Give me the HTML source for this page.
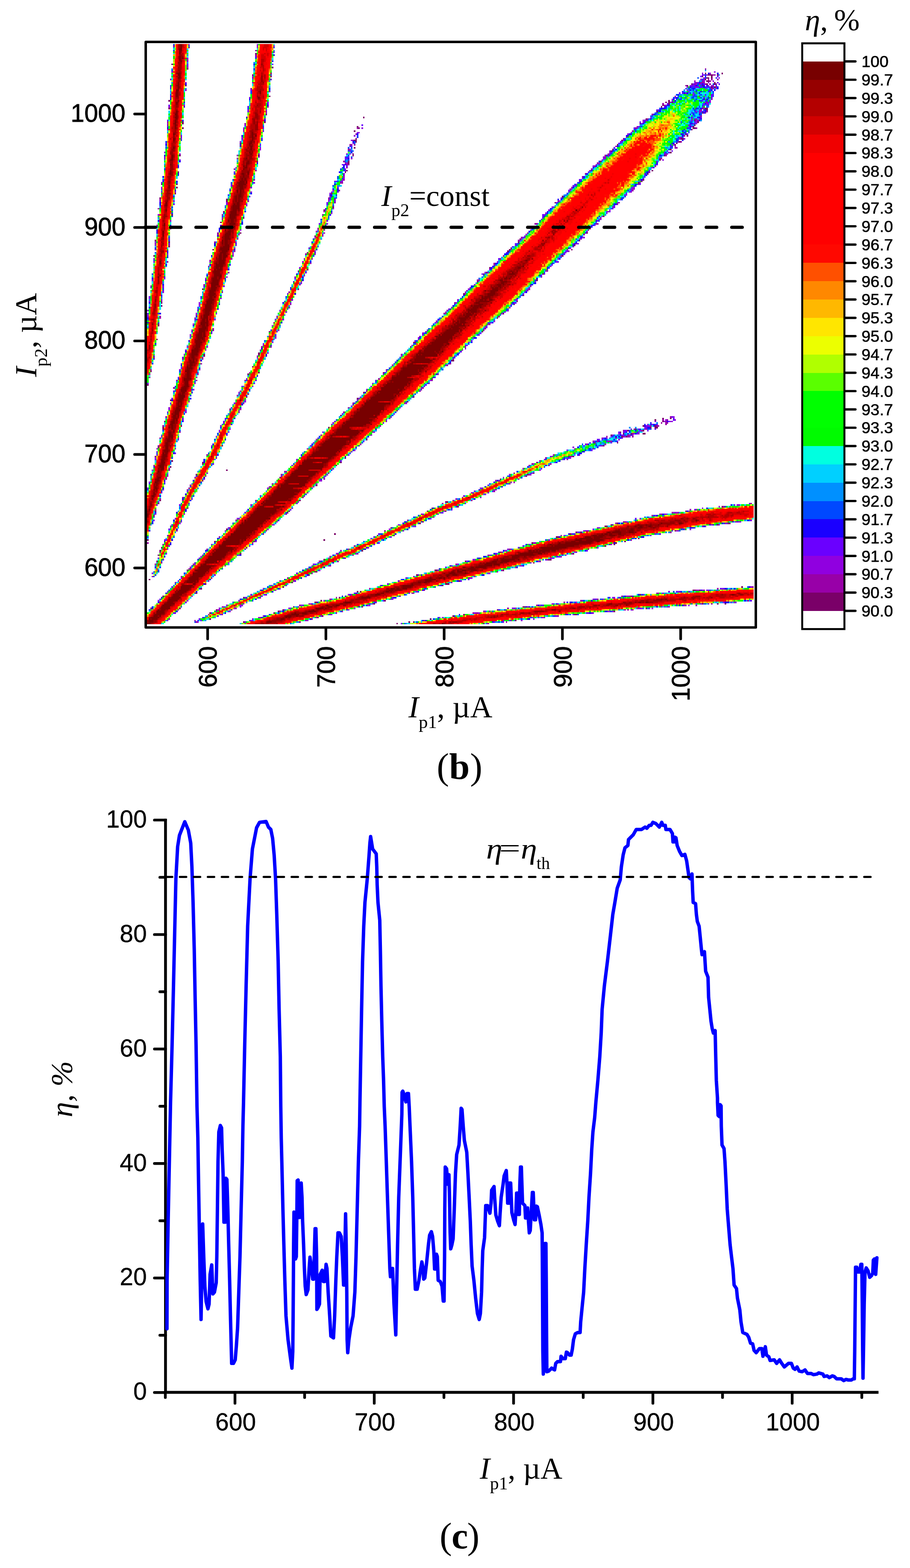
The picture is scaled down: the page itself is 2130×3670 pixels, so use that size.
<!DOCTYPE html>
<html lang="en"><head><meta charset="utf-8"><title>Figure (b), (c)</title>
<style>html,body{margin:0;padding:0;background:#fff}svg{display:block}.s{font-family:"Liberation Sans",Arial,sans-serif}.r{font-family:"Liberation Serif","Times New Roman",serif}.i{font-style:italic}.b{font-weight:bold}</style></head><body>
<svg width="2130" height="3670" viewBox="0 0 2130 3670">
<rect width="2130" height="3670" fill="#fff"/>
<g fill="none" shape-rendering="crispEdges">
<path transform="translate(0,1.5)" stroke="#0048ff" stroke-width="3" d="M405 103h4m231 7h3m-238 7h4m188 18h4m32 39h3m1014 0h3m-21 7h4m14 0h3m-1255 18h3m1231 0h4m3 0h4m-1245 7h3m1217 0h3m39 0h4m-1078 7h4m1038 0h4m14 0h4m7 0h3m-74 11h3m32 0h11m36 0h3m-89 7h4m3 0h7m32 0h4m11 0h3m-67 7h3m75 0h3m-17 7h3m7 0h4m-11 11h4m-118 7h8m81 0h4m3 0h4m7 0h4m-121 7h7m96 0h3m-110 7h4m103 11h3m-1013 7h3m879 0h7m-21 7h7m110 0h4m10 0h4m-14 7h3m4 0h3m-28 11h3m7 0h4m-1177 7h3m185 0h4m971 0h3m-761 7h4m615 7h4m-637 11h4m3 0h7m608 0h4m-11 7h4m-623 7h4m7 0h4m-18 7h3m4 0h4m714 11h4m-1120 7h3m381 0h3m0 7h4m-391 11h3m370 7h4m7 0h3m562 0h4m-580 7h4m551 7h3m143 0h3m-956 11h3m783 14h3m-555 7h4m7 0h7m516 11h3m-935 7h4m401 0h4m509 7h3m135 0h4m-1032 18h4m114 0h3m246 0h3m-21 14h4m640 0h3m-39 32h4m-15 7h4m-142 11h3m-469 7h3m-384 14h4m946 11h3m-956 7h3m932 7h4m-143 7h4m-32 25h4m-779 25h3m747 0h4m-591 18h4m700 0h4m-146 7h4m-416 7h3m402 0h4m-402 18h3m509 0h7m-21 14h3m-526 7h3m381 0h3m-665 11h4m768 0h7m-494 7h3m353 0h3m-11 7h4m-53 50h3m114 7h4m-153 25h3m-18 14h4m124 0h4m-576 7h3m111 18h3m420 7h3m-593 18h3m146 7h3m409 0h4m-11 7h4m-18 11h4m-413 14h4m-7 7h3m377 11h4m-392 7h4m11 7h3m-28 7h3m1010 0h4m-21 11h10m-35 7h3m-57 7h4m4 0h3m14 0h4m-608 7h3m566 0h3m-583 11h4m537 0h3m-981 7h3m317 0h3m623 0h3m43 0h3m-28 7h3m11 0h4m-683 7h3m562 18h4m-882 7h3m93 7h3m744 18h3m-786 7h4m725 0h8m-847 18h4m32 0h3m797 0h7m-747 7h4m-104 7h4m758 7h3m-679 11h3m-10 14h3m15 0h3m-25 11h4m-64 21h3m608 0h4m534 0h3m-562 11h4m32 0h3m-587 7h4m1270 0h3m-761 7h4m35 0h4m665 0h3m-56 7h3m14 0h4m-78 11h3m-220 7h3m-451 7h3m-43 18h4m-21 7h3m43 0h3m-288 7h4m590 0h4m163 0h4m-203 7h4m3 0h4m-608 25h3m-163 7h3m7 0h4m327 0h4m-345 11h3m57 7h4m515 0h4m146 0h3m-697 25h4m210 0h3m1049 0h4m-1209 7h3m1121 0h3m-124 7h3m-896 7h4m835 0h7m-547 11h3m751 0h3m25 0h7m-1230 7h3m384 7h4m-185 11h4m135 0h3m562 0h4m14 0h4m-879 7h4m544 0h3m214 0h3m-661 7h3m605 0h4m-516 7h3m264 0h3"/>
<path transform="translate(0,2)" stroke="#0048ff" stroke-width="4" d="M441 106h3m-43 57h4m1238 21h3m-14 11h4m32 0h3m-50 7h4m11 0h3m4 0h3m4 0h3m4 0h3m-1031 7h4m988 0h4m3 0h4m25 0h7m-1078 7h4m1024 0h4m50 0h3m-1273 4h3m1181 0h4m39 0h3m11 0h4m-1245 7h3m1174 0h4m7 0h3m4 0h3m8 0h3m11 0h7m14 0h4m-18 7h3m8 0h7m7 0h7m-21 14h3m14 0h4m-1078 4h4m960 0h4m10 0h4m60 0h4m7 0h4m-96 7h3m82 0h3m15 0h3m-114 7h4m78 0h4m21 0h4m-1217 14h4m1085 0h3m75 4h3m18 0h7m-14 14h4m3 0h4m-132 7h4m114 0h3m4 0h3m-779 11h4m622 7h4m117 0h7m-1202 7h4m437 0h4m750 0h4m-18 7h4m-1185 7h4m423 0h4m3 0h4m743 0h7m-11 4h4m-11 7h4m-747 7h4m608 0h3m118 0h3m-743 14h3m591 0h3m-1020 18h3m409 0h4m3 0h4m-11 7h4m711 0h4m-968 4h4m960 0h4m-726 7h4m715 0h3m-1131 7h4m160 0h3m-135 7h4m124 0h4m46 0h3m758 0h7m-580 7h4m565 0h4m132 0h3m-18 11h4m-146 7h4m-925 7h4m910 0h4m138 0h4m-11 7h4m-1057 18h4m121 0h3m-128 7h4m882 0h4m-890 7h4m117 0h4m750 4h4m-512 7h3m626 0h4m-139 7h4m135 0h3m-14 7h4m-879 7h4m729 4h3m-857 21h4m-4 7h4m953 0h4m-146 11h3m-21 14h4m-8 7h4m124 0h4m-928 4h3m338 0h4m562 14h3m-142 7h4m120 7h4m-139 4h4m121 7h3m-145 7h3m-608 7h3m178 0h4m409 0h3m-597 4h3m722 0h4m-7 7h3m-871 14h4m295 0h3m417 0h3m-725 18h3m89 0h4m195 0h4m544 0h3m-757 25h3m719 7h3m-818 7h4m661 7h4m-694 7h4m110 0h4m551 11h4m-384 14h3m356 7h7m-356 4h4m469 0h4m-502 14h4m352 0h4m-11 7h7m121 0h4m-164 32h3m121 0h4m-139 11h4m-18 14h4m117 0h3m-615 7h4m-7 18h3m36 7h3m420 0h4m-434 18h3m-7 14h4m128 0h3m388 0h3m-405 18h4m259 0h4m92 21h4m-498 4h3m93 14h3m257 0h3m-274 18h4m-139 7h4m35 0h4m1049 0h4m-968 7h4m17 0h4m935 0h4m-726 7h4m683 0h3m-935 7h4m910 0h7m-28 4h3m36 0h3m4 0h4m-82 7h3m29 0h3m-572 14h3m551 0h4m-1017 7h3m118 0h3m328 0h3m-420 11h4m925 0h3m-647 14h3m-330 7h3m911 0h3m-57 25h4m-754 11h4m-8 7h4m260 7h3m434 0h4m-456 14h4m-267 4h4m619 7h3m-53 18h3m39 0h4m626 0h4m-694 7h4m626 0h3m-971 7h4m306 7h3m548 0h3m18 0h4m-1131 11h3m569 0h4m487 0h4m263 0h3m-1212 7h3m431 0h3m711 0h4m-103 14h7m-245 7h3m-469 4h7m444 0h4m-1000 7h4m57 0h4m867 7h4m-779 7h4m377 0h3m-18 7h4m-395 18h4m846 0h4m-29 7h4m-928 11h3m-7 14h4m345 0h7m-360 7h4m-11 11h4m43 21h3m228 0h3m-18 7h4m388 0h3m729 0h4m-1288 4h4m523 0h7m711 0h4m-736 7h3m594 0h4m-761 7h3m679 0h4m-928 7h3m843 0h4m25 0h3m4 0h3m-871 7h3m772 0h4m-825 4h3m196 0h3m128 0h4m466 0h3m-81 7h3m313 0h4m-374 7h4m-420 7h4m352 0h3m274 0h4m-939 4h3m153 0h4m409 7h3m228 0h4m-285 7h4m7 0h3m192 0h4m-768 7h3m516 0h4m188 0h4m3 0h4"/>
<path transform="translate(0,1.5)" stroke="#0090ff" stroke-width="3" d="M405 110h4m231 7h3m-242 43h4m188 14h4m1085 0h3m-1284 18h4m28 14h4m1177 0h4m18 0h3m14 0h4m14 0h4m-1277 7h3m1199 0h4m17 0h4m11 0h3m-21 11h3m22 0h3m4 0h3m-53 7h4m21 0h3m29 0h3m-56 7h3m-1024 7h3m1050 0h3m-92 11h3m71 0h4m3 0h4m-7 7h3m-1010 7h4m999 0h4m11 0h3m-114 7h4m-957 18h4m1035 0h3m-999 7h3m-227 7h3m171 18h4m885 7h4m-1071 7h4m217 0h3m811 25h4m114 0h10m-1166 7h3m423 0h4m597 0h4m125 0h3m-1159 11h3m29 0h3m978 0h4m3 0h4m-18 7h4m128 0h3m-153 18h4m117 14h4m-18 7h7m-14 11h4m-698 7h4m683 0h3m-1091 7h3m939 0h4m3 0h4m-797 7h4m-11 18h3m235 0h4m530 0h3m132 0h3m-153 14h8m-769 11h4m43 0h3m196 7h3m473 25h4m-690 7h3m-195 7h3m25 0h4m964 0h3m-615 7h4m448 18h3m-14 14h4m-22 11h4m128 0h7m-587 7h4m437 0h4m-783 14h4m892 0h4m-573 11h4m-334 7h3m96 0h4m42 0h4m178 0h3m420 0h4m-783 7h4m21 11h4m92 14h4m39 7h3m694 11h3m-842 7h3m288 0h4m526 14h4m-25 18h3m-515 7h3m359 7h4m-406 43h4m11 7h3m-284 25h3m704 14h4m-452 7h4m309 0h7m-515 18h3m488 0h3m-498 14h4m601 0h3m-430 11h4m-146 7h3m111 14h3m11 11h3m-17 25h3m-28 7h3m-18 25h4m18 0h3m360 0h3m-530 7h4m32 14h3m1064 11h3m11 0h4m-751 7h4m-384 7h3m128 0h4m935 0h4m14 0h3m-722 7h4m697 0h4m-929 11h4m868 0h3m11 0h7m-18 7h4m-569 7h3m548 0h4m-982 7h4m96 11h3m196 0h3m-206 7h4m736 14h3m-853 18h3m-42 7h3m402 0h4m-288 7h3m-28 11h3m-3 32h3m-35 32h3m157 0h3m-220 7h3m303 0h3m893 0h3m-1003 7h4m-160 11h4m1059 0h4m4 0h3m238 0h4m-1369 7h3m580 0h3m-540 7h3m15 0h3m100 18h3m801 0h3m185 0h4m-1003 7h3m968 0h3m-224 7h4m188 0h4m-217 7h3m178 0h4m-228 11h4m-420 14h4m32 0h3m-455 18h3m377 0h4m-388 7h4m700 0h4m139 0h3m-498 7h4m469 0h8m-47 7h4m-655 11h4m196 7h3m384 0h4m-441 7h3m399 0h7m-651 7h4m220 0h4m3 0h4m1024 11h4m7 0h7m-847 7h4m708 0h3m4 0h7m-982 7h4m348 0h4m-68 18h4m757 0h4m-1106 7h3m164 0h4m860 0h4m-391 7h3m274 0h4m7 0h3m-131 11h3m-832 7h4m-118 7h4m89 0h3m719 0h3m-256 7h4"/>
<path transform="translate(0,2)" stroke="#0090ff" stroke-width="4" d="M437 127h4m-4 18h4m152 0h4m-4 7h4m-4 11h4m1053 0h3m-1063 21h3m36 4h4m1003 0h7m-1014 14h4m967 7h4m7 0h3m4 0h3m-10 7h3m11 0h3m4 0h4m-47 4h7m11 0h4m17 0h4m4 0h3m-11 7h4m21 0h4m-1074 7h3m-156 7h3m1156 0h4m50 0h3m-82 7h4m89 0h3m-24 4h3m-89 7h4m64 0h3m11 0h4m-100 7h7m82 0h3m-103 7h7m82 0h4m3 0h4m-11 7h4m3 0h4m14 0h4m-32 4h3m-999 7h3m879 0h7m114 0h7m-132 7h4m103 7h4m-4 7h4m-22 4h4m-22 14h4m7 0h7m-135 7h4m106 7h7m-743 4h4m611 0h4m-7 7h3m114 7h4m-14 7h3m-989 7h4m252 0h4m594 0h3m-24 18h3m128 0h7m-146 7h4m-790 11h4m772 0h3m132 0h4m-726 14h4m3 7h7m680 4h3m-1102 7h3m1092 0h4m-690 14h3m-210 7h4m732 0h4m-541 11h4m519 0h4m-932 7h4m1049 0h3m-654 7h3m637 11h4m-1050 7h4m192 7h4m181 0h4m625 14h4m-640 11h3m-192 14h4m661 7h4m-718 4h3m694 14h3m-661 7h3m765 7h3m-7 4h4m-925 14h4m775 0h4m117 7h4m-804 7h3m43 0h4m736 4h3m-579 7h3m-320 25h4m96 0h3m217 0h4m409 0h3m-434 7h4m544 7h4m-761 7h3m-128 18h4m160 7h3m160 7h4m384 0h3m-17 11h3m103 21h4m-704 4h3m566 0h3m-683 14h4m772 14h3m-679 11h4m188 7h4m-32 25h3m455 7h4m-18 14h4m-448 18h3m-153 14h4m117 4h4m-171 14h4m586 0h4m-14 7h3m-586 7h3m153 4h4m412 0h4m-580 7h4m565 0h4m-132 7h4m110 7h3m-25 18h4m-509 7h4m494 0h4m-544 11h3m139 0h4m256 7h3m740 14h4m-68 11h4m10 0h4m-612 7h4m611 0h4m-36 7h4m-29 7h4m11 0h3m-43 7h4m-1003 4h4m320 0h3m665 0h4m28 0h4m-36 7h4m3 0h4m-53 7h3m-25 7h4m32 0h3m-672 7h4m640 0h4m-54 4h7m36 0h3m-24 7h3m-928 7h3m904 0h3m-910 7h3m93 0h3m786 0h4m-50 7h4m-779 11h3m783 0h3m-590 7h4m565 0h4m-882 7h3m825 18h4m-722 7h3m698 0h3m-544 7h3m506 7h3m-64 11h4m32 0h3m-512 7h4m451 0h4m-615 7h3m-25 4h4m163 0h4m455 7h4m3 0h4m533 7h4m-939 14h3m-302 4h4m601 0h3m779 0h4m-1103 7h4m1035 0h3m-722 7h4m-434 7h4m412 0h4m-544 7h3m206 0h4m313 0h3m424 0h3m192 0h4m3 0h4m-957 4h4m921 0h7m-633 7h4m-22 7h4m576 0h4m-68 14h3m-921 4h4m331 0h3m14 7h4m512 0h4m-199 7h3m-28 7h3m128 7h4m-733 4h4m210 0h3m-224 7h4m202 0h4m28 0h4m448 0h4m-29 7h4m-459 7h3m-313 7h4m558 0h4m-46 11h3m110 7h4m-398 7h3m-277 11h3m217 0h4m1085 0h3m11 0h3m-1123 7h3m366 0h4m626 0h4m10 0h4m-669 7h4m569 0h3m-942 14h3m178 0h4m978 0h3m4 0h3m-1180 4h3m761 0h4m11 0h3m317 0h3m7 0h7m-188 14h4m7 0h3m-861 7h4m-181 11h7m135 0h3m449 0h3m203 0h3m8 0h3m-277 7h3m-327 7h7m459 0h7"/>
<path transform="translate(0,1.5)" stroke="#00d0ff" stroke-width="3" d="M636 124h4m-239 50h4m224 25h4m999 7h4m-1206 7h3m1181 0h7m11 0h4m17 0h4m7 0h4m-54 11h4m35 0h4m3 0h4m-53 7h7m14 0h7m21 0h4m-92 14h3m75 0h3m-64 11h4m21 0h7m11 0h4m-29 7h4m3 0h4m14 0h4m-1242 7h4m1209 0h4m17 0h8m-25 7h7m14 0h4m-128 11h3m93 0h7m-4 14h7m-1045 7h3m907 0h4m-872 11h4m-7 14h3m-192 18h4m135 0h3m996 0h4m-1003 7h3m989 0h4m-1000 14h4m43 11h3m914 7h4m-929 18h4m772 0h3m-779 7h4m772 0h3m114 7h7m-1088 32h4m1049 0h3m-25 18h4m-1039 14h4m167 0h4m846 0h7m-14 7h4m-22 18h4m-1003 7h3m160 7h4m807 11h4m-622 7h3m480 0h4m-18 14h4m-865 18h4m359 0h4m604 0h7m-39 32h4m-918 7h4m146 0h3m164 7h3m434 11h4m128 0h3m-579 7h3m438 0h3m125 0h3m-7 7h4m-911 11h4m167 0h3m591 0h3m121 0h4m-142 14h3m125 0h3m-142 7h4m113 18h4m-14 7h7m-861 7h4m21 11h4m668 7h4m-399 7h4m-153 7h4m650 0h8m-157 25h4m92 25h7m-668 7h3m43 0h3m609 0h3m-665 7h4m42 0h4m-11 18h4m-7 7h3m-7 7h4m128 0h3m434 18h4m-580 7h3m566 0h3m-145 18h3m110 7h4m-128 7h4m113 0h4m-548 7h4m533 0h4m-544 11h3m399 7h3m-35 32h3m-11 7h4m-391 25h3m-42 7h3m391 0h4m715 18h7m-1088 7h3m86 7h3m925 0h7m4 0h3m-50 11h4m18 0h3m4 0h3m-67 7h3m25 0h4m-900 7h3m18 0h4m309 0h4m533 0h4m-50 7h4m-25 11h3m-501 7h3m-441 7h4m323 0h4m566 0h3m25 0h4m3 0h4m-833 18h4m203 0h3m548 0h4m-562 7h3m569 0h4m-772 25h4m693 7h4m-729 7h3m11 7h3m605 18h3m33 0h3m-60 7h3m619 11h4m-1309 7h3m207 7h3m996 0h4m-54 7h4m-971 11h3m1153 0h3m-306 14h4m-1014 7h4m210 11h3m715 0h4m188 0h4m-1178 7h4m39 0h4m903 0h4m-445 7h4m-360 7h4m82 0h7m249 0h3m-355 11h3m-10 7h3m694 0h3m132 7h3m-256 25h4m149 0h4m-708 14h4m494 0h4m-516 11h3m182 0h3m288 0h4m132 0h3m-697 14h4m501 0h4m-64 18h3m4 0h3m801 0h3m-1078 7h4m-156 14h3m-14 11h3m299 0h7m914 0h4m-968 7h4m149 0h4m683 0h7m14 0h4m-886 7h4m501 0h7m271 0h3m-352 11h4m-374 7h4m302 0h4m213 0h4m3 0h4m-801 7h4m7 0h4m113 0h4m114 0h3m271 0h3m-611 7h3m181 0h4m121 0h3m267 0h4m160 0h3"/>
<path transform="translate(0,2)" stroke="#00d0ff" stroke-width="4" d="M437 113h4m-4 7h4m195 18h4m-43 7h4m-168 39h4m-39 25h3m1224 0h3m-1230 7h3m1252 0h7m4 0h4m-72 4h4m43 0h7m3 0h7m-1230 7h3m1156 0h4m21 0h4m7 0h3m22 0h3m-71 7h4m60 0h4m-1067 7h3m1000 0h3m47 0h3m-78 7h3m68 0h4m-75 4h3m25 0h4m-1199 7h4m1149 0h3m64 0h4m3 0h4m-1199 7h4m1113 0h4m53 0h4m28 0h4m-11 7h7m-114 7h4m78 4h4m17 0h4m-39 14h3m-1198 7h3m1195 0h4m-1170 7h3m1149 0h4m-103 4h3m107 0h3m-121 7h8m-18 7h3m-7 7h4m-897 7h4m999 0h4m-124 4h3m-629 7h3m740 0h3m-754 7h4m-398 14h3m1121 0h3m-146 11h4m-804 7h4m199 7h3m580 0h4m-11 4h3m-967 7h4m373 7h4m3 14h4m-391 4h3m366 0h4m562 0h3m-10 7h3m-757 7h3m744 0h3m128 0h4m-932 7h4m917 0h4m-1053 7h4m1035 0h7m-680 4h4m669 0h3m-875 21h4m715 0h3m-11 7h4m-28 25h3m125 0h3m-139 11h4m121 0h3m-10 7h3m-138 7h3m118 7h3m-615 18h3m-355 7h3m804 0h4m-488 18h4m462 0h4m-11 7h7m114 7h4m-591 32h4m427 0h3m-619 18h4m718 0h4m-11 7h4m-548 7h4m-345 7h3m22 0h3m711 0h4m-718 4h3m93 0h3m743 0h4m-875 28h4m21 0h4m88 4h4m188 0h4m-292 28h4m775 4h7m-501 14h3m474 0h3m-487 7h3m473 0h4m-761 7h3m744 4h3m-626 7h4m146 0h3m445 14h3m-135 11h4m-335 7h4m313 7h4m-520 14h4m167 0h4m-246 4h4m690 0h3m-587 7h4m142 0h4m419 7h4m-576 7h3m562 0h4m-14 11h3m-448 14h4m17 0h4m267 14h3m-288 11h4m-25 7h3m392 11h7m-523 14h4m99 7h4m270 0h4m-388 7h3m370 4h4m-11 7h4m-256 7h3m-163 7h3m36 0h3m-42 7h3m150 4h3m345 0h4m-356 7h4m337 0h4m605 0h3m-21 7h3m4 0h4m-32 7h3m-1074 7h4m473 0h3m569 0h4m7 0h3m-935 4h4m341 0h4m-331 7h3m210 0h4m665 0h3m4 0h3m-896 7h4m203 0h3m630 0h3m7 0h4m10 0h8m-54 7h4m35 0h4m-868 7h4m793 0h3m7 0h4m21 4h4m-64 7h3m-921 7h4m935 0h4m-911 14h4m71 0h4m17 0h4m736 4h4m28 0h4m-911 7h4m412 0h4m437 0h4m-861 7h4m-7 14h3m288 4h4m89 7h3m-17 14h3m363 11h3m-501 21h3m484 0h7m658 0h4m-246 32h4m-548 4h4m786 0h3m-298 7h3m-32 7h7m-39 7h4m-868 7h3m321 25h3m-284 18h3m231 0h4m558 0h4m-594 14h3m36 0h4m-32 11h3m430 7h4m7 0h4m-786 7h3m744 0h3m-832 14h3m623 0h3m143 0h3m-711 4h3m64 0h4m213 0h4m-235 14h4m170 0h4m-18 7h4m387 0h4m-569 7h4m409 0h3m-14 4h3m829 0h4m32 0h3m-1138 7h4m988 0h4m4 0h3m11 0h3m-1006 7h3m872 0h3m15 0h3m-1067 7h4m996 0h3m-555 7h4m473 0h7m363 0h3m-71 4h4m32 0h3m4 0h3m-153 7h4m-1053 7h4m619 7h3m-619 4h4m121 0h3m132 0h4m583 0h3m-302 7h4m202 0h4m7 0h4m-569 7h3m491 0h3m4 0h4m-242 7h3m182 0h3"/>
<path transform="translate(0,1.5)" stroke="#00fb00" stroke-width="3" d="M437 117h4m160 0h3m-167 7h4m-36 25h4m224 18h3m-203 14h4m1199 18h3m0 7h4m3 0h4m-43 7h4m-18 11h3m8 0h3m25 0h4m-50 7h3m29 0h7m25 0h3m-71 7h4m25 0h3m14 0h8m3 0h4m-64 7h3m11 0h3m-56 18h3m14 0h4m-1135 7h4m1117 0h3m68 0h3m-17 7h3m14 0h4m-1231 18h4m1188 0h3m7 0h8m-22 7h4m10 0h4m-989 7h4m868 0h3m-18 11h4m-7 7h3m-903 7h4m999 0h4m-968 7h4m-4 11h4m935 7h4m-11 7h4m-939 7h3m811 0h4m-22 18h4m114 0h3m-967 7h3m239 18h3m-206 7h3m769 0h3m132 0h3m-711 7h7m555 0h4m-946 11h3m921 7h4m-932 14h4m366 0h7m537 0h4m-555 11h7m3 0h4m-409 14h4m398 0h3m-409 18h4m381 0h3m-192 7h4m195 0h4m626 0h3m-135 7h4m121 0h3m-996 18h4m-4 7h4m156 0h4m-4 7h4m171 18h3m-341 14h3m804 0h4m-705 7h4m-139 11h4m363 0h3m-370 7h4m345 0h3m456 0h3m-466 7h4m569 7h3m-899 11h3m875 7h4m-783 7h4m761 11h3m-24 21h3m-548 18h4m395 0h3m-615 7h4m39 0h3m-53 25h3m189 0h3m516 0h4m-808 14h4m640 18h4m-651 7h3m281 0h4m445 25h3m-128 7h4m-374 32h4m334 0h4m96 18h3m-163 39h3m107 7h3m-17 18h3m-146 25h4m92 14h4m-548 32h4m1095 25h4m-637 14h4m547 11h4m7 0h4m3 0h4m-591 7h4m519 0h4m-7 7h3m-846 7h3m811 0h4m17 0h4m-950 11h4m889 0h4m-505 14h3m466 0h4m-484 7h4m-427 11h3m889 0h11m-43 14h4m-871 7h3m295 0h4m516 18h3m-715 7h4m-25 7h4m672 11h3m-515 7h3m413 18h3m-441 7h4m89 0h3m939 0h4m-1206 7h4m1156 0h3m-921 7h3m317 0h4m32 0h3m-370 11h4m1063 0h4m-1170 7h3m1106 0h4m14 0h4m-1046 7h4m288 0h7m483 0h4m-797 7h4m284 0h4m-566 11h4m1160 0h3m-612 7h4m388 0h3m7 0h4m-39 7h3m-35 7h3m-391 11h4m522 0h4m-580 7h4m-331 14h4m74 0h4m220 0h4m25 0h3m281 11h4m146 0h7m-199 14h3m139 0h3m-35 7h3m4 0h4m-737 11h4m281 0h3m260 0h4m-313 21h3m228 0h3m-501 11h3m239 0h3m210 0h4m825 0h3m-1088 7h4m942 0h4m-619 7h3m552 0h3m-917 7h3m210 0h4m117 0h3m4 0h4m-548 11h3m491 0h4m-29 7h4m679 0h4m-338 7h3m246 0h3m-803 11h3m455 0h4m-480 7h3m434 0h4m181 0h4m-768 7h3m711 0h4m7 0h4m-260 7h4m181 0h4"/>
<path transform="translate(0,2)" stroke="#00fb00" stroke-width="4" d="M636 120h4m-4 7h4m-7 18h3m-235 25h4m28 0h4m156 0h4m-196 7h4m1231 32h7m3 0h11m-29 7h4m28 0h4m-1078 4h4m1021 0h10m11 7h7m21 0h4m-1234 7h3m1142 0h4m7 0h7m3 0h4m14 0h4m10 0h4m25 0h3m-88 7h7m17 0h8m17 0h4m3 0h8m-18 7h3m25 0h4m-78 4h3m11 0h3m22 0h7m7 0h3m-1234 14h4m1206 0h3m-67 7h3m53 0h4m0 7h4m7 0h3m-103 4h7m68 7h7m11 0h7m-114 7h3m93 0h3m4 0h7m-124 7h3m121 0h4m-132 7h4m103 0h3m-978 4h4m857 0h4m99 0h4m0 7h3m-28 14h3m-110 7h4m-1064 4h4m28 0h4m1124 7h3m-121 7h4m-1017 7h3m1000 0h3m114 0h4m-1156 7h3m1142 0h7m-982 4h4m-174 7h3m1135 0h3m-725 7h3m-391 11h4m384 0h3m-3 7h3m569 0h4m124 0h4m-708 7h4m558 7h4m121 0h7m-904 7h4m192 0h4m565 0h4m121 0h7m-697 11h3m676 0h3m-931 7h3m238 0h4m4 0h3m-11 7h4m658 11h4m-139 7h3m-540 21h3m637 0h3m-650 4h3m647 0h4m-896 14h3m239 7h3m-203 11h4m192 0h4m604 7h4m-18 14h4m-623 7h4m487 4h4m99 14h4m-135 7h3m-836 11h4m128 14h3m40 0h3m-156 25h3m882 0h4m-889 7h3m872 0h3m-882 11h4m320 0h3m-352 21h4m117 0h4m611 11h4m-580 7h4m153 0h3m537 0h4m-32 21h3m-679 4h4m160 0h3m384 0h4m-715 7h4m828 0h4m-836 7h4m818 0h3m-512 7h4m487 7h3m-811 4h4m-4 7h4m790 0h3m-647 14h3m505 0h4m121 0h4m-641 7h4m135 0h4m359 4h3m-373 14h3m8 7h3m-21 7h3m466 0h4m-608 4h3m-124 14h3m71 0h4m36 0h3m-46 7h3m-78 7h4m690 0h3m-455 4h4m327 0h3m-512 28h4m160 0h3m306 4h4m117 0h4m-673 7h4m249 0h4m-257 7h4m103 7h4m-7 7h3m-42 4h3m448 0h4m114 0h3m-131 14h3m110 0h4m-526 7h3m509 0h7m-519 4h3m107 0h3m7 14h4m-139 25h4m99 0h4m256 7h4m-260 18h4m345 0h3m591 7h3m11 0h3m-629 7h3m-451 7h3m996 11h4m-29 7h4m-36 7h4m-4 7h4m3 0h4m-57 7h3m-17 4h3m7 0h4m25 0h3m-640 7h4m611 0h4m-626 7h4m569 0h3m-793 7h4m771 0h4m-576 7h3m559 0h3m-569 4h4m548 0h3m-843 14h4m804 0h3m-14 7h3m-88 39h3m-736 18h3m324 0h4m1063 7h4m-1327 4h4m590 0h3m-7 14h4m562 0h3m-56 7h10m-558 11h3m495 0h3m242 0h4m-1387 7h3m1330 0h4m-1149 7h4m384 0h3m673 7h3m-992 7h3m-96 4h4m1003 0h3m-220 7h3m-455 7h4m416 0h3m-899 7h3m868 0h4m-765 7h3m367 0h3m-487 4h4m832 0h7m171 0h3m-910 7h3m872 0h3m-540 7h7m466 7h3m-540 7h3m349 0h3m-579 4h3m217 0h4m-388 7h4m366 0h3m8 7h3m292 0h3m135 0h4m-164 7h4m132 0h3m-441 7h4m-54 11h4m281 0h3m128 0h4m-210 21h4m124 0h4m-623 11h4m235 0h3m331 0h3m662 0h4m-811 7h3m683 0h4m-914 7h3m-18 7h4m786 0h3m-633 4h4m121 0h3m-163 7h7m565 0h4m292 0h3m4 0h3m-768 7h4m-416 7h3m89 0h4m160 0h3m487 0h4m181 4h4m21 0h4m-971 7h3m224 0h4m-153 7h4m117 0h4m113 0h4m309 0h4m199 0h4m-658 7h3"/>
<path transform="translate(0,1.5)" stroke="#00ff00" stroke-width="3" d="M604 103h4m-7 21h3m-199 11h4m188 7h4m-4 7h4m-168 25h4m192 0h4m-232 25h4m1238 7h3m-1021 7h4m996 0h3m15 0h3m4 0h3m-1223 11h3m153 0h4m35 0h4m960 0h4m14 0h4m35 0h4m7 0h3m-1230 7h3m1174 0h4m-1213 7h3m1188 0h7m25 0h7m18 0h4m-1028 7h3m943 0h4m17 0h4m14 0h11m3 0h15m-86 11h11m3 0h4m7 0h7m4 0h3m18 0h4m-64 7h7m10 0h4m18 0h7m3 0h11m-75 7h8m10 0h4m42 0h8m7 0h3m-1220 7h4m178 0h3m950 0h11m3 0h7m4 0h3m36 0h3m-17 11h7m7 0h3m4 0h4m-100 7h4m3 0h4m64 0h3m22 0h7m-114 7h3m4 0h4m60 0h4m14 0h3m4 0h3m-106 7h3m4 0h3m68 0h4m17 0h4m3 0h4m-1031 11h3m904 0h3m85 0h4m4 0h7m-111 7h4m82 0h7m3 0h11m-1156 7h4m1035 0h3m4 0h3m82 0h18m-110 7h3m-1074 11h4m1053 0h3m100 0h3m4 0h3m-1170 7h4m1042 0h3m104 0h3m-124 7h3m-1006 7h3m1000 0h3m107 0h3m-935 11h4m-217 14h3m409 0h7m584 0h3m118 0h10m-1106 11h4m960 0h3m4 0h4m110 0h7m-14 7h3m4 0h3m-707 7h3m-416 7h4m402 0h3m566 0h7m-18 11h3m121 0h4m-686 7h3m548 0h3m121 0h4m-14 7h7m-135 7h3m125 0h3m-146 11h4m128 0h4m-18 7h7m-669 7h4m651 0h3m-1021 7h4m356 0h3m7 0h4m516 0h3m-896 11h3m875 0h7m-885 7h3m868 0h7m107 7h4m-993 7h4m348 0h4m512 0h4m110 0h3m-131 11h3m118 0h3m-128 7h4m117 0h4m-139 7h7m114 0h7m-18 7h4m-128 11h7m-18 7h4m3 0h4m-14 7h3m114 0h4m-8 7h4m-932 11h4m149 0h4m636 0h4m117 0h4m-132 7h4m3 0h4m107 0h7m-576 7h3m562 0h4m-907 7h3m146 0h4m163 11h4m444 0h4m114 0h7m-139 14h4m-658 11h3m-128 7h4m334 7h4m-345 7h3m317 11h3m413 0h7m-743 7h3m118 0h3m-103 7h4m302 0h3m392 0h3m-729 18h4m113 0h4m188 0h4m398 0h4m117 0h4m-836 7h4m153 0h3m541 0h3m111 7h7m-509 7h4m-11 11h3m367 0h3m-10 7h3m114 0h4m-128 7h3m-647 7h3m630 0h7m114 0h3m-675 11h3m39 0h4m146 0h3m463 0h7m-132 7h4m-623 7h4m-7 7h7m601 0h3m-359 11h4m10 0h4m327 0h7m111 0h7m-648 7h4m171 0h3m455 0h4m-640 7h3m36 0h4m-43 7h3m182 0h3m-153 11h4m142 0h4m313 0h3m-579 7h3m253 0h3m-7 7h4m419 0h4m-683 7h4m234 0h4m-246 11h4m662 0h3m-669 7h4m64 7h4m-4 7h4m569 0h3m-14 11h4m-534 7h4m103 18h3m392 0h3m-21 14h3m-537 7h4m512 11h4m-121 7h3m-377 14h4m99 0h4m363 0h7m-363 11h4m-121 7h3m448 0h4m-11 7h7m-341 7h3m-10 11h3m214 0h3m-242 7h4m875 0h7m4 0h3m-1021 7h4m349 0h3m100 0h3m519 0h4m11 0h3m4 0h3m-971 7h4m309 0h4m605 0h3m7 0h11m11 0h7m-879 11h7m811 0h4m14 0h11m-633 7h3m96 0h4m501 0h14m-67 14h3m-860 11h3m281 0h4m-324 7h4m309 0h4m562 0h3m-850 7h4m804 0h3m-814 7h3m359 0h4m427 0h3m25 0h4m-473 11h3m-391 7h4m28 0h4m-7 7h3m245 0h4m96 0h4m394 0h4m25 0h3m-547 18h3m86 7h3m395 0h4m-733 7h3m715 0h4m-726 11h4m217 0h3m1082 0h3m14 0h4m-1259 7h3m569 0h4m28 0h4m580 0h3m-601 7h4m551 0h4m-1224 7h4m298 0h4m345 0h4m515 0h7m-1113 11h4m1049 0h4m227 0h4m-1291 7h3m548 0h7m683 0h3m-1312 7h4m177 7h4m377 0h4m24 0h4m437 0h4m-466 11h4m583 0h4m-907 7h3m872 0h3m-974 7h3m82 0h3m264 0h3m409 0h4m-889 7h3m7 0h4m444 0h4m398 0h4m171 0h3m-604 11h3m-260 7h4m619 0h3m-814 7h4m99 0h4m334 0h4m334 0h3m153 0h4m-562 18h4m337 0h4m-729 7h3m82 0h4m277 0h4m25 0h3m306 0h4m131 0h4m-694 7h4m203 0h3m306 0h3m4 0h4m128 0h3m4 0h7m-818 7h3m68 0h4m64 0h3m221 0h7m274 0h3m-331 11h4m-199 7h3m178 0h4m277 0h4m128 0h3m-434 7h4m25 0h3m239 0h7m-455 7h3m423 0h4m121 0h3m-412 11h3m360 0h7m686 0h4m25 0h3m-1312 7h3m445 0h3m111 0h3m612 0h11m-1195 7h3m196 0h3m22 0h3m875 0h11m-1120 7h3m192 0h4m14 0h3m193 0h3m626 0h4m10 0h4m320 0h3m-1212 11h3m18 0h4m750 0h4m291 0h4m14 0h7m-935 7h3m544 0h4m21 0h4m210 0h3m11 0h4m3 0h7m4 0h7m14 0h4m-1195 7h3m324 0h3m118 0h3m392 0h3m7 0h4m217 0h3m7 0h4m-352 11h3m221 0h3m4 0h4m-843 7h3m4 0h3m7 0h4m235 0h3m303 0h3m203 0h7m-548 7h4m288 0h3m8 0h3m153 0h4m10 0h7m-615 7h4"/>
<path transform="translate(0,2)" stroke="#00ff00" stroke-width="4" d="M405 120h4m-4 11h4m24 7h4m156 39h4m32 7h4m-43 4h3m-192 7h4m224 0h4m978 7h3m18 7h4m-1206 7h3m-3 4h3m192 0h4m971 0h7m53 0h4m-1078 7h4m1006 0h8m-1206 7h3m224 0h4m964 0h3m4 0h4m3 0h7m4 0h3m11 0h4m-1238 7h3m25 0h4m192 0h3m957 0h4m39 0h3m-1006 7h3m943 0h7m11 0h3m11 0h4m21 0h7m-1234 4h3m182 0h3m36 0h3m939 0h8m7 0h3m25 0h4m-1185 7h4m1127 0h11m11 0h3m4 0h7m14 0h4m-64 7h3m4 0h7m25 0h3m4 0h3m11 0h4m-1217 7h4m28 0h4m188 0h4m914 0h4m3 0h7m43 0h3m4 0h4m3 0h4m-89 7h3m4 0h3m50 0h4m10 0h4m4 0h3m-1184 4h3m1092 0h4m10 0h4m11 0h3m36 0h3m7 0h4m7 0h4m-1188 7h3m1082 0h3m71 0h4m-1192 7h4m174 0h4m932 0h7m67 0h4m3 0h4m3 0h4m-1177 7h3m1064 0h10m72 0h3m4 0h7m-103 7h3m78 0h4m4 0h3m4 0h7m-1017 4h3m907 0h4m85 0h7m-1156 7h4m1053 0h3m82 0h3m4 0h7m-114 7h7m86 0h3m4 0h3m4 0h7m-25 7h4m7 0h7m4 0h3m-1184 7h3m25 0h4m1021 0h3m100 0h10m-953 4h4m839 0h4m103 0h7m-1174 7h4m1045 0h4m103 0h4m3 0h4m-1167 7h4m25 0h3m139 0h3m872 0h3m100 0h4m-939 7h3m822 0h3m-25 11h4m117 0h4m3 0h4m-982 7h4m843 0h7m117 0h4m-14 7h3m-10 7h3m-918 4h4m786 0h4m-840 7h4m242 0h3m701 0h3m-910 7h3m772 0h7m121 0h4m-1117 7h4m25 0h3m377 0h7m-416 7h4m971 0h3m-818 4h4m238 0h4m561 0h4m-11 7h4m117 0h4m-1088 7h3m402 0h4m668 0h4m-879 7h4m743 0h4m117 0h4m-918 7h4m238 0h7m654 0h8m-666 4h4m-14 7h3m662 0h3m-672 7h4m530 0h3m-928 7h4m149 0h3m886 0h4m-893 7h3m232 0h3m523 0h4m113 0h4m3 0h4m-658 4h4m7 0h3m509 0h3m-885 7h3m164 0h4m704 0h3m-7 7h4m-904 7h4m188 0h4m185 0h4m-385 7h4m188 0h4m181 0h4m7 0h4m494 4h4m113 0h4m-818 7h3m193 0h3m484 0h3m4 0h3m-512 7h4m494 0h7m-878 7h3m-3 11h3m377 0h4m587 0h3m-128 7h4m117 0h7m-615 7h4m10 0h4m462 0h4m114 0h3m-128 7h4m113 0h4m-601 7h4m10 0h4m569 0h7m-772 4h4m185 0h3m452 0h3m114 0h4m-7 7h3m-10 7h3m-935 7h3m171 0h4m746 0h4m-569 7h4m433 0h4m-459 4h4m565 0h4m3 0h4m-921 7h3m783 0h3m114 0h7m-743 7h3m164 0h4m551 7h3m-124 4h4m117 0h3m-565 7h3m427 0h4m121 0h3m-889 7h4m121 0h3m626 0h7m-14 7h4m-11 7h4m120 0h4m-871 11h3m118 0h3m210 0h3m-337 7h3m157 0h3m562 0h7m118 0h3m-135 7h4m121 0h3m-690 7h4m554 0h4m117 0h4m-7 4h3m-10 7h3m-530 7h4m391 0h4m114 7h3m-797 11h4m270 0h4m10 0h4m484 0h3m-693 7h3m39 0h4m135 7h4m370 0h3m-562 7h4m658 7h7m-18 11h4m-744 7h4m121 0h3m-49 7h3m185 7h4m327 4h3m-604 7h3m249 0h4m334 7h4m-22 14h4m-342 11h4m441 0h4m-456 14h4m14 0h4m416 0h3m-128 7h4m114 0h3m-565 11h3m548 0h4m-594 7h3m463 0h3m114 0h3m-590 7h4m455 0h3m-462 7h4m149 0h4m295 4h3m93 14h3m-391 7h4m-7 4h3m-28 14h3m388 0h3m-380 7h3m363 0h7m-394 7h3m267 0h3m-263 11h4m359 0h4m-527 7h4m-4 7h4m149 0h4m231 7h3m107 0h4m-470 4h4m455 0h4m-118 7h4m103 0h3m605 0h4m-1103 7h4m373 0h4m106 0h4m-128 14h3m-373 4h4m362 0h4m668 0h4m-32 7h7m-21 7h10m8 0h3m-1021 7h4m32 0h4m935 0h3m15 0h3m-46 7h7m14 0h4m-857 4h3m217 0h4m99 0h4m498 0h3m15 0h3m-533 7h3m-10 7h3m495 0h3m4 0h3m-512 7h4m-434 11h3m893 0h4m-900 7h3m103 0h4m11 7h3m278 0h3m463 0h3m-476 7h3m459 0h3m-572 7h3m520 0h3m32 0h4m-857 4h3m96 0h4m284 0h7m413 0h4m-815 7h4m284 0h4m92 0h4m441 0h3m-832 7h4m277 0h4m92 0h4m430 0h4m-708 7h3m157 7h3m93 0h3m-266 4h3m256 0h4m380 0h4m28 0h4m-697 7h3m-7 7h4m-7 7h3m644 0h4m661 0h7m4 0h10m-1166 4h3m434 0h4m669 0h3m4 0h3m4 0h14m-718 7h3m619 0h4m-1206 7h3m1163 0h4m-1188 7h4m10 0h4m551 0h4m28 0h4m-662 7h4m636 0h4m512 0h4m-961 4h4m89 0h3m1074 0h4m4 0h3m-1188 7h4m395 0h3m509 0h3m214 0h7m-1281 7h4m224 0h7m793 0h4m199 0h4m-1238 7h3m545 0h3m445 0h7m188 0h4m-1199 7h4m1152 0h4m-29 4h4m-651 7h4m437 0h4m174 0h3m-992 7h4m953 0h3m-209 7h3m167 0h4m-1053 7h4m451 0h4m391 0h4m3 0h4m156 0h4m10 0h4m-1024 4h3m829 0h4m156 0h4m-580 7h3m545 0h3m-974 7h3m406 0h3m370 0h4m163 0h4m-864 7h3m334 0h4m327 0h4m-768 7h3m85 0h4m71 0h7m217 0h4m348 0h4m-751 4h4m89 0h3m317 0h4m313 0h3m-736 7h3m157 0h7m235 0h3m-42 7h3m459 0h4m-754 7h3m267 0h7m441 0h4m-441 7h3m277 0h4m-317 4h4m7 7h4m355 7h7m-398 7h4m238 0h4m-285 7h4m256 0h3m-491 4h4m242 0h3m338 0h4m7 0h3m722 0h4m14 0h11m-146 7h4m10 0h4m3 0h4m14 0h4m-822 7h4m704 0h7m11 0h3m-1177 7h4m416 0h7m107 0h3m537 0h4m3 0h4m3 0h8m-715 7h3m4 0h7m110 0h7m487 0h4m4 0h7m3 0h4m316 0h4m7 0h11m-1192 4h4m3 0h4m807 0h4m299 0h3m-825 7h4m423 0h10m4 0h4m3 0h4m256 0h10m8 0h3m18 0h3m-914 7h4m7 0h4m522 0h4m242 0h3m8 0h3m-971 7h4m14 0h3m612 0h4m234 0h4m7 0h4m3 0h4m3 0h4m3 0h4m-1071 4h4m149 0h4m142 0h4m124 0h4m3 0h4m341 0h4m224 0h7m-612 7h4m327 0h4m192 0h3m7 0h4m-896 7h3m75 0h7m125 0h7m110 0h4m298 0h4m181 0h4m3 0h4m-832 7h3m299 0h3m289 0h3m167 0h4"/>
<path transform="translate(0,1.5)" stroke="#00ffe0" stroke-width="3" d="M640 103h3m-238 21h4m227 11h4m-7 14h3m-203 18h4m156 0h4m-196 14h4m185 18h3m1014 7h4m17 0h4m25 0h3m-56 7h3m-11 11h8m7 0h3m25 0h4m-1018 7h4m967 0h4m39 0h4m-1060 7h3m1010 0h4m36 0h3m4 0h3m-71 7h4m39 0h3m18 0h4m-82 11h3m4 0h4m10 0h4m25 0h3m-1220 7h4m28 0h4m1181 0h3m-85 7h3m72 0h3m7 0h4m-18 7h4m3 0h4m-100 11h4m71 0h7m3 0h4m11 0h3m-25 7h4m-103 7h7m-1074 7h3m1060 0h4m85 0h4m14 0h3m-28 11h4m7 0h7m-11 7h7m-28 14h7m3 0h4m-128 11h4m-630 7h4m729 0h3m-18 14h8m-11 11h3m-1148 7h3m210 0h4m793 0h3m-597 18h3m701 0h4m-1128 7h4m28 0h4m956 0h4m124 0h4m-960 7h3m43 7h3m883 0h3m-697 11h4m554 0h4m124 7h4m-935 7h3m238 0h8m-207 7h4m-178 11h4m892 7h4m-779 7h3m765 0h4m106 18h4m-1039 7h4m-4 7h4m1017 0h4m-139 7h4m120 0h4m-644 18h4m608 14h4m-609 11h4m587 0h3m-839 7h4m42 0h4m658 0h3m118 0h3m-611 7h3m598 0h3m-832 18h3m-110 7h4m-32 7h3m804 0h4m-811 7h3m128 0h4m224 0h4m423 11h3m-17 14h3m121 0h7m-580 18h4m11 7h3m530 0h4m-758 7h4m-7 11h3m-103 21h4m284 0h4m401 0h4m-32 25h7m-587 7h4m-7 11h3m-114 7h4m149 0h4m626 7h4m-8 7h4m-142 11h3m-370 14h4m-263 25h3m-7 14h4m697 0h3m-466 11h4m448 0h4m-584 7h4m434 14h3m-32 25h4m-473 25h4m558 0h3m-529 7h3m110 0h4m288 0h4m-452 18h3m36 0h4m497 0h8m-125 7h4m-25 18h3m103 7h4m608 14h4m-1103 11h4m92 0h4m245 0h4m732 0h4m-1124 7h4m1092 0h3m-39 7h4m-1067 7h3m1049 0h4m-1060 11h4m1024 0h3m-35 7h3m-882 14h4m857 0h4m-875 18h3m808 7h3m-821 7h3m768 0h4m25 0h3m4 0h3m-512 11h4m-11 7h4m455 7h4m-54 7h4m32 0h3m-572 11h3m505 0h4m-697 14h3m-85 18h4m-8 7h4m220 7h4m1060 11h7m-100 14h4m-1142 7h4m1081 0h4m7 0h3m82 25h7m-729 18h4m-488 7h4m466 0h3m413 0h4m-406 7h7m555 0h4m-1074 18h3m455 7h4m501 0h4m-960 7h3m434 0h4m494 0h4m-559 7h4m515 0h4m-512 11h3m303 0h3m-711 7h4m387 0h4m-406 7h4m3 0h4m377 0h4m-50 7h3m306 0h4m138 0h4m-46 11h3m-170 7h3m128 0h4m-665 7h3m441 18h4m-239 7h4m932 0h7m14 0h4m-993 14h4m181 0h4m124 0h4m512 0h4m-889 11h7m754 0h3m7 0h4m-953 7h3m879 0h3m4 0h3m289 0h3m-1006 7h3m263 0h4m647 0h4m-1057 11h4m694 0h3m4 0h3m-64 7h7m-46 7h4m-630 7h4m298 0h4m267 0h3m178 0h4"/>
<path transform="translate(0,2)" stroke="#00ffe0" stroke-width="4" d="M405 113h4m192 0h3m-167 18h4m152 25h4m-164 21h4m-36 7h4m185 11h3m-163 14h3m1210 0h3m-1021 7h4m989 0h3m18 0h14m-21 4h4m7 7h3m-42 7h3m14 0h4m-57 7h4m7 0h3m11 0h3m18 0h4m21 0h4m17 0h4m-85 7h3m7 0h4m28 0h4m14 0h4m-25 4h3m-67 7h3m18 0h4m32 0h3m-3 7h3m4 0h3m7 0h4m-100 7h4m-1142 7h4m1127 0h4m64 0h3m-92 11h4m85 0h11m-104 7h4m71 7h4m7 0h3m4 0h3m-1027 7h3m1007 4h3m7 0h7m-131 7h3m107 0h4m-1014 7h4m-150 7h4m1028 0h3m107 11h3m-1006 7h3m850 21h4m-1031 4h3m1021 0h3m118 0h3m-931 7h3m925 0h3m-981 7h3m836 0h4m3 0h4m-605 11h4m576 7h3m-586 7h3m566 0h3m-579 7h3m-7 32h4m537 0h3m125 0h3m4 0h3m-149 11h3m114 14h4m-18 14h4m-897 4h4m43 0h3m836 0h3m-10 7h3m-1006 14h3m-35 11h3m-3 14h3m185 0h4m804 0h3m-615 7h4m-203 7h3m793 0h4m-619 4h4m480 0h3m125 0h3m-28 21h4m-961 7h4m21 11h4m910 0h4m-583 14h3m438 0h3m-807 11h3m22 0h3m100 0h3m-135 14h4m345 7h3m416 0h8m-442 4h4m430 0h4m-772 7h4m338 7h3m523 14h4m-712 4h4m565 7h4m-619 7h4m195 0h4m402 0h3m-704 7h4m92 0h4m718 7h4m-822 4h4m85 14h3m-96 7h4m786 0h4m-146 18h3m-569 7h4m-7 14h3m534 11h3m103 14h4m-132 7h4m-530 4h4m508 7h7m118 0h3m-14 7h3m-448 7h4m-7 11h3m303 7h3m-572 7h3m-7 18h4m106 0h4m124 28h4m-29 11h4m356 46h3m-370 4h4m359 0h4m-377 21h3m978 7h4m-672 25h3m-448 7h4m437 0h4m569 0h7m7 0h4m-36 4h3m-1002 7h3m967 0h4m14 0h4m-992 7h3m313 0h4m661 0h7m-67 7h3m4 0h3m-526 7h4m490 0h4m35 0h4m-548 11h4m476 0h4m-18 7h4m-491 14h4m-299 4h3m754 7h4m-50 7h4m-57 25h3m-804 14h4m765 0h7m28 0h4m-779 7h4m234 4h4m-11 7h4m92 0h4m398 0h4m-57 7h3m36 0h3m-60 7h7m676 0h3m15 0h3m-1053 4h4m377 0h3m637 0h4m-1288 7h4m252 0h4m-320 7h3m1238 0h4m-943 7h4m352 0h3m-57 7h7m29 0h3m758 0h4m-281 4h3m-846 7h3m-227 7h3m1209 0h4m4 0h7m-1295 7h4m562 0h3m14 7h4m-420 11h4m85 0h4m885 0h4m-633 7h3m32 0h4m-57 7h4m-18 7h3m392 0h3m171 0h7m-587 4h4m362 7h4m139 7h3m-39 7h4m-929 7h4m889 0h4m-15 4h4m-181 7h3m150 0h3m-185 7h4m153 0h3m-39 7h7m-814 7h3m761 4h4m-171 7h4m78 14h4m-32 7h3m-391 4h3m242 0h4m843 0h3m-92 7h3m-1177 7h4m135 0h3m203 7h4m-427 7h4m1017 0h3m-46 4h4m323 0h4m-829 7h4m718 0h4m-370 7h3m4 0h3m8 0h3m256 0h4m-1142 7h4m177 0h4m260 0h3m612 0h3m-53 4h4m-879 14h7m103 0h4m630 0h3m-260 7h4"/>
<path transform="translate(0,1.5)" stroke="#1a00ff" stroke-width="3" d="M636 142h4m-47 7h4m-4 11h4m1078 21h3m-42 11h3m-11 7h4m14 0h4m3 0h4m18 0h3m-1049 7h4m978 0h3m7 0h7m50 0h4m-86 7h4m39 0h4m25 0h3m-1273 18h3m182 0h3m989 0h4m67 0h4m3 0h4m-1227 7h3m192 7h4m932 0h7m-25 11h4m78 0h3m22 0h3m-7 7h4m-128 14h3m114 0h4m-139 11h4m106 0h7m-7 7h4m-18 14h4m-769 11h4m622 7h4m117 0h4m10 0h4m-28 7h7m-761 7h3m623 0h3m125 0h3m-142 11h3m-629 32h3m-7 7h4m580 0h3m139 0h3m-149 7h4m124 11h4m-1135 14h4m28 0h4m942 0h4m-580 7h4m700 0h4m-712 11h4m7 0h4m-260 14h4m234 0h7m8 0h3m526 7h4m135 0h7m-1088 11h4m384 14h3m523 0h4m-719 7h4m199 0h3m502 0h3m-10 11h3m125 0h3m-654 7h4m-189 7h4m-171 7h3m360 0h3m623 0h3m-1024 11h3m143 0h3m-149 7h3m1000 0h3m-864 7h4m220 7h4m-235 11h4m46 0h3m658 0h4m128 0h3m-800 14h4m188 0h4m-352 7h3m342 0h3m448 0h4m-800 11h3m904 7h3m-142 7h7m125 0h3m-142 7h3m-800 18h4m334 0h4m-313 7h3m320 0h4m-25 11h3m-309 7h4m857 0h7m-569 7h3m-305 18h3m704 0h4m121 7h3m-700 14h3m548 0h3m-558 11h4m540 0h4m-712 21h4m-4 11h4m309 0h4m491 0h3m-704 7h4m-7 14h3m43 0h3m605 25h4m-473 7h3m310 18h3m-590 7h3m260 0h3m-266 7h3m-7 11h4m690 0h3m-153 21h4m110 11h4m-608 21h3m420 36h3m-270 7h4m256 0h3m-267 7h4m-18 25h4m-125 7h4m1131 0h3m-1024 7h4m964 0h3m11 0h3m4 0h3m-654 11h4m615 0h3m-35 7h3m4 0h4m-25 7h3m22 0h3m-64 7h4m32 0h3m-615 18h3m552 0h3m-18 7h4m-21 7h7m-562 11h3m-334 7h4m-4 7h4m821 0h4m-29 7h4m-505 11h3m-28 21h4m391 11h3m-515 7h3m498 0h4m35 0h4m-57 7h3m-679 25h4m565 18h4m39 0h3m594 0h4m-1224 7h4m1170 0h4m-61 7h4m-587 7h3m545 0h3m-1163 11h4m587 0h3m765 0h3m-284 7h3m224 0h4m4 0h3m-1134 7h3m1074 0h11m-1277 7h4m156 18h4m391 0h3m573 0h4m3 0h4m-1106 7h3m11 7h3m434 0h4m391 0h4m-384 11h7m-296 14h4m213 0h4m21 7h4m313 0h3m-668 11h3m320 0h4m-334 7h3m601 0h4m167 0h4m-200 7h4m-541 25h4m171 0h3m274 0h4m-54 14h4m135 0h3m-423 11h4m373 0h4m647 0h4m-1256 7h4m441 0h3m-35 7h3m4 0h3m651 0h4m14 0h4m-922 7h4m32 0h4m128 11h3m569 0h4m-950 7h4m480 0h3m388 0h4m3 0h4m3 0h4m288 0h4m-1192 7h4m814 0h4m10 0h4m-110 11h3m246 0h7m-719 7h4m-153 7h3m523 0h4m3 0h4"/>
<path transform="translate(0,2)" stroke="#1a00ff" stroke-width="4" d="M640 127h3m1014 43h3m18 0h4m-32 7h3m-1220 18h4m1206 0h3m-32 7h4m28 0h4m28 0h4m-68 7h4m46 0h4m3 0h4m-75 7h4m3 0h4m25 0h3m-53 4h3m-7 7h4m71 0h3m-81 7h3m68 7h3m-1223 7h3m1124 0h4m-14 4h10m71 0h4m7 0h4m-100 7h4m103 0h3m-124 7h3m89 0h4m11 0h3m-1063 7h3m1032 0h3m18 0h7m-1021 7h4m1014 0h3m-131 4h3m-1120 14h3m1202 7h4m-765 7h4m633 0h7m114 0h7m-1035 4h4m896 0h7m124 0h4m-775 14h3m-441 7h4m170 0h4m875 11h4m-623 7h4m-441 7h3m1032 0h3m121 0h4m-733 7h4m-399 7h4m178 4h3m932 0h4m-1124 7h3m384 0h4m587 0h3m-604 14h3m719 0h3m-1102 4h3m953 0h4m-996 7h4m981 0h4m131 7h4m-18 14h4m-150 4h4m-935 7h3m125 0h3m249 0h4m-207 7h4m185 7h3m527 7h3m4 0h3m-942 11h4m1059 0h8m-164 21h3m-512 4h4m-406 14h4m1021 0h3m-832 7h4m-203 7h3m1014 0h4m-875 4h7m725 0h4m-882 7h3m143 0h3m722 0h4m117 14h4m-633 11h3m615 0h4m-850 7h4m835 0h4m-982 7h4m964 0h3m-942 7h3m786 7h7m-693 4h3m811 7h4m-587 7h4m-342 7h4m99 0h4m43 0h3m608 7h4m128 0h3m-750 4h4m-54 14h4m775 0h4m-911 7h4m896 0h4m-779 4h3m224 0h4m540 7h4m-153 7h7m121 14h4m-545 4h4m388 7h3m-736 14h4m309 0h4m533 0h4m-143 7h4m132 0h3m-850 4h4m110 7h3m-92 7h4m81 7h4m562 7h3m-46 43h4m124 0h7m-675 7h3m-82 7h4m245 11h4m-182 7h4m185 7h3m445 0h4m-605 14h4m455 0h3m121 4h4m-633 7h3m39 7h4m551 14h4m-423 4h3m-21 32h3m-138 7h3m402 0h4m-413 14h4m-47 4h4m1117 53h3m-17 7h3m18 0h3m-17 4h7m-36 7h4m-4 7h4m-630 7h4m576 0h4m3 0h4m-925 7h3m907 0h4m-39 4h3m-907 7h4m228 0h3m644 0h3m-885 7h3m335 0h3m516 0h4m42 0h4m-32 7h3m-967 7h4m946 0h7m-854 4h4m192 0h3m644 0h4m-36 7h4m-847 7h4m828 0h4m-78 14h3m-28 11h3m-736 14h4m-96 7h3m64 0h4m708 0h3m-11 4h4m-779 14h4m-7 7h3m53 7h4m-64 4h4m49 7h4m679 0h4m597 14h4m-1281 11h4m142 0h4m466 0h3m-690 7h4m46 0h4m1120 7h4m-538 7h4m-601 4h4m241 0h4m1095 0h4m-1398 7h4m583 0h4m501 0h4m3 0h4m231 0h3m-46 7h4m-1238 7h4m537 0h3m-32 11h4m402 0h3m-25 7h4m188 0h8m-1107 7h4m192 0h4m295 0h3m569 0h4m-1074 7h3m1035 0h4m-583 11h3m-380 7h7m690 0h3m189 0h3m-217 7h4m-775 7h3m744 0h7m-676 7h3m285 4h4m341 0h4m156 0h4m-897 14h4m391 0h4m448 0h3m-700 7h3m192 0h4m-281 7h3m285 4h4m263 0h3m139 0h7m-430 7h3m363 7h4m-598 7h4m1273 7h3m-1106 4h4m1042 0h7m14 0h4m-1263 7h4m174 0h4m953 0h3m-650 7h3m544 0h4m-1120 7h3m541 0h7m455 7h4m355 0h4m-1377 4h4m953 0h4m3 0h7m356 0h11m-857 7h3m4 0h3m399 0h3m327 0h4m3 0h4m-1245 7h4m53 7h4m245 0h4m750 0h7m-896 4h3m850 0h4m-765 7h4m103 7h4m505 0h7m-89 7h3"/>
<path transform="translate(0,1.5)" stroke="#5aff00" stroke-width="3" d="M433 160h4m192 21h4m-203 25h3m1171 25h3m-7 7h4m10 0h4m-36 7h4m10 0h11m-1181 11h4m1166 0h8m-1025 7h4m960 0h4m14 0h3m15 0h3m11 0h3m-53 7h4m17 0h4m21 0h7m-7 7h4m-978 11h3m897 0h3m57 0h4m-71 7h3m82 0h3m-7 7h4m11 0h3m-114 7h4m85 0h4m-114 11h4m-4 7h4m74 0h4m7 0h3m-103 7h4m78 0h4m-1128 7h4m1028 0h3m89 0h7m11 0h3m-1003 11h4m985 0h4m-114 7h4m92 0h4m-1124 7h3m1106 7h4m-121 11h3m100 7h4m-121 7h3m-604 11h7m579 0h4m-793 7h3m203 0h4m-391 7h3m1067 0h7m-900 7h4m196 11h3m-252 7h3m43 0h3m744 7h3m-3 7h3m107 0h11m-875 11h3m733 0h3m114 0h4m-904 7h4m772 0h3m107 7h4m-1046 7h4m1013 18h4m-128 7h3m-900 7h4m377 0h4m3 0h4m601 18h3m-626 7h4m494 0h4m-875 7h3m367 0h3m491 0h4m81 25h4m-121 7h4m-665 18h3m637 0h3m-690 7h4m32 32h3m164 0h4m544 11h3m-764 7h3m754 0h4m-886 7h4m323 0h4m413 7h7m113 0h8m-875 11h3m854 0h3m-700 7h3m-163 7h3m313 0h4m526 0h4m-694 7h4m675 0h4m-135 11h3m-14 14h4m-409 25h3m-299 7h4m775 0h4m-494 7h3m459 18h4m-121 7h3m-352 7h4m316 18h4m110 0h3m-14 14h4m-630 11h4m494 0h4m-11 7h7m107 0h3m-686 7h4m71 0h3m484 0h4m-335 18h4m-167 7h3m171 7h3m-32 25h4m391 7h7m-149 32h4m-285 11h4m266 0h4m-263 7h3m356 0h3m-380 7h3m239 18h3m712 7h3m-644 25h4m526 7h4m7 0h4m-36 7h4m17 0h4m-32 7h3m-49 18h3m-804 7h4m768 0h4m-879 7h4m78 0h4m-93 18h4m825 0h3m-839 25h4m768 0h3m25 0h4m-840 21h4m356 11h3m409 0h4m-431 14h4m388 0h3m-651 11h4m1241 0h7m-1330 14h4m633 0h3m584 0h3m4 0h3m-1035 18h4m395 0h3m22 0h3m-356 14h4m779 0h3m8 0h3m146 7h4m-1167 11h4m924 0h4m163 0h4m-907 7h4m259 7h4m409 0h3m-405 7h3m541 0h4m-50 11h3m-988 7h7m441 0h3m320 7h4m-615 7h3m584 0h3m-765 11h4m85 0h4m67 0h4m555 0h3m-28 7h3m-323 7h7m-43 7h4m391 11h4m-413 7h4m348 7h4m-146 7h7m-448 11h3m1224 0h3m-106 7h3m-779 7h4m-388 18h4m882 0h7m-790 7h4m18 0h3m274 0h4m430 0h4m-854 7h4m256 0h3m523 0h4m-690 11h3m242 0h4m3 0h4m327 0h4m192 0h3m-900 7h4m96 0h3m121 0h4m448 0h4m-370 7h3m295 0h4m-441 7h4m99 0h4m437 0h4"/>
<path transform="translate(0,2)" stroke="#5aff00" stroke-width="4" d="M409 113h3m189 7h3m32 11h4m-43 7h4m-168 14h4m196 0h3m-203 4h4m196 0h3m-203 7h4m196 0h3m971 64h4m0 14h3m-1216 7h3m182 0h3m996 0h4m7 0h7m11 0h7m-43 4h4m3 0h4m7 0h7m4 0h3m-25 7h4m7 0h3m4 0h7m-1028 7h4m35 0h4m928 0h4m10 0h4m14 0h4m3 0h4m3 0h4m4 7h3m-28 7h3m7 0h4m14 0h4m-996 4h3m904 0h3m79 0h3m-35 7h3m4 0h3m-78 7h4m81 14h4m-1202 4h3m1163 0h4m-11 7h4m3 0h4m3 0h4m-1149 7h4m1035 7h7m92 0h4m-110 7h3m89 4h7m-946 7h4m206 0h4m722 0h3m-107 7h4m100 0h3m-121 7h4m99 0h7m-117 7h4m3 0h4m-1010 4h3m975 14h3m111 0h3m-1127 7h3m25 0h4m1077 4h4m-4 7h4m-7 14h3m-910 18h3m196 0h4m558 0h3m-14 7h4m121 0h3m-1084 7h3m157 0h3m904 0h3m-128 7h4m-8 4h4m117 0h4m-868 14h4m195 0h7m641 7h3m-651 7h4m626 0h3m-3 4h7m-886 7h4m740 7h3m121 0h4m-132 7h7m107 7h3m-135 11h4m107 7h3m-850 7h4m234 0h4m480 0h7m-14 7h4m110 0h10m-128 4h4m-501 21h3m-228 7h4m804 4h3m-138 14h3m-814 14h3m772 18h4m-655 7h4m750 11h4m-7 7h3m-10 7h3m-14 11h3m-867 21h3m310 0h3m512 11h4m-516 7h4m380 0h4m117 0h4m-11 7h4m-22 14h4m-694 4h4m-96 7h3m271 0h3m11 0h3m367 0h3m-661 7h3m281 0h4m-288 7h3m630 7h3m107 4h4m-14 14h3m-743 14h3m118 0h3m598 4h3m-138 14h3m-11 7h4m110 0h7m-458 7h3m4 11h3m303 7h3m-573 18h4m235 0h3m310 0h3m-448 14h4m540 0h4m-11 7h4m-125 7h4m-466 18h4m433 7h4m-14 11h3m-402 7h4m381 7h3m93 11h3m-11 7h4m-11 7h4m-14 7h3m-370 43h4m-29 14h4m846 7h4m-640 7h3m-313 4h4m928 0h4m-50 7h4m3 0h4m-818 7h3m811 0h4m-936 7h4m896 7h4m-491 4h3m-387 7h3m374 0h3m466 0h7m-782 7h3m737 14h3m-14 4h4m-737 21h4m256 0h4m423 0h3m-697 7h4m163 0h4m-189 4h4m683 0h3m-754 7h4m64 14h4m245 0h3m1021 4h4m14 0h4m-86 7h4m3 0h4m-992 7h3m-313 7h4m1195 0h3m-907 7h4m316 0h4m530 0h4m220 4h4m-1327 7h4m1262 0h4m-1053 14h3m779 0h4m-509 7h4m462 0h4m185 0h3m-661 4h3m22 0h3m-533 7h3m512 0h4m-317 7h4m857 0h4m-32 7h3m-195 7h3m153 4h4m-1017 7h3m185 0h4m241 0h4m377 0h4m-822 7h4m177 0h7m-10 7h3m737 0h3m-501 7h3m281 11h4m-562 7h3m217 7h4m288 0h3m-529 7h3m189 0h3m427 0h4m-150 4h4m3 0h4m-331 14h4m17 0h4m345 7h3m-629 7h4m56 0h4m164 0h3m370 0h4m-136 4h4m758 7h3m4 0h3m14 0h4m-1071 14h4m868 0h3m-586 7h3m839 0h4m-1177 4h3m-131 7h3m107 0h4m21 0h3m157 0h4m-200 7h4m292 0h3m4 0h3m640 0h4m-324 7h4m-498 4h3m118 0h3m552 0h3m4 0h3m4 0h7m11 0h3m-868 7h8m561 0h4m11 0h3m-604 7h3m125 0h3m420 0h3m-455 7h4m106 0h4m445 0h3m4 0h3"/>
<path transform="translate(0,1.5)" stroke="#6a00ff" stroke-width="3" d="M437 135h4m-4 7h4m-4 7h4m195 0h4m1003 25h7m-1060 7h3m1089 0h3m-1095 11h3m1032 0h3m4 0h4m42 0h4m-64 7h3m4 0h3m-24 7h3m-1209 18h3m224 14h4m946 0h4m-1185 7h4m1259 0h3m-1038 11h3m911 0h7m75 7h3m-1003 14h4m1003 0h3m-128 11h4m117 0h4m-1234 7h3m1099 0h4m-928 7h3m-149 18h3m-39 14h4m1056 0h7m-633 7h4m743 0h4m-11 11h3m8 0h3m-149 7h3m125 0h3m-1173 7h3m217 0h4m199 0h3m4 0h4m-399 7h4m377 11h7m594 0h3m132 0h4m-733 14h3m708 0h4m-14 11h3m-7 7h4m-726 7h7m7 0h4m-260 7h4m953 0h3m-1123 11h3m-3 7h3m409 0h4m537 0h3m-569 25h4m533 0h4m-729 7h3m857 0h4m-7 7h3m-17 7h3m4 0h3m-160 11h4m-7 7h3m132 0h3m-889 14h4m864 0h4m3 0h4m-651 11h3m481 14h3m-836 18h4m807 0h4m142 0h4m-157 7h4m-18 14h3m132 0h4m-196 50h4m-22 25h4m-733 7h4m853 0h4m-861 7h4m846 0h4m-765 18h4m-11 25h3m203 7h4m345 25h3m128 0h4m-14 7h3m-10 7h3m-487 7h3m328 18h3m114 7h4m-11 7h7m-662 11h4m637 7h3m-14 7h3m-650 50h3m598 0h3m-423 7h4m277 0h4m-538 7h4m245 0h4m-32 7h4m21 0h3m274 0h4m121 0h3m-590 11h4m433 14h4m-413 32h4m121 0h3m-135 18h4m96 0h3m1046 0h4m-1057 7h4m256 0h4m778 0h4m-53 7h3m7 0h4m7 0h4m-64 11h3m14 0h4m35 0h4m-1024 7h3m239 0h3m690 0h4m7 0h7m-936 7h4m921 0h7m-1045 7h3m324 0h3m665 0h4m39 0h4m-726 11h4m643 0h4m46 0h4m-708 7h4m636 0h4m35 0h4m-587 14h4m462 11h4m-929 7h4m949 0h8m-25 7h3m-619 7h4m-203 18h4m170 7h4m100 0h3m377 39h4m-452 25h4m391 0h3m662 0h3m-1074 11h4m957 0h3m-658 14h4m32 0h3m527 0h3m167 18h4m-327 14h3m-462 7h4m423 0h3m4 0h3m207 0h3m-1198 11h3m473 7h4m-281 14h3m281 0h4m359 0h4m-669 11h4m619 0h3m-32 7h4m177 0h4m-878 7h3m847 0h3m-957 7h4m92 0h4m822 0h7m-555 11h3m495 0h3m-188 7h3m-615 7h4m266 18h4m377 7h4m-431 14h4m355 0h4m612 11h3m7 0h7m-832 7h4m124 0h4m-512 7h3m160 0h4m-242 7h4m398 0h3m136 0h3m473 0h7m-103 11h4m7 0h3m331 0h4m14 0h3m-1099 7h4m132 0h3m847 0h3m11 0h3m-899 7h3m808 0h3m-964 11h4m256 0h3m562 0h4m-871 7h3m263 0h4m501 0h4m11 0h3m4 0h3m-800 7h4m117 0h3m584 0h3m-242 7h4m196 0h3"/>
<path transform="translate(0,2)" stroke="#6a00ff" stroke-width="4" d="M640 120h3m-46 11h4m-164 21h4m1198 25h4m35 0h4m-1049 7h3m985 11h4m14 0h4m3 0h4m32 0h3m-1287 7h3m1217 0h3m4 0h3m11 0h4m10 0h4m3 0h4m4 0h3m-1085 7h4m999 7h4m3 0h4m21 0h4m25 4h3m11 0h7m-1088 7h3m993 0h3m64 0h4m14 0h4m-96 7h3m68 0h3m-1021 7h4m932 0h3m82 0h4m7 0h3m-1081 7h4m971 0h3m86 0h3m-1067 11h4m1063 0h4m-32 14h3m18 0h4m-1252 7h3m1114 0h3m-14 4h3m125 0h3m-782 7h4m761 0h7m-135 7h3m125 0h3m-999 7h3m989 7h4m-1188 4h3m139 7h4m42 0h4m839 7h4m-850 7h3m825 7h4m-11 11h4m121 0h3m7 0h4m-1184 14h3m420 0h7m601 0h4m117 7h4m-730 11h4m-267 14h4m825 0h3m-576 4h4m701 0h3m-156 14h7m135 0h3m-1123 7h3m160 7h4m796 0h4m-758 4h4m199 0h4m537 7h3m143 0h3m-14 7h3m-885 7h3m185 7h4m676 0h3m-1081 4h4m405 0h4m-381 7h4m167 0h3m185 0h4m526 7h4m138 0h4m-679 7h3m505 11h4m-4 7h4m-509 7h4m629 0h4m-655 7h4m11 7h3m-10 18h3m466 7h7m-679 11h3m-3 7h3m651 0h4m-487 7h3m11 7h3m584 0h7m-11 7h4m-964 11h3m804 0h4m-811 7h3m943 0h3m-17 7h3m-149 11h3m-434 7h4m423 0h4m121 7h3m-885 7h3m302 0h4m-338 4h4m21 14h4m92 0h4m42 0h4m146 18h3m548 0h4m-879 7h4m25 7h3m302 0h4m519 0h4m-530 7h3m520 0h7m-153 11h3m-405 7h3m-313 7h4m157 0h3m-164 7h4m107 7h3m185 0h4m14 0h4m362 0h4m107 18h3m-142 7h3m-508 7h3m626 0h4m-139 4h4m-22 14h4m128 0h4m-491 7h3m459 18h4m-655 14h4m633 0h3m-24 18h3m-622 7h3m470 14h3m-323 11h3m416 14h4m-14 7h3m-587 25h4m434 0h3m-7 4h4m-441 7h3m146 0h4m270 7h4m-434 14h3m406 4h3m118 0h3m-10 7h3m655 0h3m-1149 7h4m473 0h3m669 0h4m-1057 7h4m370 0h3m612 7h4m-4 4h4m-54 7h4m32 0h3m15 0h3m-67 7h3m36 0h3m-64 7h4m-1017 7h3m978 0h7m4 0h3m-561 4h3m537 0h4m25 0h3m22 0h3m-78 7h3m-46 14h4m53 0h4m-978 7h3m-46 4h3m445 0h4m508 7h4m-534 7h4m-303 7h4m277 11h4m484 0h3m-103 28h4m-786 4h3m754 7h4m-801 7h4m779 0h4m-694 7h4m668 0h4m39 0h3m-547 11h3m100 0h3m-266 7h3m-82 7h4m-7 7h3m50 0h4m651 0h3m640 0h4m-1042 11h3m374 0h3m566 0h3m-1056 7h4m455 0h7m494 7h4m-1127 7h3m146 0h3m445 0h4m476 0h4m210 11h3m-733 7h4m676 0h3m-1259 7h4m1202 0h4m-253 7h4m-470 4h4m448 0h3m4 0h3m185 0h4m7 0h4m-673 7h4m-491 7h4m892 0h4m-402 7h4m334 7h4m-15 4h4m181 0h4m-29 7h4m-989 7h4m441 0h3m324 0h4m142 7h7m-932 7h4m892 0h4m-189 4h4m-363 7h7m331 0h4m-32 7h3m-352 14h4m281 4h3m-558 7h3m-10 7h3m270 0h4m238 0h4m142 0h4m-175 7h4m-509 7h4m1280 4h4m3 0h4m-132 7h4m14 0h4m3 0h4m18 0h3m-1028 7h4m32 0h3m879 0h4m-936 7h4m28 0h4m309 0h4m505 0h3m4 0h3m11 0h4m-893 7h3m335 0h3m463 0h3m391 0h4m-1327 4h4m441 0h4m828 0h4m7 0h3m-1017 7h4m558 0h4m-594 7h3m520 0h3m292 0h3m18 0h4m-1017 7h3m25 0h4m889 0h3m-1024 4h7m960 0h7m4 0h4m-879 7h4m238 0h4m544 0h3m-836 7h4m779 0h3m-679 7h4m579 0h4"/>
<path transform="translate(0,1.5)" stroke="#780000" stroke-width="3" d="M419 103h7m-3 7h3m-7 7h7m-7 7h4m-4 11h4m3 0h4m-7 7h3m-10 32h7m-7 7h7m-7 11h3m-3 7h3m-3 7h3m-7 7h4m192 0h3m-199 11h4m-4 14h4m-4 25h4m-4 7h4m-4 7h4m-7 11h3m-3 7h3m178 14h3m-3 11h3m-188 7h4m181 0h3m-10 7h7m-4 7h4m-4 18h4m-189 7h4m-7 7h7m-7 11h3m175 0h3m-7 7h7m-181 7h3m168 11h3m-7 7h4m3 0h4m-182 7h4m163 0h11m4 0h3m-21 7h18m-15 11h8m-15 7h4m3 0h4m-7 7h7m-14 7h3m4 0h3m-174 11h4m163 0h7m-174 7h4m153 0h17m-17 7h17m-21 7h14m-17 11h14m-11 7h7m-7 7h7m-163 7h3m150 0h10m-21 11h3m8 0h3m-160 7h4m145 0h11m-160 7h4m142 0h11m-11 7h14m-21 11h3m4 0h7m-11 7h15m-22 7h22m-22 7h14m-17 11h7m3 0h7m-17 7h14m704 0h4m-861 7h4m128 0h3m4 0h14m-21 7h17m701 0h4m-726 11h14m680 0h3m11 0h3m-711 7h14m676 0h14m-836 7h4m128 0h7m4 0h7m665 0h3m8 0h3m-701 11h15m661 0h14m-693 7h18m651 0h10m4 0h3m-686 7h14m644 0h3m4 0h7m4 0h3m-683 7h15m629 0h4m10 0h18m-676 11h11m640 0h14m-665 7h7m630 0h14m4 0h3m-665 7h14m623 0h25m-662 7h11m626 0h11m-651 11h14m601 0h4m3 0h14m-636 7h10m605 0h4m3 0h14m-640 7h14m594 0h4m3 0h15m7 0h3m-640 7h11m587 0h21m4 0h3m-633 11h18m579 0h8m3 0h14m-618 7h7m3 0h4m569 0h3m4 0h25m-623 7h18m569 0h4m3 0h18m-612 7h15m562 0h32m-612 11h11m3 0h4m540 0h4m3 0h32m-597 7h7m4 0h3m544 0h32m4 0h3m-601 7h15m537 0h39m-591 7h11m533 0h36m4 0h3m-597 11h17m527 0h39m-583 7h14m516 0h42m4 0h3m-579 7h7m519 0h50m-583 7h3m7 0h4m515 0h36m7 0h4m-573 11h7m509 0h7m-530 7h4m3 0h4m505 0h35m4 0h3m-558 7h7m498 0h36m3 0h4m-548 7h7m491 0h46m-544 11h7m473 0h36m-523 7h11m473 0h49m-530 7h8m465 0h47m3 0h4m-530 7h11m458 0h47m-523 11h14m448 0h53m-519 7h4m3 0h4m452 0h39m7 0h3m-512 7h14m438 0h53m-508 11h10m431 0h28m-469 7h3m4 0h3m427 0h50m-491 7h7m427 0h53m-490 7h14m419 0h50m-487 11h7m4 0h3m409 0h46m4 0h4m-477 7h11m402 0h46m-463 7h8m401 0h54m-466 7h7m402 0h50m-456 11h4m384 0h32m-427 7h7m4 0h4m377 0h56m-448 7h11m370 0h60m-441 7h4m3 0h4m366 0h54m-438 11h7m363 0h53m-423 7h7m360 0h49m-416 7h7m352 0h54m-416 7h10m345 0h50m4 0h3m-416 11h11m334 0h53m-401 7h10m331 0h53m-394 7h10m320 0h25m22 0h10m-391 7h11m316 0h57m-380 11h3m313 0h29m-40 7h57m-60 7h18m25 0h10m-366 7h7m299 0h50m-356 11h3m296 0h10m25 0h14m-352 7h4m284 0h4m3 0h50m-348 7h3m4 0h3m278 0h50m3 0h4m-345 7h3m278 0h49m-60 11h53m-60 7h50m3 0h7m-330 7h3m256 0h4m3 0h50m-67 11h53m-57 7h50m-303 7h4m242 0h43m3 0h4m-57 7h46m-57 11h46m-57 7h47m885 0h4m14 0h4m7 0h3m15 0h3m-985 7h43m892 0h11m25 0h3m-981 7h42m847 0h11m21 0h11m-943 11h46m801 0h10m4 0h14m11 0h14m-907 7h43m782 0h29m3 0h14m-882 7h39m4 0h4m768 0h10m8 0h32m10 0h7m-885 7h39m729 0h4m14 0h50m-847 11h39m712 0h3m7 0h39m-807 7h32m704 0h29m3 0h7m-779 7h32m676 0h46m-764 7h32m658 0h3m18 0h14m-732 11h21m4 0h3m630 0h25m7 0h7m-708 7h32m619 0h32m-687 7h25m605 0h18m-651 7h21m573 0h7m7 0h11m-633 11h25m572 0h4m-608 7h24m530 0h25m-583 7h14m4 0h3m520 0h7m7 0h7m-573 7h25m491 0h25m-548 11h22m469 0h11m3 0h14m-526 7h18m462 0h7m-494 7h14m441 0h4m-470 7h25m1128 0h3m7 0h4m-1177 11h25m387 0h7m623 0h7m-1056 7h21m356 0h3m11 0h10m-409 7h4m4 0h10m345 0h4m7 0h3m545 0h10m-939 11h15m305 0h18m-348 7h21m295 0h4m3 0h4m-331 7h11m-15 7h8m682 0h4"/>
<path transform="translate(0,2)" stroke="#780000" stroke-width="4" d="M423 106h3m-7 7h7m-7 7h4m-4 11h4m-4 7h4m-7 32h7m-4 7h4m-7 18h3m-3 7h3m-7 7h7m-7 7h4m192 0h3m-199 4h4m188 7h4m-192 7h3m-7 7h4m-4 18h4m-7 7h7m-7 7h7m-7 7h3m-3 4h3m-3 7h3m-3 7h3m-7 14h4m181 0h3m-3 4h3m4 0h4m-196 7h4m181 0h3m-7 7h4m-7 7h3m-181 7h4m177 0h4m-4 4h4m-7 7h3m-185 7h4m-4 7h4m171 0h3m0 7h4m-7 4h7m-14 7h3m4 0h3m-10 7h3m-174 7h3m178 0h4m-185 4h3m164 0h7m7 0h4m-14 7h3m-7 7h4m3 0h4m-182 7h4m160 0h14m4 0h3m-185 7h4m160 0h11m-175 4h4m163 0h8m-15 7h4m3 0h4m-4 7h4m-14 7h3m4 0h7m-14 7h3m4 0h3m-10 4h3m4 0h3m-174 7h4m156 0h4m3 0h7m-17 7h17m-174 7h4m153 0h10m4 0h3m786 0h4m-811 7h14m-17 4h17m-17 7h14m-18 7h4m3 0h7m-163 7h3m150 0h14m-18 7h11m3 0h4m-18 4h11m-164 7h4m149 0h7m-160 7h4m142 0h14m-14 7h11m-18 7h3m4 0h7m-14 4h3m4 0h7m-7 7h11m-22 7h22m-18 7h14m-18 7h4m3 0h7m-17 4h7m3 0h11m-21 7h7m3 0h4m-153 7h4m135 0h14m-21 7h17m-17 7h7m3 0h4m693 0h7m-718 4h4m3 0h11m-18 7h14m683 0h4m-701 7h18m-22 7h11m4 0h3m665 0h7m4 0h4m-698 4h15m658 0h7m-683 7h18m661 0h7m-686 7h11m661 0h7m-679 7h11m647 0h14m-676 7h11m647 0h11m-669 4h15m636 0h18m-669 7h7m4 0h4m622 0h4m3 0h14m-661 7h14m622 0h8m3 0h4m7 0h7m-669 7h14m616 0h10m-643 7h14m608 0h4m3 0h18m-647 4h14m612 0h14m3 0h4m-647 7h14m601 0h21m-636 7h10m601 0h11m4 0h3m-633 7h11m601 0h11m-626 7h7m3 0h4m590 0h14m-618 4h7m3 0h4m583 0h4m3 0h11m-619 7h11m3 0h4m576 0h3m4 0h11m3 0h4m-615 7h10m573 0h18m-609 7h15m565 0h29m3 0h4m-616 7h8m3 0h4m558 0h28m-604 4h11m3 0h4m547 0h4m3 0h29m-601 7h14m548 0h35m-601 7h11m548 0h32m-591 7h11m541 0h28m7 0h7m-594 7h11m530 0h35m-579 4h10m530 0h36m-583 7h17m516 0h4m7 0h25m3 0h7m7 0h4m-590 7h14m512 0h4m3 0h4m3 0h36m-576 7h7m519 0h21m-551 7h4m3 0h4m505 0h3m7 0h40m-566 4h11m508 0h43m-562 7h7m502 0h46m-562 7h14m491 0h50m-559 7h11m494 0h40m3 0h4m-548 7h7m484 0h3m4 0h43m-541 4h7m484 0h35m-533 7h18m469 0h50m-534 7h8m473 0h3m4 0h35m-523 7h8m462 0h50m-527 7h11m455 0h54m-523 4h14m455 0h39m4 0h7m-516 7h7m449 0h3m4 0h46m-516 7h14m445 0h43m3 0h4m-509 7h11m437 0h54m-505 4h10m438 0h50m-498 7h3m4 0h3m427 0h61m-498 7h7m427 0h49m-487 7h11m412 0h4m3 0h57m-490 7h10m416 0h54m-480 4h10m413 0h57m-484 7h7m4 0h3m409 0h54m-477 7h4m3 0h4m402 0h53m-470 7h8m394 0h4m3 0h57m-466 7h4m395 0h50m-456 4h4m3 0h4m395 0h18m-413 7h4m380 0h50m7 0h4m-456 7h7m385 0h53m-445 7h11m370 0h3m40 0h7m-434 7h7m370 0h53m-430 4h7m363 0h49m8 0h3m-434 7h7m360 0h56m-423 7h7m349 0h57m-416 7h10m352 0h47m-413 7h4m3 0h4m341 0h54m-406 4h11m338 0h57m-406 7h7m381 0h7m-398 7h7m327 0h57m-391 7h7m323 0h50m-384 7h11m316 0h57m-380 4h7m313 0h57m-385 7h4m316 0h54m-61 7h54m-367 7h8m298 0h50m-359 7h7m295 0h50m-356 4h7m299 0h50m-352 7h3m288 0h57m-352 7h7m281 0h36m-46 7h60m-341 7h3m274 0h57m-338 4h7m274 0h50m-331 7h4m270 0h46m-60 7h3m4 0h28m-298 7h3m260 0h28m-35 4h10m22 0h17m4 0h4m-317 7h4m249 0h46m-54 7h50m-299 7h4m238 0h47m-54 7h54m-61 4h4m3 0h43m1006 0h4m-1067 7h4m3 0h43m932 0h3m39 0h7m-1035 7h47m878 0h4m7 0h7m14 0h7m-971 7h47m875 0h7m-936 7h43m832 0h7m4 0h21m18 0h11m-943 4h43m825 0h3m4 0h7m4 0h7m14 0h7m-921 7h43m793 0h14m7 0h21m-882 7h32m4 0h4m3 0h4m771 0h15m10 0h39m-889 7h39m747 0h4m11 0h60m-871 7h17m762 0h3m4 0h46m-832 4h32m722 0h60m-821 7h32m3 0h4m693 0h7m4 0h3m4 0h4m3 0h25m4 0h10m-804 7h32m687 0h32m11 0h10m-779 7h36m672 0h18m11 0h3m-747 7h36m644 0h3m7 0h32m7 0h4m-736 4h28m644 0h11m10 0h18m-715 7h7m651 0h18m3 0h15m-705 7h29m590 0h4m14 0h7m4 0h25m-680 7h29m583 0h4m7 0h10m11 0h14m-665 7h29m572 0h14m22 0h3m-640 4h25m569 0h7m7 0h11m-629 7h24m541 0h4m17 0h7m4 0h4m-605 7h21m4 0h3m530 0h15m-559 7h7m505 0h4m-544 7h25m494 0h21m-540 4h21m470 0h10m4 0h7m7 0h11m-537 7h21m466 0h7m4 0h3m-512 7h21m452 0h11m825 0h3m-1316 7h22m423 0h21m-473 7h22m-25 4h14m402 0h14m676 0h3m11 0h7m-1138 7h21m363 0h4m18 0h7m-416 7h21m341 0h18m4 0h3m-398 7h18m338 0h17m-373 4h18m305 0h4m14 0h11m-359 7h10m4 0h4m291 0h14m11 0h4m-349 7h4m3 0h14m288 0h8m-317 7h11m266 0h11"/>
<path transform="translate(0,1.5)" stroke="#7a0068" stroke-width="3" d="M441 110h3m153 14h4m-200 25h4m32 11h4m149 14h3m1064 0h11m10 0h4m-29 7h7m4 0h4m3 11h4m-1242 7h4m1170 0h4m32 0h3m-1017 25h4m924 14h4m3 0h4m4 0h3m-25 7h4m99 11h4m-14 7h3m-135 14h4m-1089 11h4m1067 0h3m-665 7h4m782 0h4m-7 7h3m-793 25h7m619 0h4m-897 7h4m1017 0h4m-1025 7h4m864 11h4m-608 7h3m715 14h4m-737 25h4m711 0h4m-29 25h4m-1127 7h3m32 0h4m-43 32h4m921 11h3m-779 21h4m885 11h4m-900 14h4m857 18h3m-818 7h4m669 0h3m135 0h4m-640 7h3m477 7h3m-825 18h4m99 7h4m690 0h4m142 0h3m-622 7h4m-25 43h3m431 7h3m135 0h4m-157 18h4m103 32h4m-18 14h3m-10 7h3m-42 32h3m-526 11h3m-274 7h4m256 14h4m494 0h4m-765 18h3m598 7h7m-370 25h4m-132 7h4m110 25h3m11 14h4m288 0h3m-42 43h3m-281 7h4m-7 7h3m388 0h3m-17 11h3m-28 21h3m-135 11h4m750 7h4m14 0h4m-1188 7h3m1163 0h4m-1174 18h4m1102 0h4m-39 7h3m-25 7h4m-43 18h4m50 0h3m-928 7h3m889 0h4m-1053 25h4m964 0h3m7 0h4m-871 14h3m320 0h4m455 0h4m-473 7h3m-260 11h4m235 7h3m431 0h3m43 0h3m-21 7h4m-64 7h3m-800 50h4m323 0h4m-335 7h4m64 11h4m569 0h3m-651 7h4m309 0h4m320 0h3m40 0h3m559 0h3m-619 25h4m437 7h4m245 0h4m-768 7h3m662 7h3m-700 11h3m36 0h3m569 7h4m-996 7h4m88 0h4m864 0h4m-39 7h3m7 0h4m-64 11h3m-209 7h3m-804 7h4m875 18h3m-515 21h7m-395 18h4m330 7h4m348 7h4m583 11h7m8 0h3m-1181 7h4m-82 7h4m551 0h3m538 0h3m-605 18h4m765 0h3m32 0h4m14 0h4m-1014 7h3m157 0h4m373 0h7m-725 7h3m32 0h4m117 0h4m498 0h3m-82 11h4m256 0h7m-608 7h3m459 7h4m-281 7h3m200 0h3"/>
<path transform="translate(0,2)" stroke="#7a0068" stroke-width="4" d="M636 156h4m-7 14h3m1014 0h3m36 0h3m-1059 7h3m1007 0h3m18 0h4m-18 7h3m0 4h7m-42 7h3m32 0h4m14 0h4m-11 7h4m3 0h4m-1281 32h4m1166 0h4m-4 7h4m-21 7h3m-1156 4h4m1252 0h7m-121 7h4m-918 7h3m225 7h3m772 7h3m-1202 4h4m188 0h4m1010 0h4m-11 7h3m-1202 7h4m409 0h3m779 0h7m-800 7h4m772 7h3m0 4h4m-779 7h3m758 0h7m-768 7h3m754 0h4m-149 7h3m132 0h3m-754 7h4m601 4h3m132 0h4m-4 7h4m-1153 7h4m181 0h4m217 0h3m726 0h3m-956 14h3m210 0h4m586 0h4m-594 4h4m-402 21h3m388 0h3m705 4h3m-14 14h4m-15 7h4m-1085 11h4m-7 14h3m363 0h3m537 7h4m-790 7h4m-4 4h4m245 14h4m-25 7h4m-360 11h4m164 7h3m-174 21h3m843 0h4m-886 32h4m989 0h3m-964 4h4m814 0h4m128 7h3m-152 7h3m-11 7h4m-832 11h3m953 0h4m-174 28h3m-430 4h4m416 7h3m114 18h4m-786 21h3m221 0h3m384 11h4m-711 21h3m-3 7h3m797 18h3m-811 25h4m587 53h3m-487 18h4m124 0h4m-249 7h3m694 7h7m-711 25h3m224 7h4m427 11h3m-669 14h4m502 18h3m-18 14h4m-441 4h3m136 21h3m992 25h4m-1113 14h3m1078 0h4m24 0h4m-1156 4h4m384 0h3m751 0h3m7 0h8m-72 7h4m32 0h4m-50 7h3m15 0h3m25 0h7m-57 7h4m7 0h3m-611 7h3m-491 18h4m434 25h3m-409 7h4m68 7h3m-78 7h3m-49 18h3m103 0h4m772 0h3m-583 7h3m-184 7h3m263 11h4m299 39h7m21 11h4m615 0h3m-1020 14h3m-316 7h3m619 18h4m459 0h3m256 0h7m-295 7h7m-893 7h4m814 7h4m7 0h4m-580 4h4m547 0h4m-36 7h7m-964 7h4m409 0h4m483 7h4m192 0h4m-29 7h4m-1042 4h3m196 0h3m-206 7h4m469 0h4m-289 7h4m775 0h4m-587 14h4m522 0h8m-925 4h3m719 0h3m-654 21h4m576 0h7m153 0h3m-458 11h3m249 0h4m96 14h3m-597 7h3m559 0h10m-391 7h4m1070 0h4m-1270 4h4m362 7h4m3 0h4m651 7h3m-931 7h3m221 0h3m-46 7h4m145 0h4m-167 4h7m-391 14h3m64 0h4m1088 0h4m-865 7h4m782 0h4m-950 4h4m146 0h3m111 7h3m302 0h4m-573 7h4m512 0h4m-441 7h3m384 0h4m7 0h3"/>
<path transform="translate(0,1.5)" stroke="#9000e0" stroke-width="3" d="M441 103h3m157 0h3m-3 7h3m-203 57h4m1266 0h4m-22 7h4m-11 7h4m-1217 11h4m1220 0h3m-46 7h4m3 0h4m32 0h3m4 0h4m-18 7h3m22 0h3m-67 7h3m50 11h4m-96 7h3m75 7h3m7 0h4m-1234 7h3m1124 0h4m85 0h4m-1071 11h4m1053 0h3m-1017 7h3m993 14h3m15 0h3m-1248 11h3m1234 0h4m-14 7h3m-1230 7h3m441 7h7m634 0h3m-914 11h4m1020 0h4m-772 7h4m633 0h3m-636 7h3m-10 18h3m605 0h3m-1010 7h4m181 0h4m202 0h4m4 0h3m740 0h3m-153 7h4m-7 7h3m139 0h4m-160 11h3m-846 7h3m971 0h4m-726 25h4m555 0h3m-565 7h3m544 7h4m-14 11h3m136 0h7m-1074 7h3m174 0h4m185 0h3m694 0h7m-18 7h7m-156 7h3m-786 11h4m911 0h3m-669 14h4m626 18h3m-7 7h4m-847 25h4m676 0h3m-850 21h4m821 0h4m132 0h7m-22 11h4m-149 14h3m-654 7h3m776 0h3m-39 32h4m-18 18h3m-747 7h4m718 11h4m-907 39h4m163 0h4m-171 7h4m113 7h4m726 0h3m-149 11h3m128 7h4m-840 7h4m672 18h4m-388 7h4m-196 25h4m188 14h4m323 7h4m-487 11h3m142 7h4m309 7h4m-519 18h3m-7 14h4m583 25h4m-555 7h3m413 0h3m-433 43h3m128 0h4m-182 14h4m537 0h3m594 32h4m18 0h3m11 0h7m-1038 18h3m968 0h3m-978 7h4m337 0h4m615 0h4m-630 7h4m562 0h3m43 0h4m-64 7h3m-928 18h3m-131 7h3m40 0h3m306 0h4m-356 7h3m922 11h3m-601 7h4m576 0h3m-921 25h4m903 0h4m-22 7h4m-21 7h3m-754 7h4m259 11h4m-11 7h4m-356 7h4m771 0h8m-786 7h3m743 11h4m-89 32h4m569 0h3m-1252 7h4m64 0h3m1110 0h4m10 0h4m-1138 18h3m221 0h3m815 0h3m260 0h7m-1099 7h7m288 0h4m729 0h4m14 0h3m-1152 7h4m860 0h4m-875 7h3m836 0h4m213 0h4m-267 11h4m199 0h3m-928 14h4m-107 7h3m932 0h4m-1042 11h3m793 0h4m153 7h3m-789 7h3m584 0h3m-380 7h3m516 0h4m-758 11h4m-11 7h3m200 0h3m36 0h3m445 0h7m-60 14h3m-533 32h3m253 0h3m740 11h4m-86 7h4m-89 7h7m-555 7h4m466 0h3m21 0h4m-846 11h3m153 0h4m142 0h3m417 0h3m-772 7h4m1028 0h3m-1045 7h3m299 0h4m-214 18h4m419 0h4m3 0h4m231 0h4m-882 7h3m192 0h4m128 0h4m497 0h4"/>
<path transform="translate(0,2)" stroke="#9000e0" stroke-width="4" d="M601 106h3m36 0h3m1000 64h3m14 0h4m-1074 7h3m1046 7h4m3 0h4m-4 4h4m18 0h3m-43 7h4m-25 7h4m17 0h8m-1203 7h4m1170 0h4m-7 7h3m14 4h4m35 14h4m-11 7h4m-1263 7h4m1230 11h4m4 0h7m-121 14h3m-21 7h4m110 0h3m7 0h4m-128 4h4m120 0h4m-1060 7h4m-7 7h3m43 0h3m228 0h4m640 0h3m-25 14h4m-644 4h4m-409 7h3m1163 0h4m7 0h4m-1043 7h4m886 0h3m121 7h4m-971 7h3m-3 4h3m207 0h3m-437 7h3m1039 0h3m-608 14h4m586 0h4m-605 11h4m587 0h3m-17 7h3m-583 7h3m-7 18h4m-7 7h3m-210 7h4m900 0h3m-156 7h3m-970 4h3m1099 0h7m-708 7h4m551 0h4m-566 7h4m-370 18h4m359 0h3m537 0h4m-783 7h4m758 7h3m-11 7h4m139 0h3m-654 7h3m498 0h4m139 0h3m-1053 4h4m900 0h3m-757 7h3m-124 7h3m363 7h4m604 18h4m-146 7h4m-498 7h3m623 0h7m-153 7h3m-857 4h4m-4 7h4m967 7h4m-946 14h3m150 0h3m164 11h3m591 0h3m-818 7h4m213 0h4m452 0h3m135 0h4m-605 14h4m448 0h3m-21 11h4m-658 14h3m221 11h3m388 14h4m135 0h3m-857 7h4m843 0h3m-142 4h3m-21 14h4m135 0h3m-747 7h4m597 0h4m-605 7h4m-125 11h4m839 0h4m-733 7h4m711 0h4m-676 14h4m650 4h4m-708 7h4m-7 14h3m537 7h4m-548 4h4m672 0h3m-480 7h4m331 0h3m125 0h3m-672 21h4m42 0h4m601 4h3m-661 14h3m168 7h3m299 32h3m-455 43h4m402 0h3m-302 7h3m11 18h4m373 7h4m-559 14h4m35 7h4m1138 11h4m-22 7h4m18 0h3m-804 7h4m-267 7h4m996 0h7m-14 4h3m-999 7h3m950 0h3m-21 7h4m32 0h3m7 0h4m-992 7h3m953 0h4m7 0h4m-29 7h4m-111 18h4m-516 7h4m512 7h3m-985 11h4m967 0h4m-75 7h4m-18 7h3m-860 25h3m370 0h4m423 0h4m46 0h3m-789 7h3m299 0h4m416 0h3m-434 7h8m-406 4h4m843 0h3m-573 14h4m494 0h4m7 14h4m-54 4h4m-22 7h4m-373 7h3m-114 7h4m1134 0h8m-50 4h3m-110 14h4m3 0h4m-1032 14h4m939 0h3m-1141 4h3m1394 0h4m-1341 7h4m544 7h3m-345 7h4m281 0h4m473 0h3m224 0h4m-704 18h3m-533 7h3m861 7h3m-857 7h4m185 0h3m274 4h4m-68 7h4m380 0h7m-401 7h3m548 0h3m-871 7h4m633 7h7m146 4h3m-807 7h3m288 14h4m274 0h3m-672 7h4m782 0h7m-647 4h4m444 7h4m146 0h7m-619 7h3m1266 14h4m-1145 4h3m36 0h3m1032 0h3m-1301 7h3m580 0h4m608 0h3m-971 7h4m192 0h4m618 7h4m-1071 7h4m64 0h4m316 0h4m586 4h4m341 0h4m-1167 7h4m28 0h8m135 0h3m153 0h7m395 0h4m345 0h3m-1102 7h3m32 0h4m124 0h4m149 0h4m366 0h4m291 0h4m3 0h4m21 0h4m-992 7h3m594 0h4m7 0h3m274 0h4m7 0h3m-650 4h3m320 0h4m7 0h3m264 0h3m-775 7h3m683 0h4m-715 7h3m-131 7h3m712 0h3"/>
<path transform="translate(0,1.5)" stroke="#960000" stroke-width="3" d="M419 110h4m0 25h3m-7 7h4m-4 7h4m188 0h4m-199 11h7m-4 7h4m188 14h4m0 11h3m-206 7h4m0 14h3m185 0h4m-192 11h3m182 0h3m0 7h4m-192 7h3m-7 7h4m185 0h3m-192 11h4m-7 7h3m185 0h4m-192 7h3m185 0h7m-195 7h3m178 0h7m4 0h3m-199 11h4m184 0h4m4 0h3m-7 7h7m-195 7h3m178 0h3m4 0h7m-199 7h7m174 0h4m-185 11h4m174 0h7m3 0h4m-11 7h4m-185 14h4m174 0h3m4 0h3m-192 11h8m167 0h17m-195 7h7m171 0h3m4 0h3m-181 7h4m167 0h3m4 0h7m-18 7h14m-185 11h4m164 0h3m7 0h4m-185 7h7m164 0h3m-7 7h21m-188 11h7m160 0h4m3 0h11m-189 7h4m163 0h4m4 0h3m4 0h3m-7 7h4m-182 7h4m-4 11h4m156 0h7m8 0h3m-181 7h3m171 0h7m-181 7h3m157 0h7m7 0h4m-178 7h7m149 0h4m3 0h4m3 0h8m-25 11h10m-170 7h3m0 7h4m149 0h4m-157 7h4m146 0h3m18 0h3m-177 11h7m160 0h3m-21 7h7m7 0h7m-21 7h7m7 0h4m-171 7h4m149 0h4m10 0h4m764 0h4m-786 11h4m3 0h7m747 0h4m-772 7h3m15 0h3m747 0h4m-776 7h4m11 0h3m-163 7h7m138 0h4m-146 11h4m138 0h4m7 0h7m726 0h10m-899 7h3m135 0h7m737 0h3m-750 7h3m-138 7h3m149 0h4m-28 11h3m11 0h3m-149 7h4m131 0h4m14 0h3m698 0h3m4 0h3m-736 7h4m3 0h4m700 0h4m7 0h7m-729 7h4m704 0h14m-726 11h4m14 0h4m672 0h4m3 0h7m-836 7h4m142 0h4m668 0h4m14 0h4m-712 7h4m7 0h4m665 0h3m7 0h8m7 0h3m-836 11h4m121 0h3m673 0h3m14 0h8m-36 7h4m10 0h4m3 0h4m3 0h8m-829 7h3m779 0h4m3 0h4m7 0h4m3 0h4m3 0h4m-818 7h3m772 0h7m-661 11h3m11 0h4m618 0h8m3 0h7m14 0h11m-679 7h3m7 0h4m619 0h3m18 0h4m3 0h4m-790 7h4m131 0h4m612 0h7m25 0h3m-786 7h4m114 0h3m11 0h7m608 0h11m11 0h10m-782 11h3m114 0h4m14 0h3m594 0h4m4 0h3m14 0h4m-761 7h3m114 0h4m10 0h4m594 0h3m8 0h3m14 0h7m-46 7h4m7 0h3m18 0h4m-644 7h7m594 0h4m21 0h4m-40 11h4m11 0h3m14 0h4m-630 7h8m7 0h3m559 0h3m4 0h7m3 0h4m25 0h3m4 0h4m-616 7h4m562 0h3m4 0h3m18 0h4m3 0h4m-50 7h4m35 0h4m-729 11h3m103 0h4m11 0h3m4 0h3m534 0h3m4 0h3m39 0h4m-718 7h3m100 0h7m7 0h4m3 0h4m533 0h4m35 0h4m-601 7h3m548 0h4m-662 7h4m103 0h3m541 0h3m36 0h4m-577 11h4m512 0h7m46 0h4m-576 7h3m555 0h4m3 0h7m-590 7h4m7 0h7m508 0h4m-530 7h7m4 0h7m501 0h7m47 0h3m-569 11h7m498 0h4m-519 7h3m4 0h3m491 0h11m35 0h4m3 0h7m-569 7h4m7 0h7m487 0h4m36 0h3m4 0h7m-548 7h4m480 0h7m-505 11h7m7 0h4m-7 7h3m466 0h4m-484 7h3m520 0h3m-530 7h4m11 0h3m502 0h3m4 0h3m-18 11h4m-526 7h3m4 0h3m4 0h3m441 0h8m39 0h7m3 0h7m-522 7h3m448 0h4m53 0h4m-516 18h4m3 0h4m423 0h4m53 0h11m-495 7h4m419 0h4m-11 7h7m54 0h3m-487 11h4m405 0h7m54 0h3m-21 7h14m-480 7h3m8 0h7m448 0h7m-466 7h7m388 0h7m60 0h4m-466 11h4m-8 7h4m377 0h4m-15 7h4m-388 7h7m4 0h3m424 0h3m-434 11h4m412 0h11m-437 7h3m7 0h7m349 0h4m49 0h4m-68 7h7m-366 7h4m348 0h7m-362 11h3m114 0h3m225 0h3m53 0h4m-395 7h4m380 0h4m-11 7h4m-399 7h4m384 0h7m-395 11h8m3 0h4m305 0h4m57 0h4m-388 7h11m366 0h3m-380 7h11m-15 7h4m356 0h7m-370 11h7m3 0h4m284 0h8m-306 7h3m4 0h3m-7 7h4m277 0h4m50 0h3m4 0h3m-18 7h11m-345 11h7m320 0h4m-68 7h4m50 0h3m-60 7h3m-270 11h4m-8 7h8m241 0h4m50 0h3m-64 7h4m43 0h3m4 0h3m-299 7h4m281 0h4m1024 0h3m-1316 11h4m274 0h3m943 0h11m7 0h10m8 0h3m-999 7h7m875 0h3m4 0h14m4 0h7m3 0h15m3 0h4m14 0h7m-1014 7h4m43 0h3m861 0h7m4 0h17m11 0h11m7 0h7m3 0h4m-943 7h4m839 0h4m11 0h14m3 0h4m11 0h3m4 0h7m-114 11h4m10 0h4m14 0h11m14 0h4m3 0h14m-935 7h7m43 0h3m768 0h4m4 0h3m29 0h3m14 0h25m-868 7h4m750 0h4m4 0h14m10 0h8m32 0h3m4 0h3m-839 7h7m718 0h4m4 0h14m50 0h17m-871 11h7m43 0h3m697 0h8m3 0h7m39 0h7m-775 7h4m668 0h4m11 0h10m29 0h3m7 0h11m-92 7h10m46 0h4m-736 7h7m644 0h7m3 0h18m14 0h4m7 0h11m-733 11h4m3 0h4m611 0h4m4 0h3m29 0h7m7 0h10m-686 7h4m608 0h7m35 0h4m7 0h4m-708 7h3m29 0h3m580 0h4m10 0h4m18 0h7m11 0h7m-680 7h4m25 0h3m573 0h3m15 0h3m4 0h3m8 0h7m-662 11h4m25 0h3m548 0h3m4 0h7m11 0h3m-60 7h3m43 0h4m-612 7h7m14 0h4m3 0h4m505 0h11m7 0h7m7 0h7m-68 7h4m25 0h3m-558 11h4m25 0h3m459 0h7m11 0h3m14 0h4m-533 7h3m18 0h3m449 0h10m836 0h4m-1331 7h4m14 0h4m423 0h4m7 0h3m4 0h18m746 0h11m-807 7h25m679 0h11m3 0h7m32 0h11m21 0h4m-832 11h3m7 0h11m608 0h4m21 0h11m3 0h18m-729 7h4m3 0h4m3 0h4m14 0h7m566 0h14m10 0h4m-1010 7h4m10 0h7m335 0h3m7 0h4m3 0h4m7 0h4m-402 11h3m15 0h7m291 0h7m25 0h11m455 0h4m-829 7h4m309 0h7m4 0h3m4 0h3m466 0h4m3 0h4m-815 7h4m11 0h7m263 0h4m3 0h25m-309 7h3m256 0h7m4 0h7m18 0h3m388 0h4"/>
<path transform="translate(0,2)" stroke="#960000" stroke-width="4" d="M419 106h4m0 14h3m-7 7h7m-3 4h7m-7 7h3m-10 7h10m-7 7h4m-7 4h7m-7 7h7m-11 7h4m0 7h3m192 0h4m-199 7h7m188 0h4m-199 4h7m188 0h4m-196 14h4m185 7h3m-195 7h3m-3 4h3m-7 7h7m-7 21h4m192 11h3m-14 7h7m-7 7h7m-192 7h4m177 0h4m-185 4h4m177 0h4m4 0h3m-192 7h4m181 0h7m-192 7h4m181 0h7m-195 7h3m174 0h7m-184 7h3m174 0h4m3 0h8m-196 4h4m177 0h4m-181 7h3m181 0h4m-192 7h4m174 0h3m4 0h7m-11 7h7m-14 7h4m-182 4h8m167 0h3m4 0h3m-188 7h7m181 0h7m-188 7h4m167 0h14m-18 7h4m7 0h7m-192 7h7m164 0h3m4 0h3m4 0h3m-188 4h7m164 0h3m11 0h3m-188 7h7m167 0h4m-178 7h7m167 0h7m4 0h3m-185 7h4m160 0h14m-185 4h4m3 0h4m167 0h4m-182 7h7m160 0h8m3 0h11m-189 7h4m160 0h7m4 0h3m4 0h3m-25 7h4m14 0h4m-22 7h4m11 0h7m-22 4h7m8 0h7m-185 7h7m167 0h7m-181 7h7m156 0h7m4 0h4m-178 7h3m153 0h4m3 0h4m7 0h4m-178 7h3m153 0h4m3 0h4m3 0h4m-178 4h7m150 0h7m3 0h4m3 0h8m-25 7h3m4 0h3m-167 7h4m149 0h4m818 0h3m-825 7h4m10 0h4m-21 7h3m-156 4h3m167 0h4m-174 7h3m164 0h3m-174 7h4m153 0h3m7 0h7m765 0h4m3 0h4m-946 14h3m157 0h3m-163 4h3m157 0h7m754 0h3m-782 7h7m7 0h7m744 0h3m4 0h3m-7 7h4m-918 7h4m135 0h7m11 0h3m4 0h3m736 0h4m-765 7h4m7 0h7m729 0h4m-896 4h3m142 0h4m7 0h7m-163 7h3m139 0h7m743 0h4m-896 14h7m128 0h7m-7 7h3m4 0h3m7 0h4m-14 4h3m712 0h7m-736 7h7m7 0h3m4 0h3m705 0h7m3 0h4m-743 7h7m707 0h4m7 0h4m-861 7h4m145 0h4m690 0h3m4 0h4m-726 7h4m7 0h3m4 0h3m683 0h7m-707 4h3m11 0h3m680 0h14m-719 7h4m686 0h8m7 0h10m-839 7h4m810 0h15m3 0h4m-840 7h4m121 0h3m11 0h4m661 0h4m10 0h4m-822 4h4m121 0h3m15 0h3m651 0h4m10 0h7m-818 7h4m793 0h7m7 0h7m-682 7h10m633 0h4m3 0h11m7 0h7m-690 7h4m11 0h3m658 0h7m-807 7h3m132 0h4m640 0h3m11 0h4m-676 4h3m644 0h7m18 0h7m-669 7h4m630 0h3m14 0h7m-793 7h4m117 0h4m626 0h10m8 0h3m4 0h3m11 0h3m-658 7h4m608 0h4m10 0h18m7 0h4m-790 7h4m128 0h3m609 0h3m18 0h11m-776 4h4m128 0h3m602 0h7m14 0h3m4 0h4m-772 7h3m114 0h4m611 0h4m21 0h7m11 0h4m-779 7h3m114 0h4m10 0h4m590 0h7m11 0h4m7 0h3m-647 7h4m601 0h14m21 0h4m-633 7h3m7 0h4m576 0h7m14 0h8m-630 4h4m7 0h3m576 0h7m8 0h3m11 0h3m-736 7h4m121 0h3m576 0h4m3 0h4m-601 7h4m10 0h4m562 0h7m18 0h10m4 0h3m-736 7h4m121 0h7m555 0h3m-583 7h3m8 0h3m555 0h7m28 0h4m4 0h3m-619 4h4m11 0h3m-18 7h4m14 0h4m540 0h4m39 0h3m-611 7h3m11 0h4m3 0h4m533 0h4m32 0h7m-587 7h4m529 0h8m28 0h7m-697 7h4m99 0h7m534 0h7m35 0h8m-694 4h4m99 0h4m10 0h4m519 0h7m36 0h7m-53 7h7m25 0h3m7 0h7m-590 7h4m14 0h3m513 0h3m4 0h3m39 0h4m-590 7h7m7 0h3m509 0h7m-533 7h3m4 0h3m7 0h4m501 0h7m40 0h3m-572 4h3m11 0h3m495 0h3m50 0h4m-573 7h7m7 0h7m541 0h3m-64 7h4m-498 7h4m487 0h3m40 0h3m4 0h3m7 0h4m-566 7h4m7 0h4m483 0h4m43 0h7m-552 4h4m7 0h4m469 0h11m-498 14h3m473 0h8m3 0h4m35 0h7m-533 7h3m463 0h7m53 0h4m-537 7h3m11 0h4m490 4h4m7 0h7m-530 7h7m459 0h4m-473 7h3m455 0h4m43 0h3m7 0h4m-519 7h3m502 0h3m-512 4h4m10 0h4m131 0h4m292 0h7m50 0h3m4 0h3m-512 7h4m3 0h4m-11 7h4m7 0h3m420 0h4m49 0h4m-494 7h3m427 0h3m-437 7h4m419 0h7m54 0h3m-491 4h8m419 0h4m-431 7h4m7 0h4m409 0h3m-427 7h4m4 0h3m402 0h4m53 0h3m-476 7h3m8 0h7m391 0h3m-416 7h7m4 0h7m438 0h7m-459 4h3m4 0h7m381 0h7m-406 7h7m385 0h3m50 0h7m-445 7h4m373 0h8m-15 7h4m50 0h7m-445 7h4m7 0h7m359 0h4m-381 4h4m7 0h3m409 0h4m-420 7h4m352 0h4m56 0h8m-18 7h3m-423 7h4m10 0h4m341 0h7m47 0h7m-416 7h3m4 0h3m392 4h3m-412 7h3m7 0h4m327 0h7m50 0h7m-398 7h3m381 0h3m-398 7h4m7 0h3m370 0h7m-67 7h3m-331 4h8m-4 7h4m309 0h3m54 0h3m-377 7h8m302 0h3m54 0h3m-373 7h3m303 0h3m50 0h4m-367 7h4m7 0h4m288 0h3m50 0h7m-356 4h4m292 0h3m50 0h4m-363 7h7m284 0h4m-295 7h3m285 0h3m-291 7h10m331 0h4m-342 7h4m327 0h4m-68 4h7m50 0h3m-67 7h7m46 0h7m-330 7h3m263 0h4m-274 11h7m249 0h4m49 0h4m-64 7h4m56 0h4m-317 7h4m295 0h4m-14 7h3m957 7h7m7 0h4m10 0h7m-1052 4h3m1000 0h14m7 0h4m28 0h4m-1067 7h3m950 0h3m18 0h4m3 0h29m17 0h4m-1042 7h3m50 0h4m853 0h4m11 0h3m4 0h7m7 0h4m3 0h7m7 0h4m3 0h11m18 0h3m-1013 7h3m47 0h3m843 0h4m3 0h22m7 0h3m4 0h10m-907 7h4m822 0h3m7 0h4m21 0h18m11 0h7m-907 4h7m807 0h11m3 0h4m7 0h4m7 0h14m7 0h11m-889 7h7m800 0h7m21 0h8m10 0h7m11 0h4m-890 7h4m4 0h3m772 0h3m15 0h10m39 0h4m-896 7h3m39 0h8m736 0h3m4 0h11m60 0h4m-107 7h11m3 0h4m46 0h11m-811 4h7m288 0h3m420 0h4m60 0h4m-833 7h4m36 0h3m704 0h4m3 0h4m4 0h3m25 0h4m14 0h3m-779 7h4m679 0h4m32 0h11m14 0h3m-789 7h3m690 0h11m25 0h11m3 0h4m3 0h7m-89 7h8m7 0h3m32 0h7m-700 4h3m633 0h4m11 0h10m18 0h7m4 0h7m-740 7h7m644 0h14m18 0h3m-67 7h3m8 0h3m7 0h4m25 0h3m-686 7h3m29 0h3m569 0h7m8 0h7m10 0h11m14 0h4m-82 7h4m7 0h3m14 0h22m3 0h4m-619 4h4m547 0h7m8 0h3m7 0h7m11 0h4m-72 7h4m4 0h3m7 0h7m7 0h4m11 0h3m-619 7h4m21 0h4m516 0h17m15 0h3m7 0h4m-598 7h4m530 0h3m4 0h18m-537 7h7m469 0h11m3 0h4m21 0h4m-523 4h4m458 0h4m14 0h4m7 0h7m-533 7h7m480 0h7m7 0h4m3 0h7m-57 7h11m11 0h3m797 0h3m18 0h4m3 0h4m11 0h7m-1345 7h7m438 0h7m754 0h4m14 0h10m36 0h4m-1277 7h3m427 0h7m672 0h8m3 0h7m11 0h21m11 0h3m-1177 4h4m14 0h4m394 0h4m14 0h4m633 0h7m7 0h7m7 0h4m3 0h4m3 0h8m10 0h11m-1128 7h4m356 0h3m4 0h3m7 0h8m7 0h3m7 0h7m580 0h7m4 0h3m15 0h7m14 0h7m18 0h3m-1095 7h4m380 0h4m3 0h7m569 0h7m-963 7h3m327 0h8m17 0h4m508 0h22m35 0h4m-953 4h3m22 0h3m295 0h7m4 0h14m11 0h4m3 0h7m487 0h8m10 0h4m-872 7h4m292 0h3m14 0h11m4 0h14m444 0h4m4 0h3m-814 7h3m292 0h10m8 0h3m-324 7h4m11 0h7m256 0h3m11 0h11m405 0h4m3 0h11"/>
<path transform="translate(0,1.5)" stroke="#9800a8" stroke-width="3" d="M597 117h4m1049 43h3m15 14h7m-47 18h4m7 0h11m-46 7h3m61 0h3m-1085 7h4m1074 0h7m-1042 7h4m1027 0h4m-85 11h3m54 0h3m25 7h4m-100 7h4m81 0h4m-103 7h3m82 11h4m-7 7h3m11 0h3m-14 7h4m-128 7h3m110 0h4m-1060 11h4m914 7h3m-28 25h3m125 0h3m-771 7h3m612 14h4m135 0h3m-160 18h4m131 0h4m-146 7h4m-609 18h8m-8 7h4m-217 7h4m778 0h4m-580 11h4m548 14h3m135 7h4m-164 11h4m146 0h3m-718 21h3m11 11h4m661 0h4m-1082 14h4m384 7h4m661 0h4m-907 18h3m-156 14h3m388 11h4m-253 7h4m245 0h4m-7 7h3m-203 7h4m-196 11h4m981 0h4m-11 7h4m-982 7h4m960 0h4m-840 25h4m231 7h4m426 0h4m-672 7h3m786 11h7m-594 14h4m573 0h3m-565 11h3m-231 7h4m220 0h4m395 7h3m-11 7h4m139 0h3m-860 25h3m299 7h3m360 18h3m-587 7h4m-89 7h4m78 0h3m39 25h4m633 0h4m-143 7h4m-356 11h4m334 0h4m-370 21h3m-10 11h3m470 0h3m-483 14h3m-178 7h4m43 0h3m583 0h4m-594 11h4m579 0h4m-704 14h3m110 0h4m434 0h3m-323 7h3m-238 11h4m106 0h4m-50 7h4m42 0h4m110 0h4m434 0h3m-11 7h4m-445 18h4m416 0h4m-171 39h4m92 25h4m-11 7h3m651 0h4m-786 7h3m779 0h4m-78 11h3m25 0h4m-1096 7h4m448 0h3m-124 7h4m714 0h8m-1103 7h4m1031 0h3m29 0h4m-1075 18h4m1035 0h3m-67 7h3m40 0h3m-57 18h7m-14 7h4m-971 14h3m875 0h4m42 0h4m-893 11h4m-7 14h3m86 0h3m-96 7h4m366 0h4m451 0h4m-580 11h4m551 0h4m-566 7h4m-196 7h4m277 7h4m380 0h4m-680 11h4m277 0h4m370 0h3m-658 7h4m167 0h4m458 0h4m39 0h4m-72 7h4m718 0h4m-1092 25h4m313 0h3m559 0h3m-537 7h4m441 11h7m256 0h3m-1312 21h4m206 0h3m274 0h4m469 0h4m-64 11h3m-935 21h4m99 11h4m327 0h4m373 0h4m-822 7h4m796 0h4m-352 7h3m313 0h4m-338 7h3m-433 11h3m391 7h4m-334 7h3m274 0h4m-367 18h4m64 0h3m541 0h3m139 0h4m-704 14h3m644 0h3m-416 18h4m345 0h3m633 0h4m14 0h4m-687 7h7m566 0h7m-89 7h4m14 0h4m-705 7h4m622 0h4m-679 11h3m939 0h4m-1149 7h3m712 0h3m327 0h4m-1152 7h3m89 0h4m949 0h4m3 0h4m7 0h4m-996 11h3m29 0h3m249 0h4m-167 7h3m662 0h3m-821 7h3m256 0h4m274 0h3m200 0h3m-57 7h4"/>
<path transform="translate(0,2)" stroke="#9800a8" stroke-width="4" d="M405 106h4m188 21h4m-164 11h4m-4 18h4m-43 28h3m1256 0h3m4 0h4m10 0h4m-57 4h3m15 0h3m14 0h4m-39 7h3m8 0h3m11 0h3m7 0h4m11 0h3m-3 7h3m-128 39h4m-929 7h4m1014 4h7m-1028 7h3m1028 0h4m-132 7h4m-18 14h4m117 0h4m-1245 4h3m-3 7h3m441 7h4m647 0h4m138 0h4m-1063 7h3m907 0h4m-651 7h3m765 4h4m-146 7h3m125 7h3m4 0h3m-778 7h7m3 0h4m747 7h7m-772 4h4m-264 14h4m857 0h4m3 0h4m131 0h4m-1007 7h4m985 0h7m-747 7h4m0 4h3m587 0h4m-11 7h4m138 0h4m-989 7h4m832 0h4m131 7h4m-153 4h3m-10 7h3m-772 7h4m206 0h4m-11 7h7m534 11h3m-547 7h3m683 0h4m-712 14h4m-402 7h4m391 0h3m11 0h4m-207 4h4m722 0h3m136 7h3m-14 7h3m-917 18h3m232 0h3m647 7h4m-157 14h8m135 0h7m-153 7h7m-857 4h3m342 0h3m633 0h4m-644 7h4m-235 7h4m46 0h3m804 0h4m-150 7h4m-11 7h4m-715 4h4m-111 7h4m149 7h4m-4 7h4m779 0h3m-619 7h4m18 0h3m-195 4h3m630 0h3m132 0h3m-775 7h4m185 0h3m438 0h3m-782 7h3m761 7h4m121 11h3m-750 7h4m174 7h3m402 11h7m-771 14h3m886 0h3m-7 7h4m-722 7h3m153 0h4m409 0h3m-28 25h3m-391 11h4m512 0h4m-150 7h4m-11 7h7m-672 7h4m270 0h3m516 0h4m-150 11h4m117 7h7m-14 7h4m-641 7h4m149 0h4m477 0h3m-523 39h4m18 0h3m452 0h3m-153 18h4m-469 7h3m441 18h4m124 0h4m-701 21h4m110 0h3m559 0h3m-142 11h4m-484 21h4m579 0h4m-7 4h3m-434 14h4m11 18h3m253 0h3m118 0h3m-388 14h4m-7 7h3m242 0h4m-420 11h4m1177 0h4m-22 7h4m7 0h3m-17 7h3m7 0h7m-1184 7h4m505 0h3m630 0h3m11 0h7m-85 11h3m39 0h4m-25 7h4m-1106 7h3m1039 0h3m36 0h3m7 0h4m7 0h4m-744 7h4m644 4h3m7 0h4m21 0h11m-591 7h4m526 0h4m39 0h4m-936 25h4m807 0h4m57 0h3m-853 7h3m768 0h4m-36 14h4m39 0h4m-897 11h4m825 0h4m-562 7h7m-15 7h4m576 0h4m-854 7h4m768 7h4m39 4h3m-761 7h4m-7 7h3m711 7h4m-786 18h4m1315 18h4m-1334 7h4m1248 0h4m10 0h4m-60 7h3m4 0h3m4 0h3m-64 7h4m-978 11h3m399 0h3m484 7h4m252 0h4m-1302 7h3m1242 0h3m-78 14h4m-957 4h3m-106 7h3m961 7h3m-1135 7h4m242 0h3m658 0h4m-427 7h4m-43 18h4m42 0h4m-68 7h4m537 0h3m-35 7h3m-537 4h4m39 0h4m469 0h4m-904 7h4m85 0h4m611 0h4m-626 7h4m757 0h4m-36 7h4m-448 7h3m-238 11h3m175 0h3m420 0h4m-445 7h3m29 0h3m1071 14h4m-900 4h3m811 0h4m-861 14h4m-217 7h3m175 0h3m569 7h4m387 0h4m-434 4h4m394 0h4m-1021 7h4m551 0h4m341 0h7m21 0h4m-1081 7h3m633 0h4m14 0h4m281 0h3m-839 7h3m143 0h3m328 0h3m-28 4h3m4 0h7m185 7h3m-914 7h4m331 0h3m-274 7h4m238 0h4m480 0h3"/>
<path transform="translate(0,1.5)" stroke="#b0ff00" stroke-width="3" d="M409 110h3m192 0h4m-203 32h4m216 50h8m-11 46h3m961 0h3m18 0h4m7 0h3m-35 7h3m-17 11h3m29 0h3m-53 7h3m15 0h3m-7 7h7m7 0h4m-1163 7h3m1124 0h4m3 0h4m35 0h4m-1206 11h4m178 0h3m939 0h4m3 0h4m39 0h4m-47 7h4m46 0h4m-1156 7h3m1074 0h4m71 0h4m-7 7h3m11 0h3m-1198 11h3m214 7h3m-220 7h3m1156 7h4m-18 11h4m-939 7h3m832 0h4m-882 7h3m865 0h7m99 0h4m-114 7h4m85 0h4m7 11h3m-971 7h4m846 0h4m-18 7h4m99 11h4m-121 7h3m114 0h4m-1088 14h3m128 11h4m803 0h8m106 0h4m-1085 7h4m398 0h4m554 0h4m114 0h3m-14 7h4m-136 18h4m114 0h3m-1035 7h4m363 0h3m530 7h4m-779 7h3m879 0h7m-654 11h3m633 0h4m-647 7h3m519 0h4m-519 7h3m495 7h3m-508 11h3m608 0h4m-857 7h3m726 0h3m4 0h3m107 0h4m-612 7h4m590 7h3m-956 11h3m111 0h3m815 7h7m-594 7h3m466 0h4m-495 18h4m459 0h3m118 0h3m-807 14h3m786 0h4m-928 18h3m-3 14h3m889 0h4m-132 11h4m-605 7h4m-11 14h4m160 0h3m-309 18h4m295 0h3m409 0h4m117 0h4m-139 14h4m-705 18h4m128 0h4m547 0h4m110 0h7m-711 7h3m36 0h4m544 0h3m-686 18h3m769 0h3m-686 7h3m530 25h4m-630 7h4m117 7h4m-132 25h4m114 0h3m146 0h3m-163 32h3m569 0h4m-18 14h4m-569 11h3m548 0h4m-445 32h4m401 0h4m-121 7h4m-299 7h3m-160 11h4m32 0h4m106 7h4m-11 14h4m377 0h7m-22 11h4m-124 14h3m107 0h7m576 25h4m-1074 25h3m420 7h3m-430 7h4m949 0h4m-993 7h4m445 0h3m484 11h3m-28 7h3m-494 7h4m480 0h3m-590 7h3m577 0h7m-54 11h4m-743 7h3m729 0h4m-740 7h4m-25 7h3m7 11h4m686 0h4m-21 7h3m-690 14h4m163 0h7m513 0h3m-89 36h4m-50 7h4m-8 14h4m-68 18h4m498 0h4m202 0h7m-725 7h3m22 0h3m-547 7h3m925 11h3m111 14h3m-953 7h4m362 0h4m377 0h7m-53 11h3m4 0h7m149 0h4m-886 7h4m313 0h3m534 0h3m-960 14h4m391 0h3m18 0h4m327 0h4m145 0h4m-509 11h4m-253 7h4m210 0h3m-227 7h3m630 7h3m-220 25h3m-291 7h3m18 0h4m-64 18h3m18 0h3m986 0h3m-117 7h3m-711 7h4m626 0h3m4 0h3m4 0h3m320 0h4m-1021 11h4m587 0h3m292 0h3m-1266 7h4m53 0h4m131 0h4m274 0h3m431 0h10m232 0h3m-996 7h4m156 0h4m3 0h4m505 0h4m245 0h4m-954 11h4m142 0h4m114 0h3m544 0h4m10 0h4m-829 7h4m206 7h4m259 7h4"/>
<path transform="translate(0,2)" stroke="#b0ff00" stroke-width="4" d="M405 138h4m188 14h4m-200 36h4m188 0h4m-196 14h4m220 25h4m982 0h3m-10 14h7m7 0h3m-46 7h4m-1153 4h4m1142 7h3m21 0h4m-32 7h4m-22 7h4m3 0h4m-18 7h4m10 0h4m25 0h3m-1195 4h4m178 0h3m1000 0h7m3 0h4m-1199 7h4m1113 0h7m11 0h3m43 7h7m-1188 7h4m1102 0h8m60 0h4m-1181 7h3m217 0h4m868 4h7m-882 7h3m943 0h3m-7 7h4m-18 7h7m4 0h3m-96 7h7m-1045 4h3m142 0h4m893 0h3m71 14h4m-1149 7h4m167 0h3m971 0h4m-1149 7h4m1134 0h4m-118 4h4m-818 7h4m814 0h4m96 0h7m-121 7h3m100 0h4m-915 7h4m790 0h3m-1006 4h3m992 0h4m117 0h8m-18 7h3m-7 7h4m-904 7h4m-181 7h3m1053 0h3m4 4h4m-139 14h7m-11 7h4m-11 7h4m-797 4h4m896 0h3m-1035 7h4m366 0h4m533 0h4m117 0h4m-904 7h4m889 0h4m-662 7h4m3 0h4m519 0h4m-925 7h4m387 11h4m505 7h3m111 0h3m-7 7h4m-128 7h3m-516 4h4m619 0h3m-978 14h4m960 0h4m-996 14h3m971 4h4m-839 7h3m822 0h3m-832 7h4m704 0h3m107 0h4m-936 14h4m-29 11h4m359 0h4m451 0h4m110 0h4m-11 7h4m-125 7h7m107 0h3m-793 7h4m782 0h4m-751 11h4m178 0h3m-355 7h3m769 7h3m-448 18h3m-312 7h3m135 7h4m160 0h3m7 0h4m406 0h3m-750 4h3m857 0h4m-11 7h7m-839 7h4m697 7h3m-416 7h4m512 4h3m7 0h4m-153 21h4m113 0h4m-128 7h7m-11 4h4m-11 7h4m-18 14h4m110 0h3m-633 11h4m131 7h4m352 7h4m110 0h4m-616 7h4m590 7h4m-722 4h3m601 0h4m110 0h4m-726 21h4m583 0h4m-331 7h3m427 0h4m-118 4h4m-11 7h4m-580 14h4m554 0h4m-309 7h3m299 0h3m104 4h3m-420 7h4m292 0h3m-302 14h3m281 0h4m107 0h3m-7 7h4m-146 29h3m104 0h7m-516 7h4m497 0h8m-392 21h4m252 0h4m-420 4h4m409 0h3m-419 7h3m406 0h3m-380 7h3m356 7h4m-267 7h3m-3 4h3m249 0h4m-359 7h3m-3 7h3m331 7h4m-249 7h3m334 4h4m-11 7h4m-327 14h3m840 0h3m-868 7h4m832 0h4m-7 4h3m-14 7h3m-818 7h4m754 7h4m-481 7h4m477 4h3m-779 7h4m736 7h4m-872 7h4m391 0h4m-11 7h3m427 0h4m-530 4h3m537 0h4m-811 7h4m256 0h3m-266 7h3m751 0h3m-693 32h3m612 0h3m32 0h4m-36 11h4m-704 7h3m1277 0h4m7 0h3m-89 14h4m-1216 11h3m608 0h4m754 0h3m15 0h3m-768 7h4m-630 7h4m1273 0h3m-711 7h7m18 0h4m455 0h3m-501 7h3m634 0h10m-1206 4h4m999 0h4m167 0h7m-1124 7h4m498 0h3m555 7h4m-893 18h4m277 0h4m-18 7h3m509 0h4m-178 7h3m-800 7h4m394 0h4m-409 7h4m746 0h4m121 4h3m-199 14h4m-548 7h4m643 0h4m-797 7h4m633 0h3m132 0h4m-18 4h3m-633 7h4m-32 25h3m1270 0h4m-889 7h3m786 0h4m-1256 7h4m57 0h3m491 0h4m586 0h4m-1095 7h3m-11 7h4m124 0h4m14 0h4m192 0h3m623 0h3m317 0h3m-1294 4h3m925 0h4m7 0h3m278 0h3m29 0h3m-1323 7h4m171 0h3m761 0h4m-946 7h3m54 0h3m100 0h3m164 0h3m534 0h4m3 0h11m242 0h3m-697 7h4m373 0h7m214 0h3m-1042 4h4m49 0h4m928 0h4m-832 7h3m121 0h4m633 0h3m-235 7h4m164 0h3m4 0h3m-832 7h4m750 0h4"/>
<path transform="translate(0,1.5)" stroke="#b40000" stroke-width="3" d="M416 103h3m7 0h4m-14 7h3m4 14h7m-14 11h3m192 7h7m-202 7h3m4 0h3m-3 11h3m189 0h3m-206 7h7m4 0h3m185 7h4m3 0h4m-199 7h3m192 0h4m-210 11h4m3 0h4m185 0h7m-196 7h4m185 0h3m-199 7h4m3 0h4m178 0h14m-206 18h3m192 0h4m7 0h3m-209 7h10m189 0h3m-202 7h3m185 0h4m-192 7h3m4 0h3m185 0h7m-202 11h3m185 0h7m4 0h3m-206 7h4m184 0h4m4 0h3m4 0h3m-206 7h4m7 0h3m185 0h4m-11 7h4m3 0h4m-196 11h4m174 0h3m4 0h4m-196 7h4m3 0h4m170 0h11m-192 7h4m3 0h4m170 0h4m3 0h4m-185 7h4m177 0h4m-188 11h3m185 0h4m-192 7h3m171 0h3m7 0h4m-196 7h11m167 0h4m7 0h7m-196 7h4m4 0h3m167 0h4m-185 11h3m4 7h4m163 0h4m3 0h4m7 0h3m-21 7h4m3 0h4m-189 7h4m7 0h4m160 0h3m14 0h7m-28 11h4m3 0h4m7 0h3m-7 7h7m-185 7h4m-11 11h4m163 0h4m-167 7h3m178 0h4m-192 7h3m4 0h3m157 0h3m-170 7h3m157 0h7m18 0h3m-188 11h3m0 7h4m153 0h3m4 0h3m-174 7h4m3 0h4m149 0h4m18 0h3m811 0h4m-996 18h3m167 0h4m-174 7h3m146 0h4m17 0h4m-4 7h4m-181 7h3m167 0h4m782 0h4m7 0h4m-975 11h4m942 0h7m4 0h3m-960 7h7m943 0h3m-953 7h7m142 0h4m18 0h3m769 0h3m-797 7h4m18 0h3m740 0h4m10 0h4m-935 11h10m142 0h4m765 0h3m4 0h3m-768 7h4m739 0h4m4 0h3m4 0h3m-761 7h7m744 0h3m-775 7h3m758 0h3m8 0h3m-917 11h3m135 0h4m18 7h3m722 0h7m-896 7h7m871 0h15m-886 7h4m128 0h3m-7 11h4m17 0h4m690 0h4m3 0h14m-867 7h3m125 0h3m715 0h4m10 0h4m-864 7h3m146 0h3m687 0h7m7 0h4m-861 7h4m145 0h4m679 0h4m-840 11h4m146 0h3m662 0h7m14 0h4m3 0h7m-722 7h4m676 0h7m25 0h3m-718 7h3m673 0h3m7 0h4m14 0h4m10 0h4m-726 11h4m18 0h3m640 0h4m4 0h7m25 0h3m-50 7h11m25 0h3m11 0h4m-715 7h7m14 0h4m-150 7h4m121 0h3m15 0h7m619 0h3m4 0h3m25 0h11m-811 11h3m136 0h3m612 0h3m8 0h3m32 0h4m-808 7h4m117 0h4m14 0h4m604 0h11m3 0h4m25 0h3m-675 7h3m18 0h4m601 0h3m39 0h4m-793 7h3m114 0h4m622 0h7m32 0h7m-786 11h4m754 0h3m4 0h7m-640 7h3m584 0h7m3 0h4m28 0h4m4 0h3m-775 7h3m107 0h7m14 0h7m569 0h4m4 0h3m4 0h3m22 0h3m-619 7h4m612 0h7m-758 11h4m128 0h3m573 0h3m29 0h7m-615 7h3m601 0h4m-740 7h4m675 0h15m32 0h3m-729 7h4m99 0h4m18 0h3m551 0h4m36 0h3m-18 11h7m4 0h4m-64 7h3m4 0h3m-672 7h4m121 0h3m573 0h3m-601 7h4m14 0h4m572 0h7m-708 11h8m117 0h4m515 0h4m39 0h3m4 0h4m-598 7h4m526 0h4m-516 7h3m498 0h7m-626 7h4m612 0h3m43 0h7m11 0h3m-590 11h7m14 0h4m484 0h3m4 0h3m11 0h7m28 0h4m-555 7h4m551 0h4m-18 7h3m4 0h3m-569 7h4m484 0h7m53 0h7m-562 11h4m523 0h7m-534 7h4m14 0h4m138 0h4m373 0h4m3 0h4m-75 7h4m57 0h3m-74 7h3m4 0h3m50 0h4m3 0h4m-541 11h4m455 0h7m-452 7h4m-25 18h4m10 0h4m420 0h3m32 0h4m25 0h7m-71 7h3m-448 7h7m11 0h3m473 0h7m-501 7h4m423 0h3m-434 11h4m469 0h4m7 0h4m-488 7h4m11 0h3m463 0h3m-78 7h3m64 0h4m-21 7h10m-473 11h7m8 0h3m374 0h3m32 0h4m25 0h3m-462 7h3m452 0h4m-15 7h4m-324 7h4m245 0h4m60 0h7m-451 11h3m11 0h3m349 0h7m-249 7h4m231 0h3m-362 7h3m7 0h4m334 0h4m-342 7h4m391 0h4m-402 11h3m324 0h4m60 0h4m-413 7h4m14 0h3m317 0h7m57 0h3m-405 7h4m355 0h7m-355 7h7m373 0h4m-46 11h3m14 7h4m-366 7h3m295 0h4m18 0h3m32 0h4m-363 7h4m291 0h4m-18 11h3m18 0h4m35 0h4m-349 7h4m274 0h3m4 0h3m50 0h4m3 0h4m-363 14h4m3 0h7m267 0h4m-288 11h3m270 0h4m57 0h7m402 0h4m-751 7h4m3 0h7m-14 7h4m245 11h4m53 0h7m-11 7h4m1085 0h3m-1394 7h4m1301 0h11m4 0h7m25 0h7m7 0h3m15 0h3m-135 7h4m24 0h8m3 0h18m3 0h22m10 0h11m-1291 11h4m149 0h7m46 0h4m893 0h3m22 0h28m11 0h7m10 0h8m3 0h4m7 0h7m3 0h4m-1074 7h3m925 0h4m57 0h14m7 0h4m7 0h7m3 0h4m-985 7h3m840 0h14m7 0h4m39 0h7m14 0h7m-1003 7h4m3 0h4m878 0h7m29 0h3m18 0h4m7 0h3m8 0h7m-978 11h3m904 0h3m18 0h7m-889 7h3m765 0h4m74 0h4m-864 7h3m733 0h3m4 0h3m4 0h4m67 0h4m-882 7h7m754 0h3m4 0h3m89 0h4m3 0h4m-836 11h4m683 0h3m4 0h3m71 0h8m-829 7h7m32 0h7m669 0h3m4 0h3m4 0h4m60 0h14m-811 7h7m32 0h4m658 0h4m60 0h4m-96 7h7m46 0h7m11 0h3m7 0h4m-772 11h4m647 0h4m3 0h4m-633 7h3m594 0h4m3 0h4m39 0h3m4 0h7m-676 7h4m572 0h11m4 0h10m29 0h3m4 0h4m7 0h3m-690 7h7m25 0h4m562 0h7m10 0h4m14 0h4m3 0h4m11 0h3m-103 11h4m3 0h11m3 0h4m7 0h7m7 0h7m-622 7h4m24 0h4m516 0h7m28 0h11m-569 7h3m498 0h4m-544 7h3m25 0h7m477 0h3m32 0h15m-569 11h3m25 0h4m451 0h4m-470 7h4m462 0h22m803 0h4m4 0h3m7 0h7m7 0h8m-1341 7h7m412 0h4m4 0h7m25 0h3m11 0h3m4 0h3m715 0h7m32 0h4m11 0h25m7 0h3m11 0h7m-1309 7h7m395 0h11m25 0h3m655 0h10m4 0h3m29 0h3m4 0h21m11 0h7m4 0h10m15 0h3m18 0h3m-885 11h18m21 0h11m594 0h3m11 0h14m11 0h3m18 0h4m-722 7h3m14 0h4m555 0h3m11 0h4m17 0h7m4 0h14m11 0h3m25 0h4m-718 7h7m7 0h3m11 0h4m7 0h17m498 0h15m10 0h14m-931 11h3m285 0h3m25 0h7m11 0h4m455 0h14m7 0h11m7 0h3m25 0h4m-875 7h4m270 0h14m21 0h7m449 0h10m4 0h3m4 0h4m-797 7h3m256 0h4m4 0h3m25 0h7m413 0h10m-736 7h4m238 0h14m7 0h4m7 0h18m366 0h7m7 0h4m11 0h3m4 0h10"/>
<path transform="translate(0,2)" stroke="#b40000" stroke-width="4" d="M416 106h3m7 0h4m-14 7h3m7 14h4m-14 4h3m192 7h7m-7 7h4m-199 7h3m4 0h3m185 0h7m-195 4h3m189 0h3m-3 7h3m-195 7h3m185 0h4m-203 7h4m202 0h4m-210 11h4m199 0h3m-206 7h4m3 0h4m181 0h14m-206 7h4m185 0h14m-14 7h7m3 0h7m-209 7h3m7 0h4m178 0h7m-199 4h3m7 0h4m178 0h3m4 0h3m-202 7h3m189 0h3m4 0h3m4 0h3m-209 7h7m192 0h3m-202 7h3m4 0h3m182 0h10m-202 7h3m4 0h3m178 0h11m-199 4h7m181 0h4m7 0h3m-202 7h3m4 0h3m178 0h7m-199 14h4m7 0h3m174 0h4m7 0h4m-203 7h4m181 0h3m8 0h3m-199 4h4m181 0h3m4 0h4m-196 7h4m177 0h11m-196 7h8m177 0h11m-192 7h4m174 0h3m7 0h8m-189 11h4m167 0h3m7 0h4m-199 7h3m182 0h7m7 0h4m-192 7h3m167 0h4m-182 7h8m170 0h4m-182 7h4m4 0h3m171 0h3m4 0h3m-21 4h4m3 0h4m7 0h7m-25 7h11m-11 7h4m14 0h3m-195 7h3m4 0h4m160 0h3m7 0h4m7 0h3m-199 7h4m174 0h4m10 0h4m-18 4h4m10 0h4m-11 7h4m-178 7h4m170 0h4m-189 7h4m185 0h3m-25 4h4m11 0h3m-188 7h3m4 7h3m-10 7h3m4 0h3m175 7h3m-188 4h3m157 0h3m-167 7h4m7 0h3m150 0h3m4 0h3m-174 7h4m7 0h3m146 0h7m15 0h3m-185 7h4m3 0h4m-11 7h4m3 0h4m146 0h3m18 0h4m-185 11h3m4 0h3m167 0h4m-181 7h3m-3 7h3m174 0h4m790 0h3m-974 7h7m163 0h7m783 0h3m-960 4h4m167 0h3m-181 7h4m149 0h4m793 0h3m-949 7h3m-7 7h4m145 0h8m14 0h3m758 0h3m-935 7h4m145 0h4m772 0h10m-935 4h4m142 0h7m761 7h4m3 0h4m-783 7h4m14 0h7m-170 7h3m160 0h4m732 0h7m8 0h3m-917 7h7m892 0h4m-900 4h4m131 0h4m21 0h4m729 0h7m-900 7h4m131 0h4m18 0h3m722 0h7m-892 7h3m132 0h3m736 0h8m7 0h3m-896 7h4m156 0h4m700 0h4m-868 7h7m128 0h4m21 0h4m707 0h7m-878 4h7m128 0h4m715 0h3m11 0h10m-878 7h4m853 0h4m-733 7h4m21 0h3m687 0h3m4 0h7m4 0h3m-736 7h4m21 0h3m673 0h14m3 0h4m4 0h3m4 0h3m-868 7h4m825 0h7m14 0h11m4 0h3m-868 4h4m4 0h3m811 0h11m14 0h3m4 0h4m-858 7h4m142 0h7m673 0h3m-829 7h4m124 0h4m676 0h3m4 0h3m15 0h3m-690 7h4m647 0h7m4 0h3m15 0h7m7 0h3m-53 4h7m11 0h3m7 0h8m-705 7h4m665 0h7m21 0h8m-43 7h3m25 0h11m-825 7h3m118 0h3m18 0h4m633 0h7m21 0h11m-822 7h4m121 0h3m641 0h7m3 0h4m18 0h7m-804 4h3m762 0h3m32 0h7m-811 7h7m114 0h7m630 0h7m28 0h8m-662 7h4m597 0h4m35 0h4m10 0h4m-797 7h4m775 0h7m-789 7h3m135 0h4m598 0h3m43 0h3m-789 4h3m135 0h4m587 0h3m4 0h4m32 0h3m-772 7h4m107 0h3m18 0h3m587 0h4m35 0h8m-776 7h4m718 0h4m28 0h4m3 0h4m3 0h4m-654 7h3m14 0h4m576 0h4m25 0h10m-754 7h7m107 0h4m586 0h4m3 0h4m29 0h3m4 0h7m-754 4h3m125 0h3m576 0h4m21 0h15m-619 7h3m562 0h7m22 0h3m4 0h11m-744 7h4m106 0h4m573 0h7m35 0h4m-54 7h8m32 0h3m4 0h3m-732 7h7m99 0h4m18 0h3m587 0h4m-722 4h3m125 0h3m541 0h3m4 0h3m29 0h18m-729 7h3m704 0h4m-711 7h3m118 0h3m534 0h3m43 0h3m-604 7h3m584 7h7m-601 4h3m587 0h4m-577 7h4m509 0h3m-540 7h3m526 0h4m-626 7h4m106 0h4m533 0h7m-658 7h4m107 0h3m498 0h4m-523 4h4m17 0h4m484 0h3m7 0h7m47 0h7m-75 7h11m-520 7h4m14 0h4m537 0h7m-551 7h3m480 0h4m53 0h4m-68 7h4m-498 4h3m530 0h7m-544 7h4m484 0h3m50 0h14m-555 7h4m473 0h3m57 0h4m-541 7h4m11 0h3m509 0h3m-380 7h3m303 0h3m4 0h3m57 0h4m-534 4h4m14 0h4m-8 7h4m437 0h8m56 0h4m-71 7h3m-462 7h4m444 0h4m60 0h4m-11 4h4m-495 7h4m487 0h4m-18 7h7m-505 7h4m14 0h3m473 0h7m-487 7h4m469 0h4m-78 11h7m-15 7h4m60 0h4m-11 7h4m-78 7h7m57 0h7m-75 4h4m25 0h7m35 0h4m-463 7h4m373 0h8m64 0h3m-448 7h4m430 0h7m-459 7h7m370 0h7m7 0h8m28 0h4m14 0h3m-74 7h3m61 0h7m-448 4h3m14 0h4m349 0h7m53 0h4m-434 7h3m14 0h4m341 0h4m-370 7h7m7 0h7m338 0h4m60 0h7m-78 7h7m-10 7h3m54 0h7m-416 4h3m11 0h3m328 0h7m60 0h4m-68 7h4m3 0h4m28 0h4m-381 7h4m316 0h4m60 0h4m-11 7h4m-399 7h4m384 0h7m-71 4h4m-320 7h3m302 0h4m60 0h4m-384 7h3m299 7h4m57 0h3m-7 7h4m-356 4h4m284 0h4m-296 7h4m281 0h3m-288 7h4m313 0h11m-342 7h4m-4 7h4m274 0h3m-284 4h3m7 0h4m259 0h4m-277 7h3m327 0h4m-338 7h4m3 0h4m291 0h4m-306 7h4m3 0h4m245 0h4m3 0h4m28 0h4m-46 4h3m14 0h4m43 0h3m-324 7h4m299 0h10m-309 7h4m238 0h3m54 0h3m1053 0h11m10 0h8m-1153 7h4m53 0h4m1017 0h14m18 0h3m4 0h11m3 0h7m-1141 7h3m406 0h3m584 0h3m4 0h3m18 0h7m4 0h3m14 0h4m11 0h3m14 0h4m-1320 4h4m217 0h4m53 0h7m903 0h11m4 0h10m7 0h15m14 0h7m4 0h7m7 0h10m32 0h4m-1049 7h7m338 0h3m555 0h4m3 0h18m36 0h3m4 0h3m-1035 7h4m50 0h3m861 0h11m25 0h3m18 0h3m11 0h11m3 0h4m-121 7h7m4 0h3m32 0h4m10 0h32m4 0h4m-950 7h3m907 0h4m-914 4h7m793 0h7m68 0h11m3 0h7m-903 7h3m779 0h4m50 0h10m7 0h4m4 0h3m4 0h3m-928 7h3m794 0h3m4 0h14m-53 7h3m4 0h7m82 0h3m-861 7h4m740 0h7m75 0h7m-854 4h4m39 0h7m772 0h28m-857 7h4m42 0h4m683 0h3m64 0h4m3 0h4m3 0h4m-829 7h7m36 0h7m665 0h4m60 0h4m3 0h7m-757 7h3m648 0h3m11 0h7m36 0h3m7 0h7m-732 7h3m644 0h4m46 0h3m4 0h7m4 0h3m-761 4h4m665 0h3m50 0h4m7 0h10m-736 7h7m264 0h3m352 0h11m50 0h3m4 0h3m7 0h4m-729 7h3m29 0h7m580 0h3m7 0h8m42 0h18m-93 7h4m50 0h11m-651 7h7m547 0h4m4 0h7m46 0h4m-655 4h7m562 0h14m7 0h8m32 0h14m-623 7h8m526 0h3m11 0h7m22 0h7m3 0h4m-82 7h4m35 0h4m7 0h3m-604 7h3m4 0h3m520 0h7m25 0h3m7 0h7m-586 7h3m502 0h3m11 0h3m32 0h4m-555 4h4m480 0h3m4 0h4m39 0h10m-526 7h4m448 0h7m28 0h4m-527 7h4m21 0h11m423 0h7m25 0h11m772 0h7m3 0h4m3 0h8m7 0h3m11 0h3m4 0h4m7 0h3m7 0h4m-918 7h4m28 0h4m683 0h3m36 0h7m4 0h7m17 0h11m7 0h4m3 0h11m21 0h11m-889 7h3m8 0h3m7 0h14m8 0h3m4 0h3m626 0h7m4 0h3m8 0h3m7 0h11m21 0h11m3 0h18m18 0h7m-1223 4h3m22 0h3m413 0h17m623 0h7m7 0h7m4 0h3m15 0h3m18 0h11m-1163 7h3m25 0h4m362 0h7m609 0h3m7 0h4m10 0h8m7 0h14m11 0h3m14 0h4m-736 7h3m32 0h7m545 0h3m7 0h7m11 0h11m7 0h3m7 0h4m14 0h4m-1014 7h4m298 0h11m11 0h3m29 0h3m502 0h3m22 0h7m-918 4h4m313 0h3m40 0h3m7 0h4m3 0h4m473 0h3m8 0h10m4 0h3m7 0h8m-904 7h4m782 0h4m3 0h7m4 0h4m7 0h7m-808 7h4m267 0h7m25 0h7m420 0h3m7 0h7m-750 7h3m242 0h4m32 0h14m381 0h3m4 0h3m4 0h3m11 0h11"/>
<path transform="translate(0,1.5)" stroke="#d20000" stroke-width="3" d="M618 103h11m-203 7h7m182 0h10m-199 7h4m192 0h3m-7 7h4m3 0h4m-199 11h3m178 0h11m-206 7h3m7 0h4m188 0h4m-7 7h3m-206 11h4m202 0h4m-11 7h7m-195 7h3m178 0h4m7 0h3m-206 7h4m192 0h3m-10 11h7m-199 7h3m189 0h7m3 0h4m-206 7h3m11 0h3m171 0h4m14 0h3m-209 7h3m7 0h4m178 0h3m7 0h4m-7 11h7m-14 7h3m0 7h11m-210 7h4m184 0h8m10 0h4m-25 11h3m11 0h4m-192 7h3m185 0h4m-18 7h7m-192 7h4m7 0h3m-3 11h3m167 0h4m-189 7h4m178 0h3m-185 7h4m199 0h4m-29 7h7m11 0h7m-203 11h4m174 0h4m-4 7h4m18 7h3m-28 7h3m14 0h4m-188 11h3m160 0h4m17 0h4m-199 14h3m192 7h4m-192 11h4m177 0h4m-185 7h4m152 0h8m17 0h4m-196 7h4m188 0h4m-185 11h4m149 0h3m-170 7h3m164 0h3m22 0h3m-32 7h4m-160 7h3m-14 11h4m7 0h3m146 0h7m18 0h4m-189 7h4m156 0h4m21 0h4m-178 7h3m975 0h3m11 0h4m-1007 7h4m153 0h3m832 0h4m-818 11h4m789 0h4m7 0h7m-11 7h4m-985 7h3m150 0h3m804 0h3m8 0h7m-801 7h4m779 0h7m-960 11h3m139 0h4m17 0h4m775 0h4m3 0h4m-815 7h4m21 0h4m757 0h8m3 0h4m3 0h7m-32 7h4m14 0h4m-776 7h4m754 0h3m-768 11h4m740 0h3m14 0h4m-935 7h3m4 0h3m135 0h4m-7 7h3m761 0h8m-751 7h4m739 0h4m7 0h4m-758 11h4m-32 7h3m729 0h4m3 0h8m14 0h3m-896 7h4m124 0h4m736 0h3m-878 7h4m131 0h4m21 0h4m693 0h7m4 0h14m-886 11h11m847 0h3m14 0h4m-747 7h4m707 0h4m3 0h4m25 0h3m-42 7h3m22 0h14m-879 7h4m4 0h3m146 0h3m666 0h3m4 0h3m25 0h4m-740 11h3m722 0h8m-854 7h7m139 0h3m651 0h4m7 0h3m25 0h7m-853 7h3m797 0h4m3 0h4m28 0h4m-50 11h4m39 0h3m-839 7h7m139 0h3m630 0h3m47 0h3m-686 7h3m626 0h7m29 0h3m4 0h7m-708 7h4m690 0h3m7 0h4m-708 11h4m629 0h4m50 0h7m-811 7h3m786 0h4m4 0h3m4 0h3m-71 7h4m3 0h4m39 0h3m4 0h4m-666 18h4m587 0h3m32 0h4m7 0h11m-790 7h4m3 0h4m107 0h3m651 0h4m-776 7h4m3 0h4m704 0h4m46 0h7m-768 7h3m125 0h3m566 0h3m4 0h7m32 0h4m7 0h10m-771 11h3m4 0h3m103 0h4m583 0h7m47 0h3m-754 7h4m686 0h4m57 0h3m-757 7h3m107 0h3m623 0h7m-743 7h3m107 0h3m18 0h4m540 0h4m43 11h3m-71 7h4m49 0h7m-714 7h3m121 0h4m519 0h3m50 0h7m-611 7h3m22 0h3m516 0h7m43 11h3m-701 7h4m93 0h3m21 0h4m501 0h4m60 0h4m-690 7h4m89 0h3m516 0h3m61 0h10m-572 7h3m555 0h4m-50 11h11m3 0h14m4 0h4m7 0h3m-587 7h4m18 0h3m544 0h4m-555 7h4m476 0h7m57 0h4m3 0h4m-576 7h3m15 0h3m142 0h4m391 0h4m3 0h4m-93 11h4m4 0h3m43 0h7m3 0h8m3 0h4m-82 7h7m57 0h3m4 0h4m-555 7h7m11 0h3m452 0h3m4 0h3m57 0h4m-544 7h3m466 0h4m67 0h4m-25 11h4m-509 7h4m430 0h3m64 0h8m-534 7h4m17 0h4m128 0h4m295 0h3m61 0h7m-82 11h4m32 0h10m11 0h4m7 0h3m-498 7h4m484 0h7m-370 7h3m285 0h3m64 0h4m-509 7h4m423 0h4m60 0h4m10 0h4m-491 11h4m117 0h4m270 7h4m60 0h4m-488 7h4m18 0h3m114 0h4m266 0h4m64 0h3m4 0h4m-488 7h4m14 0h4m113 0h4m263 0h4m-409 11h3m388 0h4m39 0h7m3 0h15m3 0h4m-15 7h4m-455 7h3m11 0h4m106 0h4m320 0h3m-323 7h3m239 0h3m4 0h3m64 0h4m-459 18h4m17 0h4m341 0h4m57 0h3m8 0h3m-441 7h4m121 0h3m292 0h10m-309 7h4m224 0h3m-359 11h4m409 0h3m-299 7h4m284 0h4m-413 7h4m14 0h4m309 0h4m35 0h4m3 0h8m14 0h3m-46 18h25m-373 7h3m292 7h3m25 0h22m14 0h7m-82 7h4m64 0h3m-359 11h4m302 0h21m18 0h4m-11 7h3m-362 7h7m281 0h3m-291 7h3m89 0h4m185 0h3m-14 11h3m-273 7h3m726 0h3m-729 7h4m309 0h11m384 0h3m-722 11h4m4 0h3m310 0h3m366 0h4m-384 7h3m1071 0h4m3 0h4m3 0h11m-1170 7h3m57 0h7m989 0h4m21 0h4m7 0h14m7 0h4m7 0h7m3 0h15m3 0h18m-1174 7h4m50 0h3m4 0h3m345 0h4m604 0h4m4 0h7m7 0h10m8 0h3m46 0h7m11 0h4m3 0h4m-1085 11h4m885 0h14m4 0h4m85 0h3m8 0h3m-686 7h3m616 0h7m7 0h3m4 0h3m-1045 7h3m50 0h4m828 0h4m-843 7h7m822 0h3m71 0h4m11 0h3m11 0h3m-999 11h4m49 0h7m306 0h4m459 0h3m7 0h11m78 0h4m7 0h4m-897 7h4m761 0h3m89 0h4m-132 7h4m92 0h11m-39 7h3m-135 11h7m72 0h7m3 0h7m-135 7h4m10 0h4m85 0h11m-832 7h3m43 0h4m650 0h4m68 0h10m-786 7h4m39 0h3m708 0h7m-771 11h3m36 0h3m605 0h3m64 0h4m4 0h7m-103 7h3m4 0h3m68 0h3m-725 7h7m35 0h4m622 0h4m-93 7h4m4 0h7m46 0h4m17 0h4m-110 11h3m46 0h15m-93 7h4m49 0h4m4 0h3m-85 7h3m43 0h14m-99 7h3m61 0h10m-590 11h4m480 0h10m43 0h11m-548 7h4m465 0h8m39 0h3m811 0h7m7 0h4m-1323 7h7m448 0h11m686 0h7m11 0h4m35 0h4m14 0h3m4 0h11m25 0h7m7 0h7m-1330 7h3m424 0h3m43 0h3m11 0h4m626 0h7m10 0h4m3 0h4m28 0h4m39 0h4m14 0h3m4 0h4m7 0h3m4 0h7m18 0h3m-1298 11h4m387 0h4m53 0h4m551 0h7m14 0h15m64 0h3m-1113 7h4m21 0h7m331 0h3m7 0h4m39 0h4m537 0h7m3 0h4m25 0h3m25 0h4m3 0h4m3 0h8m10 0h7m4 0h4m-1078 7h3m345 0h8m32 0h3m509 0h3m46 0h18m18 0h7m-1003 11h4m363 0h3m438 0h3m4 0h3m18 0h7m11 0h7m7 0h11m3 0h7m4 0h3m-874 7h3m256 0h11m42 0h4m7 0h4m409 0h18m3 0h4m25 0h7m-548 7h3m431 0h3m11 0h11m10 0h4m7 0h4m3 0h4m-754 7h3m658 0h7m4 0h3m11 0h4m10 0h4m7 0h4"/>
<path transform="translate(0,2)" stroke="#d20000" stroke-width="4" d="M618 106h11m-14 7h3m4 0h3m-14 14h7m7 0h4m-18 4h11m-206 7h3m7 0h4m188 0h4m-7 7h3m-206 7h4m192 4h7m-203 7h4m7 0h3m182 0h3m7 0h4m-7 7h3m-195 7h3m189 0h3m-206 7h4m192 0h3m4 0h7m-199 4h3m178 0h7m7 0h4m-213 7h3m-3 7h3m11 7h3m171 0h4m10 7h4m-11 4h4m3 0h7m-7 7h4m-196 7h4m174 0h4m3 0h4m3 0h4m-18 7h4m10 0h4m-210 7h4m184 0h4m11 0h7m-25 4h3m8 0h7m3 0h4m-210 7h4m184 0h4m7 0h4m-203 7h4m7 0h3m174 0h4m7 0h4m-18 7h3m4 7h4m3 0h4m-192 4h3m185 0h7m-28 14h3m-185 7h4m7 0h4m185 0h3m-192 7h4m163 0h7m-177 4h3m167 0h4m-4 7h4m-182 7h4m7 0h4m185 0h3m-195 7h3m164 0h3m14 0h4m-199 7h3m171 0h7m14 0h4m-199 4h3m8 0h3m-7 7h4m-11 7h3m-7 7h4m195 0h4m-192 7h4m156 0h4m-4 4h4m-164 7h4m156 0h4m14 0h7m-196 7h4m163 0h8m17 0h4m-185 7h4m152 0h4m18 4h3m-185 7h4m153 0h3m-170 7h3m7 0h4m174 0h4m839 0h4m-11 7h4m3 0h4m-1035 7h3m4 0h3m150 0h3m854 0h3m-1013 4h3m175 0h3m825 0h4m-7 7h3m-832 7h4m814 0h4m-850 7h3m22 0h3m815 0h3m-821 7h3m811 0h4m-1003 4h3m985 0h4m-836 7h4m21 0h4m796 0h4m-978 7h3m167 0h4m793 0h4m7 0h3m-835 7h3m811 0h4m-822 7h4m24 0h4m772 0h7m3 0h4m-971 4h4m149 0h4m796 0h4m3 0h7m-960 7h4m932 0h7m14 0h3m-818 7h4m21 0h4m750 0h7m-761 7h4m743 0h7m11 0h4m-797 7h3m769 0h7m14 0h4m-946 4h3m928 0h4m3 0h4m-942 7h3m4 0h3m135 0h4m761 0h4m-914 7h3m900 0h3m-17 7h3m18 0h4m3 0h4m-925 7h4m903 0h7m7 0h4m-32 4h7m7 0h7m-775 7h3m744 0h3m11 0h3m-903 7h4m3 0h4m864 0h3m8 0h7m7 0h3m-768 7h4m732 0h4m11 0h7m3 0h4m-889 7h3m843 0h4m3 0h7m7 0h4m-886 4h4m132 0h3m722 0h4m17 0h4m-878 7h3m832 0h4m3 0h11m11 0h3m-867 7h3m825 0h11m28 0h4m-879 7h4m4 0h3m818 0h4m28 0h4m-861 7h4m120 0h4m694 0h3m-825 4h4m810 0h4m28 0h4m4 0h7m-57 7h10m25 0h18m-736 7h3m669 0h4m10 0h4m25 0h10m-17 7h3m11 0h3m-729 4h4m704 0h11m-843 7h3m143 0h3m640 0h4m36 0h14m-843 7h3m118 0h3m641 0h7m3 0h7m-10 7h7m39 0h3m-682 7h3m619 0h4m7 0h3m29 0h3m4 0h7m-701 4h4m18 0h3m608 0h4m7 0h4m42 0h4m-697 7h3m22 0h3m601 0h11m43 0h3m4 0h7m-811 7h3m111 0h3m623 0h7m-754 7h3m114 0h7m18 0h4m594 0h10m-633 7h4m604 0h7m4 0h4m39 0h7m-669 4h4m611 0h4m39 0h7m-53 7h3m40 0h3m4 0h7m-783 7h4m103 0h7m18 0h3m573 0h7m4 0h3m36 0h3m4 0h4m-772 7h3m125 0h3m573 0h7m46 0h4m7 0h4m-779 7h3m132 0h3m566 0h3m43 0h4m-54 4h4m53 0h4m-754 7h3m103 0h4m21 0h4m555 0h3m47 0h7m-644 7h3m569 0h8m49 0h4m-633 7h3m562 0h4m57 0h3m-71 7h11m46 0h7m-629 4h3m562 0h4m-569 7h3m552 0h7m49 0h11m-75 7h8m49 0h4m-715 7h7m96 0h4m18 0h3m519 0h7m50 0h4m3 0h4m-615 7h3m18 0h4m512 0h7m-640 4h3m114 0h4m569 0h3m4 0h3m-708 7h8m89 0h3m594 0h4m-694 7h4m611 0h7m54 0h3m4 0h7m-694 7h4m114 0h3m498 0h4m35 0h8m3 0h7m4 0h7m-569 7h3m548 0h11m-680 4h4m256 0h4m341 0h4m49 7h11m-78 7h3m61 0h11m-559 7h4m473 0h3m61 0h3m-569 7h7m552 0h3m-562 4h4m18 0h3m519 0h4m7 0h11m-544 7h3m135 0h4m320 0h4m-473 7h3m455 0h4m64 0h3m-547 7h3m153 0h4m306 0h7m64 0h7m-526 7h3m441 0h4m57 0h3m4 0h7m-78 4h10m57 0h4m-537 7h3m18 0h4m430 0h3m61 0h3m8 0h3m-516 7h4m430 0h4m57 0h3m4 0h3m-508 7h3m128 0h4m299 0h3m61 0h3m-501 4h7m487 0h4m-78 7h3m61 0h3m-512 7h7m14 0h4m412 0h4m64 0h4m-513 14h4m416 0h7m68 0h3m-480 4h4m121 0h3m274 0h7m64 0h4m-356 7h4m338 0h3m-487 7h3m477 0h4m-82 7h3m-391 7h4m448 0h3m-341 4h3m296 0h10m4 0h3m4 0h14m-451 7h3m-21 7h3m121 0h4m252 0h7m-373 7h4m106 0h4m267 0h10m4 0h3m7 0h4m21 0h4m-455 7h3m18 0h4m412 0h4m-4 4h7m-430 7h3m107 0h4m298 7h4m-14 7h3m-306 7h4m292 0h3m-302 4h3m-124 7h4m14 0h3m100 0h3m232 0h3m18 0h4m3 0h7m18 0h4m-413 7h4m14 0h3m381 0h3m-409 7h4m14 0h4m309 0h7m-320 7h4m89 0h3m210 0h4m67 0h4m-82 4h3m65 0h3m-391 7h3m385 0h3m-380 7h3m89 0h4m266 0h7m-384 7h4m366 0h7m-380 11h3m363 0h7m-277 7h3m256 0h4m-267 7h4m188 0h4m50 0h7m3 0h4m-359 7h3m-3 7h3m89 0h4m-7 4h3m245 0h4m413 0h3m-761 7h4m7 0h3m256 0h4m-263 7h3m249 0h4m39 0h14m4 0h10m-74 7h3m36 0h10m4 0h11m-328 4h4m7 0h4m263 0h18m28 0h4m370 0h3m-693 7h3m238 0h4m-11 7h4m60 0h4m359 0h4m647 0h7m14 0h4m11 0h3m11 0h10m8 0h10m-1159 7h3m54 0h3m352 0h4m590 0h7m43 0h7m4 0h7m14 0h7m7 0h4m3 0h4m11 0h3m32 0h7m-1405 7h4m633 0h4m583 0h4m3 0h4m3 0h11m21 0h7m11 0h11m10 0h7m4 0h4m21 0h3m4 0h4m-157 4h4m10 0h7m47 0h7m18 0h3m4 0h7m14 0h4m-1324 7h4m213 0h4m928 0h7m8 0h10m64 0h4m14 0h7m-142 7h3m86 0h3m7 0h4m-132 7h4m92 0h4m4 0h3m-999 7h3m50 0h4m810 0h8m71 0h3m-110 4h7m86 0h3m-893 7h4m761 0h4m85 0h4m10 0h7m-939 7h4m53 0h4m736 0h4m3 0h4m85 0h4m7 0h3m-146 7h4m7 0h4m92 0h4m3 0h4m-868 7h7m11 0h3m4 0h7m701 0h7m89 0h3m-860 4h3m736 0h7m4 0h4m-715 7h3m4 0h3m673 0h7m78 0h3m4 0h4m-783 7h4m665 0h3m75 0h4m-808 7h4m42 0h4m640 0h4m74 0h11m-782 7h3m39 0h4m252 0h4m366 0h7m64 0h4m7 0h4m3 0h4m-768 4h3m658 0h11m74 0h4m-733 7h7m4 0h4m3 0h7m587 0h7m64 0h4m-676 7h4m-15 7h4m562 0h3m-572 7h3m609 0h3m-622 4h3m605 0h3m-654 7h4m554 0h4m-569 7h3m534 0h7m43 0h3m7 0h4m-598 7h4m4 0h10m7 0h4m484 0h7m35 0h7m7 0h4m-587 7h4m544 0h3m4 0h4m-566 4h7m214 0h3m327 0h4m-89 7h4m3 0h4m39 0h3m-81 7h7m46 0h7m736 0h4m14 0h11m7 0h3m15 0h7m17 0h4m14 0h7m4 0h11m-1341 7h3m402 0h4m39 0h7m4 0h7m658 0h7m3 0h7m4 0h11m10 0h4m18 0h7m21 0h7m4 0h3m15 0h7m7 0h3m11 0h21m-1301 7h10m384 0h8m24 0h8m3 0h4m611 0h4m7 0h7m7 0h4m99 0h4m-1220 4h4m28 0h4m380 0h7m39 0h8m579 0h4m21 0h4m82 0h14m-1007 7h4m195 0h4m4 0h7m35 0h7m7 0h4m4 0h3m537 0h4m7 0h10m25 0h7m36 0h4m7 0h7m7 0h4m-1078 7h3m377 0h11m509 0h3m11 0h11m3 0h7m14 0h4m11 0h7m3 0h4m11 0h3m-1028 7h4m25 0h3m306 0h11m35 0h8m490 0h4m32 0h3m15 0h3m4 0h3m-921 4h4m284 0h4m57 0h3m445 0h7m14 0h7m32 0h7m11 0h4m-914 7h3m22 0h7m273 0h8m46 0h3m420 0h7m4 0h3m18 0h4m7 0h3m4 0h14m7 0h7m-839 7h4m252 0h4m3 0h4m28 0h4m7 0h7m398 0h15m3 0h7m7 0h7m8 0h3m-526 7h3m4 0h7m39 0h4m373 0h4m39 0h3"/>
<path transform="translate(0,1.5)" stroke="#ecff00" stroke-width="3" d="M633 160h3m-46 46h3m32 0h4m-231 39h3m-3 11h3m1192 0h3m-978 7h4m953 0h4m3 0h4m-46 7h3m11 0h3m4 0h3m18 7h7m-49 11h3m7 0h4m-39 7h3m4 0h3m57 0h4m-1014 7h4m35 0h4m949 0h4m4 0h3m4 0h3m-82 7h4m60 0h4m11 0h3m-1163 11h4m185 0h3m872 0h3m54 0h3m4 0h3m4 0h3m4 0h3m-1173 7h3m1082 0h10m61 7h3m-96 7h4m82 0h3m-1127 11h3m1121 0h3m-1127 7h3m182 7h3m925 0h3m-978 18h4m853 0h4m103 0h4m3 0h4m-128 7h3m104 0h3m-114 7h7m96 0h4m-14 11h3m-946 7h4m932 0h3m-121 7h7m93 18h3m-135 14h7m93 7h3m-665 18h4m-4 7h4m523 0h3m-736 18h4m188 0h4m3 0h4m-246 7h4m35 7h4m814 0h4m-868 18h4m39 0h3m690 0h4m-512 7h3m609 0h3m-117 7h3m103 0h4m-124 7h3m4 0h3m-690 11h4m192 0h3m587 0h4m-946 7h3m107 7h4m217 7h3m7 0h4m576 0h3m-145 25h3m107 0h3m-796 18h3m39 0h4m608 7h7m111 0h3m-565 7h3m-11 11h4m7 0h4m409 7h7m-601 7h3m587 0h4m114 0h3m-544 18h3m523 0h4m-14 7h3m-128 7h4m110 7h4m-22 11h4m-808 14h4m661 7h8m-545 11h4m-135 7h3m762 0h3m-683 7h4m35 7h4m-50 18h4m39 0h3m498 0h4m-633 7h3m726 0h3m-611 7h3m487 0h4m110 0h4m-651 11h4m35 0h4m590 0h4m-15 14h4m-466 18h4m423 14h3m-10 7h3m-124 11h3m100 7h3m-174 57h4m-399 7h4m-46 18h3m402 7h4m74 25h4m-117 7h3m-242 14h4m302 18h4m498 14h3m-967 11h3m922 7h7m-32 7h3m14 0h4m-797 7h4m733 11h7m14 0h3m-789 7h3m-110 7h4m821 7h4m-832 11h3m786 7h4m-423 7h3m-11 7h4m366 11h4m21 0h4m-47 7h4m7 7h4m-402 11h3m989 0h4m21 0h4m-1032 7h4m956 0h4m-1060 7h4m402 7h3m559 0h3m4 0h3m-1198 11h3m601 0h4m523 0h3m210 0h4m-264 7h4m199 0h4m-1242 7h4m7 0h4m124 0h4m405 0h4m462 0h4m-886 7h4m1020 0h7m-650 11h3m413 0h3m111 14h3m-878 18h3m608 7h4m-804 7h4m402 0h3m-416 7h4m892 0h7m4 0h3m-110 25h4m-736 7h3m-14 11h3m641 7h3m-601 7h4m174 0h3m-248 7h3m245 0h4m356 0h7m661 11h4m-1071 7h4m-18 7h4m896 0h4m-922 7h4m309 0h4m544 0h4m284 0h4m-1370 11h4m174 0h4m775 0h4m266 0h4m7 0h7m-1081 7h4m163 0h4m3 0h4m544 0h4m241 0h4m-971 7h4m270 0h3m377 0h4m224 0h11m3 0h4m-793 11h3m644 0h4m17 0h4m-82 7h4m-221 7h4m146 0h3m-491 7h4m281 0h3m4 0h3m136 0h3m14 0h4"/>
<path transform="translate(0,2)" stroke="#ecff00" stroke-width="4" d="M437 106h4m163 0h4m-203 39h4m24 0h4m-32 7h4m21 50h3m-32 7h4m220 0h4m-203 39h4m1177 0h4m-11 4h4m-36 7h4m-11 7h3m4 7h7m4 0h14m-1017 7h3m953 0h4m4 0h3m11 0h3m15 0h3m-39 4h4m32 0h7m-1003 7h3m939 0h11m46 0h4m-1156 7h3m1089 0h3m7 0h4m-957 7h4m932 0h3m53 0h4m-82 7h4m3 0h4m3 0h4m11 0h3m36 0h3m4 0h3m4 0h4m-82 4h3m68 0h3m-81 7h3m61 0h3m-3 7h3m-85 7h3m75 7h4m-96 4h3m86 0h3m7 0h4m-110 7h3m85 0h8m-96 7h3m-18 7h4m75 0h3m-92 7h3m93 0h7m-7 4h10m-1113 14h4m135 7h3m836 0h4m110 0h4m-918 11h3m893 0h4m0 7h3m-21 7h11m-11 7h4m-1096 4h4m402 0h3m679 0h4m-893 14h4m761 0h3m-24 14h3m-949 4h3m196 0h3m196 0h3m545 0h3m103 0h4m-132 14h7m111 0h3m-853 7h3m836 0h3m-120 7h3m-11 4h8m106 0h4m-647 7h3m630 0h7m-640 7h3m-363 7h4m121 0h3m854 0h7m-11 7h4m-982 11h4m156 0h4m800 0h4m-15 14h4m-985 18h3m178 0h4m178 0h3m-366 7h3m833 7h3m107 0h3m-775 7h4m647 0h4m-477 4h4m465 0h4m-697 7h3m217 0h4m573 0h3m-583 7h3m459 0h4m106 0h4m-569 7h4m437 7h4m106 0h7m-124 4h3m111 0h3m-572 14h3m-7 7h4m554 0h4m-139 18h4m-601 7h3m701 0h4m-132 11h4m-8 7h4m-622 7h3m715 7h4m-132 11h7m-605 7h4m188 0h4m-160 7h4m149 0h3m8 0h3m381 0h3m-10 7h7m-402 7h3m491 4h4m-651 14h3m-135 18h4m82 0h3m544 0h4m-11 7h4m107 0h3m-743 14h3m114 18h4m476 0h4m110 0h4m-139 21h3m-512 4h4m615 0h4m-15 7h4m-576 7h3m125 0h3m434 0h4m-121 7h4m-317 11h4m291 7h4m106 0h4m-430 7h3m11 0h3m-7 7h4m-7 7h3m392 0h3m-572 11h3m32 0h4m409 0h3m110 0h4m-18 7h4m-29 25h4m-384 14h3m-21 11h4m-8 7h4m-7 7h3m-21 32h4m-135 7h3m142 0h4m-21 4h3m331 7h3m-348 14h3m324 0h4m526 0h4m-18 7h3m-533 4h3m516 0h4m-847 7h4m14 0h4m793 0h3m7 0h4m-39 7h3m11 0h4m-505 7h3m470 0h3m18 0h3m-14 7h4m-39 4h3m-565 7h3m541 0h3m-17 7h3m-18 7h4m4 7h3m-35 4h3m-704 7h3m708 0h4m-552 14h4m-285 7h4m89 0h4m636 11h4m675 14h4m-1398 4h4m1373 0h3m-729 7h4m25 0h3m598 0h3m-1230 7h3m576 0h7m-437 7h4m992 0h3m-1145 7h4m1070 4h7m-956 14h3m384 0h4m25 0h3m470 0h3m143 7h3m4 0h3m-665 7h7m-537 4h4m953 0h4m-40 7h4m4 0h3m-740 14h4m288 0h4m-306 7h7m-196 4h4m996 0h3m-1003 7h4m779 7h3m150 0h3m-953 7h4m430 0h3m-21 7h4m473 0h3m-900 18h4m661 7h4m-679 11h3m751 0h7m-32 7h3m-153 7h4m-28 7h3m-260 7h4m231 0h4m103 0h7m747 4h3m-910 7h4m803 0h4m7 0h4m-758 14h4m-132 7h4m618 0h4m7 0h4m-669 4h7m605 0h3m-811 7h4m164 0h3m117 0h4m445 0h3m274 0h4m-111 7h4m7 0h4m-317 7h7m203 0h3m4 0h3m4 0h4m7 0h3m-740 4h4m107 0h3m367 0h3m-654 7h3m754 0h4m21 0h4m-82 7h4m-54 7h4"/>
<path transform="translate(0,1.5)" stroke="#f00000" stroke-width="3" d="M430 103h3m192 7h4m-217 7h7m196 0h3m-206 7h7m192 0h7m4 0h3m4 0h4m-221 11h4m206 0h3m-213 7h4m192 7h3m7 0h7m-199 11h4m178 0h7m-189 7h4m174 0h7m7 0h4m-213 7h7m192 0h3m4 7h3m-195 11h3m192 0h4m-199 7h3m189 0h3m-21 14h4m14 0h3m-199 11h4m174 0h4m-182 7h4m174 0h4m10 0h7m-199 7h4m178 0h3m-185 7h4m-18 11h4m7 0h3m174 0h4m14 0h4m-25 7h3m-7 7h4m18 0h3m-25 7h4m18 0h3m-210 11h4m178 0h3m22 0h3m-7 7h4m-25 7h3m-185 7h4m-7 11h3m-3 7h7m171 0h3m18 0h7m-206 7h3m175 0h3m-170 25h7m153 0h3m914 0h4m-1096 7h4m11 0h3m157 0h3m18 0h7m889 0h4m-1081 7h3m153 0h4m-175 11h4m192 0h3m-202 14h3m11 0h4m149 0h7m-174 11h3m189 0h7m-189 7h4m149 0h4m857 0h4m7 0h3m-850 7h7m836 0h4m-1039 7h4m1017 0h3m-1010 11h4m171 0h3m804 0h4m14 0h3m11 0h4m-1021 7h3m978 0h4m4 0h7m7 0h3m-860 7h3m825 0h4m11 0h3m-1006 7h3m182 0h7m779 0h3m11 0h3m22 0h3m-1003 11h4m964 0h3m-828 7h3m25 0h4m782 0h14m4 0h7m-985 7h3m946 0h4m3 0h8m7 0h3m-985 7h4m149 0h4m782 0h4m39 0h3m-807 11h3m-174 7h4m167 0h3m747 0h4m11 0h3m14 0h4m11 0h3m-981 7h3m7 0h4m163 0h4m754 0h11m7 0h10m7 0h4m-974 7h3m7 0h4m135 0h3m772 0h7m11 0h4m-801 11h4m25 0h3m729 0h8m21 0h11m-776 7h4m725 0h4m7 0h4m10 0h14m-938 7h3m4 0h3m886 0h10m11 0h11m-932 7h4m7 0h3m128 0h4m740 0h21m7 0h4m7 0h7m-932 11h4m135 0h3m740 0h11m10 0h11m-914 7h4m3 0h4m885 0h4m-36 7h11m18 0h10m-49 7h3m7 0h4m14 0h11m-54 11h11m28 0h11m-733 7h4m683 0h3m22 0h7m3 0h4m-886 7h4m822 0h3m7 0h4m-712 7h4m697 0h4m25 0h3m4 0h3m4 0h3m-878 11h3m4 0h7m797 0h7m46 0h4m-740 7h3m207 0h3m456 0h3m53 0h8m-854 7h4m113 0h4m665 0h7m50 0h3m-853 11h3m4 0h4m771 0h7m43 0h4m3 0h7m-722 7h4m644 0h7m57 0h7m-847 7h4m3 0h4m758 0h10m50 0h4m3 0h4m-833 7h4m750 0h8m49 0h4m-822 11h4m811 0h3m-700 7h3m22 0h3m598 0h3m50 0h4m3 0h4m-811 7h3m4 0h3m786 0h4m-686 7h3m25 0h4m586 0h11m53 0h4m-686 11h3m608 0h4m-18 7h4m3 0h4m57 0h3m-78 7h3m50 0h4m-765 7h4m3 0h4m99 0h4m590 0h4m64 0h4m-669 11h3m25 0h4m551 0h4m53 0h4m-754 7h3m4 0h3m100 0h3m573 0h4m57 0h7m-747 7h3m669 0h3m61 0h4m-740 7h3m669 0h3m47 0h3m7 0h4m-740 11h4m96 0h3m25 0h4m590 0h4m-733 7h4m3 0h4m121 0h3m516 0h3m68 0h7m-629 7h7m537 0h3m7 0h4m53 0h15m-722 7h3m697 0h7m-615 11h4m530 0h3m64 0h4m-701 7h7m683 0h7m-701 7h4m263 0h4m-267 7h4m256 0h3m342 0h7m-616 11h4m85 0h4m167 0h4m334 0h4m3 0h4m32 0h3m22 0h7m-587 7h3m168 0h3m331 0h7m68 0h3m-85 7h3m-483 18h3m459 0h4m53 0h3m8 0h3m4 0h3m-405 7h3m-7 7h7m-7 7h4m302 0h4m-452 11h4m131 0h4m298 0h4m68 0h3m-380 7h3m-135 7h4m419 0h4m74 0h4m-384 11h3m338 0h11m21 0h4m-526 7h3m142 0h4m284 0h4m-14 7h7m71 0h4m-491 7h3m473 0h4m-89 11h7m68 0h3m4 0h3m-362 7h3m267 0h7m-21 14h3m-270 11h3m303 0h3m-426 7h3m110 0h4m245 0h11m68 0h3m-466 7h4m18 0h3m107 0h3m-142 18h4m17 0h4m107 0h3m231 0h4m71 0h7m-18 7h8m-420 7h3m335 0h3m-362 7h3m345 0h4m67 0h7m-306 11h4m281 7h4m-299 7h3m214 0h3m36 0h3m25 0h4m-295 7h7m-121 11h3m317 0h3m65 0h3m-288 7h7m203 0h3m64 0h4m-281 7h4m195 0h4m71 0h3m-281 7h4m-14 18h3m-89 7h4m327 7h4m419 0h4m-779 11h4m10 0h4m733 0h7m-491 7h3m-10 7h3m-18 11h4m64 0h4m373 0h4m-452 7h3m64 0h4m359 0h4m647 0h11m21 0h7m7 0h11m4 0h3m18 0h3m4 0h4m-121 7h3m4 0h3m36 0h7m60 0h8m-1416 7h4m224 0h3m57 0h4m946 0h3m22 0h7m64 0h3m22 0h3m-1362 11h4m273 0h4m338 0h3m562 0h4m75 0h7m14 0h4m3 0h4m3 0h4m-1096 7h4m57 0h3m861 0h7m110 0h11m-1060 7h4m60 0h4m323 0h4m498 0h11m96 0h3m11 0h11m-157 7h11m78 0h4m14 0h7m-626 11h3m459 0h7m-850 7h4m359 0h4m437 0h4m3 0h7m93 0h3m8 0h3m7 0h4m-943 7h7m50 0h7m292 0h3m424 0h7m-740 7h4m288 0h3m409 0h4m3 0h4m103 0h4m-1003 11h3m167 0h4m270 0h7m395 0h4m3 0h4m89 0h3m11 0h3m-803 7h7m750 0h7m-771 7h7m725 0h4m3 0h4m-800 7h3m46 0h8m622 0h4m85 0h3m-782 11h4m42 0h4m597 0h4m71 0h4m-730 7h4m39 0h4m583 0h4m71 0h7m3 0h4m-683 7h4m558 0h3m75 0h4m3 0h4m-114 7h4m67 0h4m-672 11h3m32 0h7m519 0h4m-537 7h4m501 0h4m53 0h3m-78 7h4m-310 7h4m270 0h11m-50 11h4m-488 7h4m32 0h4m423 0h10m790 0h4m14 0h10m4 0h11m14 0h3m29 0h3m-1358 7h3m438 0h3m57 0h4m3 0h4m640 0h7m32 0h4m3 0h4m4 0h17m22 0h14m53 0h4m14 0h14m-1355 7h4m469 0h4m3 0h7m623 0h3m128 0h4m7 0h4m3 0h4m10 0h4m4 0h7m-1266 11h7m348 0h7m605 0h3m22 0h3m86 0h3m4 0h7m14 0h4m3 0h7m-1127 7h4m323 0h4m3 0h4m53 0h4m3 0h4m505 0h3m8 0h7m14 0h7m50 0h3m15 0h7m25 0h3m18 0h4m-1082 7h7m296 0h3m11 0h3m548 0h4m3 0h7m57 0h7m7 0h4m25 0h3m-992 11h4m270 0h11m459 0h7m28 0h4m49 0h4m11 0h3m18 0h4m-879 7h4m249 0h3m57 0h7m4 0h3m7 0h4m384 0h4m25 0h3m36 0h3m-555 7h4m46 0h4m3 0h7m363 0h4m17 0h4m25 0h7m4 0h3m4 0h7m-754 7h3m224 0h4m53 0h4m348 0h11m53 0h4"/>
<path transform="translate(0,2)" stroke="#f00000" stroke-width="4" d="M430 106h3m182 0h3m-192 7h4m195 0h4m-217 7h7m7 0h4m192 0h7m-213 7h3m199 0h7m0 4h4m-7 7h3m-199 7h4m188 0h7m-17 7h3m7 0h4m-210 4h4m10 0h4m188 0h4m-196 7h4m181 0h4m-206 7h3m192 0h7m7 0h4m-213 7h3m192 0h7m-202 7h3m11 0h3m178 0h4m-199 4h3m189 0h3m-181 7h3m175 0h3m14 0h4m-7 7h3m-209 7h3m7 0h4m174 7h4m14 0h3m-21 4h4m-196 7h4m10 0h4m174 0h4m17 0h4m-21 7h3m-185 7h4m170 0h4m-196 11h8m7 0h3m174 0h4m-7 14h3m15 7h3m-195 7h3m167 0h4m-189 4h4m181 0h4m-189 7h4m11 0h3m164 0h3m18 7h4m-192 7h3m-18 7h4m196 0h3m-203 4h4m196 0h3m-203 7h4m171 0h3m-3 7h3m-181 7h3m196 0h4m-192 18h3m-3 7h3m157 0h3m-7 7h4m903 0h4m-1067 7h3m178 0h7m871 0h4m-1078 4h4m7 0h4m181 0h3m-199 7h4m160 14h3m25 0h4m-185 4h4m149 0h3m872 0h3m-882 7h4m25 0h3m843 0h4m-850 7h3m840 0h3m-1042 7h4m10 0h4m146 0h3m857 0h4m4 0h3m-1021 7h4m1006 0h4m-18 4h7m-7 7h4m-857 7h3m829 0h3m4 0h4m-815 7h4m-192 7h3m982 0h3m4 0h7m4 0h3m-996 4h4m960 0h4m14 0h3m-17 7h3m4 0h3m-978 7h4m139 0h3m800 0h4m3 0h4m-971 7h4m7 0h3m943 0h3m4 0h3m11 0h4m3 0h4m-989 7h4m7 0h3m939 0h4m14 0h4m-964 4h3m932 0h7m4 0h3m7 0h11m-981 7h3m11 0h3m135 0h4m21 0h4m757 0h8m10 0h11m-967 7h3m7 0h4m910 0h4m18 0h3m4 0h10m-963 7h3m914 0h4m10 0h4m3 0h4m11 0h7m-960 7h3m171 0h3m737 0h7m25 0h3m-804 4h4m25 0h3m726 0h11m7 0h7m7 0h3m4 0h4m3 0h4m-943 7h4m156 0h4m729 0h7m18 0h10m8 0h3m-942 7h7m128 0h3m25 0h4m736 0h7m4 0h3m4 0h7m-928 7h3m128 0h4m750 0h7m25 0h4m-921 7h3m128 0h4m21 0h4m715 0h3m4 0h3m4 0h3m11 0h7m-32 4h4m21 0h4m3 0h4m-925 7h4m163 0h4m704 0h3m25 0h7m-775 7h4m25 0h3m704 0h4m-25 7h4m3 0h7m4 0h3m4 0h11m7 0h3m-889 7h4m121 0h3m715 0h7m4 0h3m18 0h11m3 0h7m-57 4h4m32 0h4m3 0h4m-897 7h4m843 0h3m29 0h11m-890 7h4m829 0h3m36 0h3m4 0h3m-60 7h4m42 0h4m-875 7h3m8 0h3m142 0h4m661 0h8m-829 4h3m128 0h4m21 0h7m651 0h7m47 0h3m-864 7h7m114 0h3m207 0h3m463 0h7m53 0h4m-868 7h3m150 0h3m648 0h7m-811 7h3m4 0h4m113 0h4m658 0h7m46 0h4m10 0h4m-861 4h7m146 0h4m636 0h4m36 0h3m11 0h3m-839 7h4m316 0h4m444 0h4m3 0h7m-786 7h4m117 0h4m697 0h11m-840 7h4m3 0h4m110 0h4m25 0h3m612 0h11m49 0h8m-712 7h4m21 0h4m608 0h3m50 0h4m7 0h3m-825 4h4m142 0h4m170 0h4m434 0h7m50 0h7m-18 7h4m-11 7h4m3 0h4m-75 7h4m53 0h7m-804 7h4m142 0h4m579 4h4m53 0h11m-75 7h7m50 7h4m-783 7h4m3 0h4m747 0h3m7 0h4m-662 7h4m594 0h3m-714 4h7m3 0h4m99 0h4m21 0h4m156 0h4m395 0h3m-700 7h3m292 0h3m395 0h4m-697 7h3m4 0h3m125 0h3m609 0h7m-754 7h3m103 0h4m558 0h4m7 0h3m50 0h4m3 0h4m-747 7h4m103 0h3m25 0h4m597 0h4m-733 4h4m658 0h3m61 0h3m-729 7h4m658 0h3m57 0h4m-733 7h4m99 0h4m25 0h3m516 0h3m61 0h7m-445 7h4m363 0h3m68 0h3m-714 7h3m118 0h3m505 0h4m64 0h7m-712 4h4m633 0h7m57 0h4m3 0h4m-612 7h4m21 0h4m494 0h3m72 0h3m-701 7h4m117 0h4m569 0h4m-605 7h4m170 0h4m395 0h3m7 0h4m-587 7h4m512 0h3m68 0h3m-594 4h4m580 0h7m-680 7h4m85 0h4m21 0h4m139 0h3m409 0h4m-562 7h3m473 0h4m-505 7h3m491 0h4m71 0h3m-554 7h7m138 0h4m320 0h7m64 0h4m3 0h4m-25 4h7m-75 7h4m75 0h3m-565 7h3m18 0h4m135 0h3m310 0h3m71 0h8m-559 7h4m21 0h4m135 0h3m381 0h3m-551 7h4m153 4h3m377 0h4m-391 7h7m366 0h4m-534 7h4m21 0h4m497 0h4m-509 7h4m128 0h4m281 0h3m4 0h3m-451 4h3m146 0h3m292 0h4m71 0h3m-522 7h3m146 0h3m285 0h4m71 0h3m-373 14h3m278 0h3m71 0h4m-487 7h3m473 0h4m-14 4h3m4 0h3m-480 7h4m387 0h8m-424 7h4m405 0h7m-416 7h4m18 0h3m377 0h4m71 0h3m-483 11h3m18 0h4m370 0h3m46 0h4m3 0h4m18 0h3m-476 7h3m-7 7h4m377 0h3m-252 7h3m274 0h4m3 0h7m29 0h7m-331 7h4m238 0h4m71 0h7m-327 4h3m-135 7h4m434 0h7m-320 7h7m224 0h3m-238 7h4m298 0h4m3 0h4m-437 7h3m14 0h4m327 0h4m67 0h4m-303 4h4m292 0h3m-85 7h7m18 0h14m4 0h3m32 0h4m-306 7h7m284 0h4m-299 7h4m281 0h3m-405 7h3m15 0h3m381 0h3m-387 4h3m93 0h3m206 0h4m64 0h7m-384 7h4m89 0h3m274 0h4m-392 7h4m14 0h4m291 0h4m-302 7h3m85 0h4m-7 7h3m264 0h3m-274 4h7m257 0h3m-21 14h3m-338 7h4m71 0h4m185 0h7m64 0h3m-341 7h3m72 0h3m249 4h4m-335 7h4m249 0h3m68 0h3m402 0h4m-427 7h4m10 0h4m388 0h7m-737 7h4m82 0h3m224 0h4m11 0h3m363 4h4m-619 7h3m235 0h4m1067 0h7m10 0h7m-1404 7h3m299 0h3m1003 0h4m11 0h10m4 0h3m4 0h4m42 0h18m-1412 7h4m291 0h4m345 0h3m601 0h4m11 0h3m11 0h7m4 0h3m7 0h4m28 0h7m32 0h25m7 0h4m-1337 7h3m153 0h4m60 0h7m911 0h14m78 0h7m15 0h10m7 0h4m3 0h4m4 0h3m14 0h4m-1152 4h3m57 0h7m338 0h7m541 0h10m107 0h4m14 0h3m-1248 7h4m209 0h4m861 0h3m7 0h8m99 0h18m-1010 7h3m843 0h4m103 0h4m-1028 7h3m57 0h4m814 0h4m7 0h3m107 0h4m-1146 7h4m199 0h4m306 0h7m469 0h4m7 0h3m4 0h3m82 0h7m4 0h4m-975 4h7m57 0h4m768 0h10m107 0h11m-968 7h4m814 0h4m4 0h7m99 0h7m-953 7h4m57 0h3m295 0h8m537 0h7m3 0h4m-864 7h3m822 0h3m4 0h3m11 0h4m-911 7h4m28 0h11m3 0h4m701 0h7m99 0h7m-814 4h7m686 0h4m4 0h3m-50 7h4m107 0h3m-131 7h10m78 0h4m-121 7h4m-694 7h4m665 0h3m93 0h3m-736 4h4m3 0h14m239 0h3m4 0h3m349 0h7m89 0h4m-762 7h4m28 0h4m4 0h3m242 0h4m426 0h7m-729 7h4m697 0h4m-669 7h3m548 0h7m-604 7h3m580 0h3m68 0h4m-623 4h4m519 0h4m81 0h4m-622 7h7m512 0h3m64 0h7m-640 7h4m35 0h8m-36 7h4m216 0h4m281 0h4m-491 7h3m185 0h4m270 0h4m57 0h7m-576 4h3m36 0h7m512 0h3m-565 7h4m32 0h3m174 0h4m260 0h3m854 0h3m7 0h4m-1355 7h3m36 0h4m163 0h4m238 0h4m7 0h3m50 0h4m736 0h3m7 0h4m-1273 7h3m438 0h3m43 0h4m654 0h7m21 0h4m11 0h10m86 0h7m35 0h4m-1334 7h4m469 0h4m601 0h3m4 0h7m103 0h4m3 0h4m25 0h3m4 0h3m-1212 4h3m367 0h10m637 0h21m100 0h3m15 0h3m-832 7h3m4 0h4m60 0h4m3 0h4m522 0h11m4 0h7m10 0h8m67 0h4m18 0h7m3 0h4m3 0h4m-1128 7h4m28 0h4m128 0h4m188 0h11m53 0h7m480 0h4m21 0h11m64 0h3m4 0h4m3 0h7m-1038 7h3m32 0h4m288 0h3m75 0h4m455 0h4m10 0h7m39 0h15m14 0h3m11 0h11m-982 4h4m309 0h4m71 0h7m4 0h3m420 0h7m14 0h7m7 0h4m43 0h3m4 0h3m22 0h7m-950 7h4m32 0h3m260 0h3m4 0h3m68 0h4m398 0h7m46 0h4m14 0h7m-828 7h3m253 0h3m57 0h11m377 0h3m39 0h8m3 0h7m11 0h3m-551 7h4m57 0h3m352 0h4m7 0h7m7 0h4m35 0h7"/>
<path transform="translate(0,1.5)" stroke="#ff0000" stroke-width="3" d="M412 103h4m17 0h4m171 0h10m11 0h7m-224 7h4m17 0h4m171 0h7m14 0h7m-206 7h7m171 0h7m3 0h4m3 0h11m-206 7h3m175 0h3m22 0h3m-203 11h4m167 0h7m14 0h4m-220 7h3m18 0h3m171 0h7m11 0h11m-224 7h7m10 0h7m171 0h4m17 0h8m-224 11h3m18 0h3m168 0h7m14 0h7m-224 7h7m18 0h3m168 0h3m18 0h7m-224 7h4m17 0h4m171 0h3m18 0h7m-220 7h3m185 0h11m14 0h7m-224 11h7m14 0h4m163 0h8m21 0h3m-220 7h4m17 0h4m167 0h4m17 0h7m-220 7h4m17 0h4m163 0h4m21 0h7m-220 7h4m14 0h7m160 0h7m21 0h7m-224 11h8m14 0h3m164 0h7m21 0h4m-217 7h4m14 0h7m160 0h7m21 0h4m-221 7h8m14 0h3m164 0h7m18 0h7m-221 7h4m18 0h3m164 0h3m22 0h3m-217 11h4m14 0h7m160 0h4m25 0h3m-217 7h4m14 0h4m163 0h4m21 0h7m-217 7h4m14 0h7m157 0h3m25 0h4m-217 7h7m14 0h4m188 0h4m-217 11h3m18 0h4m156 0h4m21 0h4m3 0h4m-199 7h3m160 0h4m25 0h7m-217 7h3m15 0h3m157 0h7m25 0h3m932 0h4m-1149 7h3m15 0h3m153 0h7m25 0h7m-199 11h7m153 0h7m22 0h7m900 0h3m11 0h3m-1131 7h4m14 0h4m156 0h4m28 0h4m907 0h3m-1124 7h4m14 0h4m153 0h7m21 0h4m892 0h4m7 0h11m3 0h4m-1128 7h7m11 0h4m153 0h7m21 0h7m872 0h3m7 0h18m4 0h17m-1131 11h4m14 0h4m149 0h7m25 0h4m871 0h43m3 0h7m-1131 7h4m167 0h4m24 0h8m864 0h21m4 0h18m7 0h3m-1106 7h4m149 0h4m889 0h28m4 0h7m3 0h4m-1113 7h3m18 0h4m145 0h4m886 0h3m4 0h32m7 0h3m-1109 11h3m15 0h7m145 0h4m28 0h4m839 0h54m-1099 7h7m11 0h7m142 0h3m29 0h3m829 0h64m-1077 7h3m178 0h3m818 0h11m4 0h50m-1089 11h4m163 0h4m32 0h3m801 0h3m7 0h64m4 0h4m-1089 7h4m14 0h4m177 0h4m804 0h21m4 0h7m3 0h36m-1078 7h4m10 0h8m142 0h3m829 0h39m4 0h28m-1070 7h3m14 0h4m174 0h7m790 0h32m3 0h36m-1063 11h3m157 0h3m32 0h4m782 0h7m4 0h7m4 0h14m3 0h11m4 0h17m8 0h3m-1063 7h3m14 0h4m139 0h3m29 0h3m776 0h7m3 0h14m4 0h4m7 0h7m3 0h29m-1049 7h3m153 0h4m28 0h7m776 0h17m7 0h4m11 0h21m7 0h4m7 0h3m-1056 7h4m14 0h7m135 0h4m793 0h18m3 0h11m3 0h7m4 0h11m3 0h18m4 0h3m-1042 11h7m11 0h3m132 0h11m25 0h7m754 0h3m4 0h21m7 0h4m7 0h32m-1031 7h7m10 0h7m132 0h4m32 0h3m751 0h28m25 0h25m3 0h4m-1028 7h4m10 0h4m135 0h4m28 0h7m736 0h4m7 0h21m25 0h32m-1020 7h3m11 0h7m131 0h4m32 0h4m739 0h11m4 0h17m15 0h7m3 0h25m-1013 11h3m14 0h4m131 0h4m28 0h4m733 0h28m18 0h32m-999 7h3m11 0h3m132 0h3m32 0h4m722 0h21m4 0h3m29 0h11m3 0h11m-996 7h4m14 0h3m132 0h3m29 0h3m719 0h28m32 0h7m4 0h18m-996 7h4m14 0h3m125 0h7m32 0h3m712 0h21m4 0h3m22 0h32m3 0h4m-993 11h8m10 0h4m128 0h3m740 0h7m4 0h10m18 0h4m18 0h32m-982 7h4m10 0h4m128 0h3m29 0h3m192 0h4m509 0h17m4 0h3m32 0h32m-974 7h4m10 0h4m124 0h4m28 0h7m189 0h7m501 0h22m32 0h32m-968 7h4m14 0h4m117 0h4m32 0h7m192 0h3m498 0h15m46 0h21m-957 11h4m11 0h7m153 0h3m680 0h28m32 0h28m-946 7h4m11 0h3m118 0h7m28 0h4m188 0h4m487 0h21m4 0h3m25 0h32m4 0h3m-946 7h4m11 0h3m118 0h3m29 0h7m185 0h7m480 0h3m4 0h14m39 0h22m-929 7h4m11 0h3m114 0h7m29 0h3m185 0h7m477 0h18m39 0h28m-928 11h3m11 0h7m114 0h4m28 0h4m181 0h7m473 0h14m36 0h3m11 0h18m-914 7h7m7 0h7m146 0h4m181 0h4m462 0h7m4 0h17m43 0h25m-914 7h3m11 0h4m145 0h4m181 0h8m458 0h15m3 0h7m43 0h18m-904 7h7m11 0h4m110 0h3m32 0h4m178 0h7m459 0h18m42 0h4m3 0h15m-897 11h4m156 0h7m175 0h7m448 0h18m50 0h3m4 0h21m-893 7h7m11 0h4m106 0h4m28 0h7m171 0h4m451 0h8m3 0h7m54 0h14m3 0h4m-886 7h4m11 0h3m139 0h7m174 0h4m441 0h14m50 0h3m7 0h25m-882 11h4m11 0h3m107 0h3m25 0h7m171 0h7m434 0h14m64 0h15m-868 7h7m7 0h4m110 0h3m25 0h7m167 0h8m430 0h11m71 0h18m-868 7h3m11 0h4m106 0h4m28 0h4m170 0h4m423 0h15m64 0h3m4 0h17m-860 7h3m11 0h4m103 0h3m29 0h3m167 0h11m420 0h10m61 0h3m4 0h21m-853 11h3m7 0h4m103 0h7m25 0h4m167 0h7m413 0h17m64 0h22m-847 7h7m7 0h4m103 0h4m28 0h4m163 0h7m413 0h11m67 0h22m-826 7h4m103 0h4m25 0h3m164 0h7m409 0h14m61 0h24m-832 7h4m7 0h7m132 0h3m160 0h7m402 0h14m57 0h7m4 0h18m-822 11h4m7 0h3m100 0h4m28 0h4m156 0h7m398 0h4m4 0h10m61 0h18m3 0h4m-818 7h3m11 0h3m100 0h4m24 0h4m160 0h4m394 0h11m4 0h3m57 0h4m3 0h18m-807 7h3m11 0h3m128 0h4m153 0h11m387 0h11m64 0h25m-804 7h7m11 0h3m125 0h7m153 0h3m385 0h14m67 0h4m4 0h10m-793 11h4m10 0h4m128 0h3m153 0h4m380 0h11m4 0h3m57 0h22m-783 7h4m10 0h4m92 0h4m28 0h4m153 0h3m374 0h3m4 0h7m71 0h11m-772 7h4m10 0h4m89 0h7m25 0h3m153 0h4m370 0h14m68 0h17m-768 7h4m103 0h3m29 0h3m150 0h3m367 0h17m57 0h7m4 0h11m-762 11h8m7 0h3m89 0h4m174 0h11m355 0h4m3 0h15m64 0h14m-751 7h4m103 0h4m28 0h4m142 0h11m352 0h7m3 0h4m60 0h4m7 0h14m-747 7h4m7 0h4m121 0h3m142 0h4m356 0h7m3 0h4m75 0h3m4 0h7m-744 7h4m7 0h4m117 0h4m142 0h7m349 0h14m67 0h15m-722 11h3m86 0h3m29 0h3m139 0h10m342 0h11m71 0h17m-629 7h4m28 0h4m138 0h11m338 0h10m75 0h18m-711 7h3m82 0h4m24 0h4m146 0h3m335 0h7m74 0h18m4 0h3m-707 7h3m78 0h8m163 0h4m3 0h4m331 0h7m74 0h22m-701 11h4m78 0h3m29 0h3m136 0h3m327 0h11m78 0h14m-690 7h8m106 0h4m135 0h4m3 0h4m316 0h11m78 0h14m-683 7h4m78 0h7m22 0h7m131 0h11m317 0h7m78 0h14m-676 7h4m78 0h4m21 0h11m128 0h3m321 0h7m71 0h3m4 0h11m-587 11h3m25 0h4m128 0h14m302 0h4m85 0h14m-583 7h7m22 0h3m441 0h11m75 0h14m3 0h4m-580 7h4m21 0h7m135 0h4m299 0h7m71 0h21m-572 7h7m21 0h4m128 0h3m4 0h3m292 0h7m75 0h3m4 0h11m-566 11h7m22 0h7m121 0h3m4 0h3m288 0h7m75 0h14m-551 7h4m149 0h4m3 0h4m284 0h11m75 0h14m-551 7h3m149 0h4m285 0h10m75 0h3m4 0h11m-548 11h7m18 0h7m117 0h4m3 0h4m277 0h8m74 0h7m4 0h7m-541 7h8m21 0h7m114 0h3m4 0h7m267 0h10m79 0h10m-530 7h4m21 0h7m114 0h4m3 0h4m356 0h10m-526 7h3m25 0h7m111 0h10m271 0h3m75 0h3m4 0h11m-523 11h3m22 0h3m111 0h3m4 0h3m263 0h4m78 0h4m3 0h4m-509 7h7m18 0h4m110 0h4m3 0h4m259 0h4m78 0h11m-505 7h3m25 0h4m114 0h7m249 0h10m79 0h7m-498 7h3m22 0h3m107 0h3m4 0h4m249 0h7m78 0h11m-498 11h7m21 0h7m103 0h4m3 0h4m242 0h7m75 0h14m-484 7h4m21 0h4m99 0h7m4 0h3m239 0h3m82 0h7m-476 7h3m125 0h3m7 0h4m235 0h10m71 0h15m-473 7h3m18 0h7m100 0h3m239 0h7m78 0h11m-445 11h4m99 0h4m3 0h4m224 0h3m82 0h7m-462 7h7m25 0h4m92 0h7m4 0h3m221 0h7m78 0h7m-451 7h3m121 0h4m3 0h4m217 0h3m78 0h11m-448 7h4m21 0h3m96 0h4m4 0h3m295 0h11m-420 11h4m92 0h4m213 0h11m71 0h7m-427 7h4m21 0h4m89 0h3m4 0h3m207 0h7m75 0h10m-430 7h3m22 0h3m89 0h4m3 0h4m203 0h3m75 0h11m-420 7h3m320 0h11m68 0h14m-420 11h4m18 0h7m82 0h10m199 0h4m71 0h11m469 0h4m-879 7h4m14 0h7m89 0h4m192 0h7m71 0h14m-405 7h7m14 0h7m78 0h4m4 0h3m189 0h3m78 0h4m452 0h10m-853 7h3m15 0h7m78 0h3m200 0h3m64 0h14m445 0h4m3 0h4m-847 11h4m18 0h3m71 0h14m182 0h7m68 0h14m423 0h4m3 0h11m-825 7h7m14 0h7m71 0h4m185 0h7m71 0h11m416 0h18m-790 7h4m71 0h7m181 0h4m67 0h11m413 0h17m-800 7h4m17 0h4m75 0h3m178 0h4m71 0h10m402 0h7m4 0h4m-765 11h3m68 0h7m171 0h7m71 0h4m394 0h4m11 0h3m-765 7h4m14 0h4m67 0h8m167 0h7m67 0h15m377 0h7m3 0h11m-751 7h4m11 0h3m68 0h7m164 0h7m71 0h7m370 0h7m3 0h8m-719 11h4m64 0h10m157 0h3m75 0h7m352 0h7m8 0h7m658 0h3m4 0h3m11 0h36m-1412 7h7m64 0h7m153 0h7m71 0h7m345 0h7m4 0h7m601 0h4m14 0h3m4 0h14m11 0h21m7 0h7m39 0h4m-1408 7h3m61 0h10m153 0h4m67 0h7m338 0h18m580 0h46m7 0h4m103 0h3m-1404 7h3m61 0h7m146 0h7m67 0h7m331 0h7m4 0h7m555 0h32m3 0h7m118 0h50m-1348 11h3m139 0h7m68 0h7m323 0h4m3 0h4m519 0h22m128 0h3m4 0h28m7 0h4m-1345 7h8m53 0h11m135 0h3m64 0h11m317 0h7m3 0h11m491 0h21m128 0h21m-1284 7h4m57 0h7m132 0h3m68 0h7m309 0h7m4 0h4m483 0h7m107 0h4m3 0h11m11 0h21m-1249 7h4m53 0h4m132 0h3m4 0h3m57 0h11m302 0h18m459 0h21m103 0h4m10 0h25m-1159 11h3m128 0h4m60 0h8m291 0h7m7 0h4m434 0h18m114 0h21m-1103 7h4m121 0h3m64 0h11m285 0h3m4 0h7m416 0h14m4 0h3m7 0h4m96 0h4m3 0h7m4 0h3m-1070 7h7m114 0h3m64 0h11m277 0h4m3 0h8m398 0h18m117 0h21m-1049 7h7m111 0h7m57 0h10m271 0h7m3 0h7m392 0h10m118 0h10m4 0h3m-910 11h7m57 0h7m270 0h11m370 0h14m110 0h4m3 0h18m-985 7h4m103 0h7m57 0h3m253 0h25m355 0h18m114 0h18m-960 7h3m100 0h7m57 0h3m242 0h18m352 0h4m7 0h17m86 0h3m4 0h25m-832 7h7m57 0h3m238 0h15m348 0h18m92 0h18m-804 11h4m50 0h7m231 0h11m334 0h14m86 0h17m-761 7h7m47 0h7m224 0h14m317 0h21m89 0h11m-744 7h4m50 0h7m217 0h10m310 0h14m82 0h3m4 0h11m-719 7h7m39 0h15m206 0h18m298 0h7m79 0h3m4 0h18m-701 11h4m42 0h7m196 0h14m285 0h17m72 0h14m-662 7h11m36 0h10m192 0h14m271 0h14m4 0h3m64 0h18m-644 7h11m35 0h11m185 0h11m266 0h18m64 0h18m-626 7h11m35 0h11m174 0h7m4 0h3m257 0h7m74 0h18m-612 11h4m4 0h3m36 0h10m164 0h11m238 0h14m68 0h17m754 0h4m7 0h7m4 0h10m4 0h4m-1366 7h3m40 0h10m157 0h10m228 0h18m60 0h18m683 0h39m4 0h14m10 0h4m11 0h14m-1330 7h7m39 0h4m152 0h8m220 0h18m71 0h7m594 0h4m7 0h10m8 0h10m7 0h25m11 0h3m146 0h22m-1380 7h3m39 0h11m139 0h10m217 0h15m56 0h4m4 0h7m555 0h3m11 0h39m3 0h8m156 0h4m10 0h32m4 0h14m-1355 11h7m36 0h10m132 0h3m189 0h14m61 0h3m4 0h7m3 0h8m494 0h32m3 0h4m7 0h11m85 0h4m3 0h4m7 0h14m4 0h3m7 0h32m4 0h4m10 0h4m-1220 7h7m36 0h7m121 0h7m178 0h10m11 0h3m47 0h3m4 0h3m4 0h18m458 0h4m4 0h10m4 0h7m3 0h8m103 0h3m15 0h7m3 0h18m4 0h10m-1127 7h7m35 0h11m110 0h4m163 0h8m3 0h11m67 0h18m420 0h46m78 0h7m11 0h18m3 0h22m-1049 11h3m36 0h7m99 0h8m149 0h7m64 0h29m366 0h11m7 0h25m88 0h4m4 0h7m3 0h14m-939 7h4m36 0h3m238 0h8m74 0h7m4 0h7m352 0h25m4 0h7m60 0h39m4 0h3m-850 7h15m217 0h17m54 0h3m7 0h11m331 0h21m4 0h7m3 0h7m54 0h21m4 0h14m-797 7h4m3 0h4m210 0h10m61 0h11m320 0h17m61 0h3m8 0h21"/>
<path transform="translate(0,2)" stroke="#ff0000" stroke-width="4" d="M412 106h4m17 0h4m171 0h7m14 0h7m-224 7h4m14 0h7m171 0h7m3 0h4m7 0h4m-203 7h7m167 0h18m7 0h4m-221 7h4m14 0h3m171 0h7m18 0h4m-221 4h4m14 0h3m171 0h7m11 0h3m4 0h4m-224 7h7m14 0h3m171 0h7m14 0h8m-224 7h7m14 0h3m171 0h7m14 0h8m-224 7h3m14 0h4m171 0h7m14 0h11m-224 4h3m189 0h7m14 0h11m-224 7h3m18 0h3m168 0h7m14 0h7m-203 7h4m171 0h3m18 0h7m-224 7h4m17 0h4m167 0h7m18 0h7m-224 7h4m17 0h7m164 0h7m18 0h3m-220 4h4m17 0h4m167 0h4m21 0h3m-220 7h4m17 0h4m167 0h4m21 0h3m-220 7h4m14 0h7m167 0h4m17 0h7m-220 7h4m17 0h4m163 0h4m21 0h7m-220 7h4m14 0h7m163 0h4m21 0h7m-220 4h4m14 0h7m163 0h4m21 0h4m-199 7h3m164 0h7m-192 7h4m14 0h3m164 0h7m18 0h7m-221 7h8m14 0h3m164 0h3m22 0h7m-221 7h4m14 0h7m164 0h3m22 0h3m-199 4h7m160 0h4m25 0h3m-217 7h4m14 0h4m163 0h7m18 0h7m-217 7h4m14 0h7m157 0h7m18 0h10m-217 7h4m14 0h7m157 0h7m21 0h4m-217 7h7m14 0h4m160 0h3m22 0h7m-217 4h3m18 0h4m156 0h7m25 0h4m-217 7h3m18 0h4m156 0h4m21 0h11m-217 7h3m15 0h3m160 0h4m25 0h3m-213 7h3m175 0h7m21 0h4m-210 7h3m15 0h3m153 0h7m25 0h7m932 0h4m-1153 4h7m15 0h3m153 0h7m25 0h4m917 0h4m14 0h4m-1153 7h4m14 0h7m153 0h4m25 0h3m889 0h4m11 0h7m14 0h3m-1138 7h7m168 0h7m21 0h4m889 0h3m-1099 7h4m14 0h4m153 0h7m25 0h3m893 0h11m3 0h14m-1131 7h4m14 0h4m153 0h3m25 0h7m875 0h4m3 0h32m-1124 4h4m14 0h4m149 0h7m25 0h4m871 0h11m3 0h32m7 0h4m-1135 7h4m14 0h4m149 0h7m21 0h8m867 0h47m-1121 7h4m14 0h4m145 0h8m24 0h8m860 0h4m3 0h32m8 0h7m-1124 7h3m15 0h7m145 0h4m882 0h11m3 0h11m4 0h17m4 0h7m-1113 7h3m167 0h4m32 0h4m843 0h24m4 0h21m4 0h3m-1109 4h3m15 0h7m145 0h4m28 0h4m843 0h50m7 0h3m-1109 7h3m15 0h7m142 0h7m25 0h7m822 0h3m7 0h57m-1099 7h7m15 0h3m146 0h3m29 0h7m832 0h54m7 0h3m-1102 7h3m15 0h3m142 0h4m32 0h3m815 0h7m4 0h49m4 0h7m-1092 4h7m15 0h3m142 0h4m28 0h7m808 0h3m7 0h22m3 0h32m11 0h4m-1096 7h4m14 0h4m142 0h3m32 0h4m807 0h32m4 0h39m-1088 7h7m14 0h4m138 0h4m3 0h4m832 0h32m7 0h22m3 0h4m3 0h4m-1081 7h3m18 0h4m138 0h4m28 0h7m790 0h3m8 0h24m15 0h18m3 0h4m-1067 7h7m14 0h4m138 0h4m28 0h7m783 0h39m7 0h29m-1060 4h7m10 0h8m135 0h7m28 0h4m779 0h3m4 0h28m11 0h36m-1060 7h3m14 0h4m139 0h7m21 0h7m786 0h32m7 0h32m4 0h4m-1060 7h3m14 0h4m171 0h3m776 0h21m3 0h4m4 0h3m4 0h35m-1049 7h7m11 0h3m139 0h4m32 0h3m765 0h43m3 0h32m-1042 7h4m14 0h3m136 0h7m28 0h7m761 0h29m3 0h4m14 0h25m-1035 4h4m14 0h3m136 0h7m25 0h7m761 0h21m4 0h10m7 0h29m3 0h8m-1039 7h4m10 0h7m132 0h7m29 0h7m754 0h3m4 0h25m10 0h32m4 0h3m-1034 7h7m149 0h4m28 0h7m747 0h21m4 0h3m4 0h7m7 0h4m3 0h18m4 0h7m-1024 7h3m14 0h4m131 0h8m28 0h4m736 0h32m3 0h4m18 0h3m4 0h25m-1000 7h4m131 0h4m32 0h4m729 0h7m3 0h25m22 0h32m-1014 4h7m14 0h4m131 0h4m28 0h4m740 0h21m32 0h25m-989 7h4m128 0h3m29 0h7m726 0h24m32 0h32m-1006 7h4m14 0h3m132 0h3m29 0h3m722 0h18m4 0h3m7 0h4m21 0h32m-999 7h4m10 0h7m128 0h7m29 0h3m715 0h4m3 0h11m4 0h3m22 0h7m7 0h28m-992 7h4m10 0h7m128 0h4m28 0h4m196 0h3m512 0h22m24 0h4m7 0h36m-989 4h4m10 0h4m128 0h3m32 0h4m192 0h4m515 0h11m11 0h7m25 0h3m4 0h28m-989 7h8m142 0h3m29 0h3m708 0h18m35 0h8m3 0h18m-971 7h4m14 0h3m121 0h4m32 0h3m192 0h4m505 0h4m3 0h18m3 0h4m14 0h4m7 0h25m-964 7h4m170 0h4m192 0h3m502 0h18m32 0h3m4 0h21m-957 7h4m14 0h4m121 0h3m29 0h7m188 0h7m491 0h4m3 0h15m3 0h4m32 0h25m-950 4h4m7 0h7m121 0h3m29 0h3m192 0h4m494 0h25m29 0h3m4 0h14m-943 7h4m11 0h7m117 0h4m220 0h7m488 0h21m3 0h8m24 0h32m-946 7h4m11 0h7m114 0h3m32 0h4m188 0h4m483 0h25m25 0h4m3 0h25m4 0h3m4 0h3m-946 7h4m11 0h7m114 0h3m29 0h7m181 0h11m480 0h7m4 0h3m43 0h25m3 0h4m-939 7h7m128 0h4m32 0h3m182 0h7m473 0h21m43 0h3m7 0h18m-914 4h7m114 0h4m28 0h4m188 0h4m466 0h24m4 0h4m32 0h3m4 0h21m7 0h4m-932 7h3m11 0h7m110 0h8m24 0h8m181 0h7m466 0h21m47 0h17m-910 7h3m11 0h4m113 0h4m28 0h8m177 0h8m458 0h22m35 0h4m10 0h18m-903 7h3m11 0h4m113 0h4m28 0h4m178 0h7m459 0h14m4 0h3m43 0h25m-904 7h4m14 0h4m110 0h3m29 0h7m178 0h7m448 0h21m43 0h4m3 0h29m-904 4h4m124 0h7m207 0h10m452 0h14m57 0h18m4 0h7m-904 7h7m153 0h7m178 0h4m448 0h11m64 0h14m-886 7h4m11 0h3m110 0h4m28 0h4m174 0h7m445 0h14m53 0h22m3 0h4m-886 7h4m11 0h3m107 0h3m29 0h7m171 0h7m441 0h7m7 0h7m46 0h4m7 0h11m-861 4h7m107 0h3m29 0h3m171 0h7m434 0h21m57 0h22m-875 7h7m121 0h3m25 0h7m167 0h4m438 0h10m4 0h3m61 0h21m-871 7h7m7 0h4m106 0h4m28 0h4m170 0h4m430 0h8m7 0h3m61 0h17m-860 7h3m11 0h4m138 0h4m167 0h7m420 0h14m68 0h10m4 0h7m-857 7h3m7 0h8m103 0h3m29 0h3m167 0h4m423 0h11m3 0h4m60 0h22m-850 4h3m7 0h8m103 0h3m623 0h10m68 0h21m-846 7h3m7 0h4m103 0h4m28 0h4m163 0h11m413 0h10m68 0h14m-832 7h3m7 0h4m103 0h4m25 0h7m160 0h7m409 0h14m61 0h3m4 0h21m-836 7h4m7 0h7m100 0h3m29 0h3m160 0h7m409 0h11m64 0h21m-814 7h3m104 0h3m189 0h7m405 0h7m7 0h4m53 0h25m-818 4h4m7 0h3m100 0h7m25 0h4m160 0h3m406 0h10m68 0h14m-811 7h4m7 0h3m100 0h4m24 0h4m160 0h7m398 0h11m68 0h21m-814 7h3m11 0h3m128 0h4m156 0h8m394 0h11m61 0h3m4 0h14m3 0h4m-807 7h3m11 0h3m96 0h4m25 0h3m552 0h14m57 0h3m8 0h14m-797 7h4m10 0h4m96 0h3m29 0h7m149 0h7m385 0h14m57 0h28m-679 4h3m29 0h3m541 0h11m7 0h3m47 0h3m4 0h21m-786 7h4m10 0h4m96 0h3m29 0h3m153 0h4m377 0h14m61 0h21m-779 7h4m106 0h4m28 0h4m149 0h7m374 0h10m61 0h4m7 0h17m-775 7h4m7 0h3m125 0h7m146 0h7m366 0h7m4 0h3m68 0h14m-750 7h3m89 0h4m181 0h7m363 0h14m68 0h14m-754 4h4m7 0h3m89 0h4m28 0h7m146 0h4m362 0h15m67 0h18m-758 7h8m7 0h3m89 0h4m25 0h7m142 0h7m356 0h18m71 0h14m-751 7h4m7 0h4m89 0h3m174 0h11m356 0h7m71 0h18m-744 7h4m7 0h4m89 0h3m25 0h4m142 0h3m356 0h11m64 0h3m7 0h18m-740 7h4m7 0h4m85 0h4m28 0h4m142 0h7m345 0h7m75 0h18m-719 4h4m85 0h4m25 0h7m138 0h7m345 0h11m75 0h10m-714 7h7m256 0h7m341 0h4m3 0h8m67 0h18m-711 7h3m82 0h4m170 0h7m338 0h7m79 0h17m-707 7h3m78 0h4m28 0h4m139 0h3m338 0h14m68 0h18m-701 7h4m81 0h4m167 0h11m327 0h11m74 0h11m-690 4h4m78 0h3m29 0h3m136 0h3m4 0h3m327 0h8m78 0h10m-686 7h4m78 0h3m171 0h4m320 0h14m75 0h14m-687 7h8m78 0h3m25 0h4m135 0h11m313 0h10m79 0h10m-676 7h4m78 0h4m25 0h7m131 0h8m313 0h10m78 0h11m4 0h3m-597 7h3m164 0h3m317 0h7m75 0h3m4 0h11m-587 4h3m25 0h4m131 0h11m306 0h14m75 0h10m-583 7h7m25 0h4m128 0h3m4 0h3m306 0h7m75 0h4m3 0h7m-576 7h4m25 0h3m128 0h4m3 0h4m299 0h7m82 0h14m-576 7h3m29 0h3m125 0h3m303 0h7m81 0h11m-565 7h3m25 0h4m124 0h4m3 0h4m295 0h4m78 0h14m-562 4h7m22 0h7m124 0h4m3 0h4m288 0h11m71 0h3m4 0h10m-558 7h4m149 0h4m7 0h3m285 0h7m78 0h14m-554 7h3m149 0h15m277 0h14m75 0h7m4 0h3m-547 7h3m25 0h4m412 0h4m74 0h18m-544 4h4m145 0h4m7 0h4m277 0h7m78 0h11m-537 7h4m21 0h7m117 0h4m3 0h4m277 0h4m78 0h11m-534 7h4m25 0h3m118 0h7m270 0h14m72 0h10m4 0h3m-530 7h4m21 0h7m114 0h4m274 0h7m78 0h14m-526 7h3m25 0h4m114 0h7m267 0h3m82 0h14m-519 4h3m22 0h3m114 0h4m3 0h4m259 0h11m78 0h11m-516 7h7m22 0h3m111 0h3m4 0h3m260 0h3m75 0h18m-487 7h7m110 0h11m252 0h7m79 0h14m-505 7h3m135 0h11m249 0h7m78 0h15m-502 7h7m22 0h3m107 0h7m249 0h11m74 0h11m4 0h3m-498 4h4m25 0h3m103 0h4m3 0h4m245 0h8m81 0h11m-491 7h4m128 0h10m242 0h7m75 0h14m-483 7h3m22 0h3m107 0h10m235 0h4m78 0h14m-476 7h3m22 0h3m100 0h3m242 0h7m82 0h7m-345 7h7m4 0h3m228 0h7m82 0h7m-466 4h4m21 0h4m99 0h4m3 0h4m224 0h11m74 0h11m-462 7h3m125 0h3m4 0h3m224 0h7m79 0h7m-455 7h3m21 0h4m96 0h4m227 0h4m78 0h14m-455 7h7m18 0h7m92 0h4m4 0h3m217 0h7m75 0h3m4 0h4m-445 7h4m21 0h3m93 0h3m4 0h7m210 0h7m75 0h7m-434 4h4m17 0h7m313 0h8m74 0h11m-438 7h4m21 0h4m89 0h7m3 0h4m206 0h4m75 0h3m4 0h3m-427 7h4m21 0h4m85 0h4m7 0h3m203 0h7m75 0h4m-420 7h3m22 0h3m86 0h3m4 0h3m203 0h7m71 0h11m-420 7h4m110 0h4m3 0h4m202 0h4m78 0h7m-416 4h7m18 0h4m85 0h4m3 0h4m195 0h4m78 0h7m-387 7h3m82 0h4m3 0h4m195 0h7m75 0h7m463 0h7m-875 7h3m22 0h3m78 0h4m4 0h3m192 0h7m71 0h11m452 0h10m-860 7h3m18 0h4m78 0h3m4 0h4m192 0h3m71 0h11m448 0h7m-850 7h7m15 0h3m78 0h4m3 0h4m181 0h15m67 0h11m441 0h7m-836 4h4m18 0h3m75 0h3m192 0h11m71 0h7m434 0h11m-832 7h7m14 0h4m74 0h4m3 0h4m185 0h3m68 0h11m426 0h11m-814 7h7m14 0h4m71 0h3m4 0h3m182 0h3m68 0h11m416 0h17m-807 7h4m96 0h3m178 0h4m74 0h7m409 0h18m-793 7h4m17 0h4m249 0h11m64 0h10m399 0h3m4 0h10m-779 4h8m14 0h3m68 0h4m3 0h4m170 0h7m72 0h7m398 0h4m3 0h7m-772 7h4m89 0h7m167 0h4m74 0h8m387 0h7m4 0h7m-758 7h4m14 0h4m64 0h11m163 0h7m75 0h3m374 0h11m7 0h3m-725 7h3m64 0h4m3 0h4m160 0h7m71 0h7m360 0h28m-711 4h3m64 0h7m160 0h8m71 0h3m359 0h4m7 0h14m683 0h4m7 0h11m-1409 7h4m67 0h4m160 0h3m72 0h3m352 0h18m619 0h3m22 0h3m4 0h7m4 0h32m7 0h10m7 0h8m-1409 7h4m60 0h7m153 0h7m71 0h8m337 0h11m4 0h7m590 0h4m7 0h35m11 0h4m17 0h4m64 0h4m-1412 7h3m64 0h7m150 0h3m68 0h7m345 0h3m4 0h4m569 0h10m11 0h11m3 0h11m7 0h4m117 0h11m-1416 7h4m60 0h4m149 0h7m61 0h3m7 0h4m331 0h3m537 0h11m3 0h22m124 0h7m18 0h14m4 0h25m-1398 4h4m60 0h7m142 0h4m71 0h7m327 0h4m7 0h4m523 0h14m128 0h7m11 0h49m-1369 7h4m64 0h3m135 0h7m61 0h3m4 0h4m320 0h7m3 0h11m502 0h14m135 0h14m21 0h4m-1320 7h4m57 0h7m135 0h7m64 0h11m309 0h18m491 0h14m111 0h39m3 0h4m-1274 7h4m57 0h4m138 0h4m57 0h10m306 0h14m473 0h11m4 0h7m114 0h21m-1035 7h11m57 0h3m4 0h3m295 0h8m7 0h3m448 0h4m7 0h7m4 0h7m3 0h4m100 0h24m4 0h4m-1139 4h4m124 0h4m68 0h3m299 0h14m441 0h11m10 0h4m114 0h14m-1117 7h7m125 0h3m61 0h11m288 0h14m430 0h14m15 0h3m103 0h11m4 0h3m-1095 7h7m121 0h3m61 0h10m278 0h3m8 0h3m409 0h25m114 0h11m3 0h4m-1060 7h3m114 0h11m53 0h11m277 0h11m405 0h7m4 0h4m113 0h11m4 0h3m-1035 7h7m107 0h7m57 0h11m270 0h11m391 0h11m113 0h22m-1010 4h3m114 0h4m60 0h4m263 0h7m3 0h8m380 0h14m114 0h11m-879 7h7m57 0h7m260 0h14m370 0h7m4 0h11m99 0h18m-964 7h4m99 0h7m54 0h10m246 0h21m359 0h15m96 0h14m10 0h4m-942 7h3m96 0h7m50 0h11m245 0h11m355 0h11m4 0h3m89 0h21m-814 7h7m50 0h14m228 0h10m4 0h7m342 0h14m99 0h7m-782 4h4m291 0h4m3 0h4m3 0h4m331 0h14m100 0h3m4 0h7m-779 7h3m50 0h11m231 0h11m320 0h14m89 0h18m-704 7h7m224 0h10m317 0h18m82 0h21m-736 7h7m42 0h11m214 0h14m302 0h7m7 0h4m75 0h24m-714 7h7m42 0h7m207 0h18m288 0h3m4 0h14m75 0h17m-686 4h7m43 0h3m4 0h3m200 0h14m288 0h7m4 0h3m82 0h7m4 0h3m-679 7h7m43 0h10m192 0h15m273 0h22m64 0h3m7 0h15m-608 7h7m192 0h7m267 0h21m64 0h21m-636 7h7m39 0h11m181 0h3m4 0h7m253 0h21m64 0h21m-615 7h4m42 0h7m171 0h7m4 0h3m249 0h18m68 0h14m-594 4h4m46 0h7m167 0h4m3 0h4m242 0h21m67 0h11m-583 7h7m39 0h7m164 0h3m4 0h3m235 0h18m53 0h29m715 0h3m7 0h7m8 0h39m3 0h7m4 0h11m-1370 7h4m43 0h3m153 0h7m231 0h11m68 0h14m633 0h3m15 0h17m4 0h11m3 0h32m7 0h7m-1273 7h4m35 0h11m146 0h7m220 0h18m61 0h17m580 0h4m3 0h4m3 0h36m7 0h4m174 0h35m4 0h4m-1384 7h7m39 0h4m139 0h10m207 0h21m57 0h18m540 0h4m3 0h36m121 0h3m4 0h3m11 0h11m3 0h4m3 0h40m7 0h14m-1312 4h3m39 0h7m135 0h8m202 0h15m64 0h14m512 0h53m128 0h15m3 0h18m3 0h18m7 0h11m-1263 7h8m32 0h10m132 0h3m182 0h7m82 0h17m466 0h4m7 0h28m136 0h3m4 0h3m4 0h11m3 0h11m14 0h4m-1178 7h7m36 0h11m113 0h4m167 0h25m71 0h11m448 0h21m4 0h18m103 0h39m7 0h4m3 0h4m-1060 7h7m107 0h10m150 0h3m4 0h7m68 0h10m4 0h10m406 0h3m4 0h32m4 0h10m64 0h4m10 0h11m11 0h18m3 0h11m-1017 4h3m36 0h7m110 0h7m150 0h3m4 0h3m75 0h4m3 0h4m398 0h18m14 0h7m71 0h22m7 0h3m4 0h3m4 0h3m-928 7h7m96 0h4m142 0h11m3 0h4m60 0h11m4 0h7m359 0h32m85 0h25m4 0h3m4 0h3m-907 7h4m32 0h7m231 0h11m57 0h7m349 0h3m4 0h32m60 0h11m3 0h22m3 0h11m7 0h4m-833 7h8m213 0h3m4 0h7m64 0h11m320 0h7m7 0h7m4 0h7m60 0h40"/>
<path transform="translate(0,1.5)" stroke="#ff0800" stroke-width="3" d="M629 135h4m-203 39h3m-7 7h4m-4 43h4m192 0h3m-39 21h4m28 0h4m-199 18h3m-28 7h3m182 7h3m-188 18h3m18 0h4m153 0h3m-185 7h4m21 0h4m1102 0h4m-1135 18h4m1099 0h3m11 0h4m3 0h4m3 0h4m7 0h4m-1124 7h3m150 0h3m925 0h11m10 0h4m7 0h3m-46 7h7m4 0h7m-1088 7h3m1085 0h4m21 0h3m-1141 11h3m207 0h3m857 0h4m3 0h4m-28 7h3m7 0h11m43 0h3m-1120 7h3m1057 0h7m-11 7h4m3 0h4m32 0h7m3 0h4m-946 11h3m932 0h4m-1110 7h4m1095 0h4m3 0h7m-1113 7h4m1085 0h3m-928 11h3m914 0h4m4 0h3m-14 7h3m-882 7h4m864 0h4m3 0h4m-918 7h4m896 0h4m3 0h7m-99 11h3m7 0h4m64 0h4m3 0h4m-104 7h8m78 0h7m-1039 7h4m1010 0h7m7 0h4m7 0h4m-868 7h3m754 0h4m85 0h4m-93 11h4m71 0h3m4 0h4m-18 7h3m-1027 7h3m18 0h3m914 0h4m78 0h4m-1003 7h3m904 0h3m82 0h4m-103 11h7m78 0h11m-1014 7h4m906 0h4m82 0h3m4 0h3m-103 7h4m-526 7h3m598 0h3m-89 11h4m-904 7h4m18 0h3m121 0h4m732 0h4m-886 7h4m871 0h7m86 0h3m-828 7h3m811 0h4m-822 11h4m224 0h7m572 0h4m-590 7h3m4 0h3m480 0h4m85 0h4m-100 7h4m3 0h4m75 0h3m-96 7h4m89 0h3m-764 11h3m655 0h3m85 0h8m-100 7h4m92 0h4m-907 7h3m110 0h4m768 0h4m-100 7h4m82 0h10m-889 11h4m103 7h3m662 0h3m86 0h3m4 0h3m-871 7h4m320 0h3m-348 11h3m769 0h3m93 0h14m-758 7h4m636 0h4m100 0h7m-121 7h3m-761 7h4m750 0h4m103 0h3m-864 11h4m14 0h4m825 0h3m-10 7h3m-843 7h4m725 0h4m-423 7h3m512 0h4m-832 11h3m715 0h4m89 0h3m-7 7h4m-698 7h4m683 0h3m-14 7h4m-14 11h3m-107 7h4m89 0h3m-633 7h4m146 0h3m473 0h4m-758 7h4m270 0h4m466 0h7m-114 11h3m93 0h4m-740 7h3m86 0h3m640 0h4m-18 7h4m-637 7h4m170 0h4m452 0h3m-722 11h4m590 14h4m99 0h4m-114 7h4m88 11h4m-128 21h4m-11 11h3m-327 7h4m302 7h4m-15 7h4m85 11h7m-529 7h3m519 0h4m-36 25h4m-110 7h7m-11 7h4m-431 11h4m402 7h3m86 7h3m-373 18h3m338 7h4m-484 14h4m355 11h4m-342 14h4m-36 18h4m423 0h4m-303 7h4m-107 7h4m295 0h4m-210 7h3m-21 11h4m206 0h3m559 0h3m-782 14h3m747 0h4m-861 7h4m99 0h4m195 0h4m523 0h7m4 0h3m-555 11h4m-189 7h4m-18 7h4m185 0h3m491 0h4m-758 7h4m64 0h3m181 0h4m484 0h3m-419 11h3m370 7h4m-388 7h3m335 11h3m694 0h3m-78 7h4m-993 7h4m352 0h4m-18 7h3m541 0h4m-1138 11h3m562 0h4m508 0h7m-864 7h4m309 0h4m682 0h4m-210 7h4m167 0h7m-686 7h3m-523 11h4m203 0h3m-206 7h3m1060 0h4m3 0h4m-964 7h4m352 0h3m569 0h4m-185 7h4m138 0h4m-1021 11h4m3 0h4m416 14h3m356 0h4m-377 7h3m342 0h3m-387 11h3m11 0h3m-252 7h3m673 0h3m-832 7h3m356 0h4m434 0h3m-733 18h4m651 0h3m-608 7h4m188 7h4m256 0h3m104 0h3m-412 18h3m334 0h4m733 0h3m18 0h7m7 0h4m10 0h4m-1156 7h4m334 0h4m-559 7h4m199 0h3m225 0h3m694 0h3m14 0h4m-736 7h3m86 0h3m544 0h4m11 0h7m252 0h4m14 0h4m10 0h4m-1195 11h7m3 0h4m274 0h3m491 0h4m227 0h4m4 0h7m10 0h4m-875 7h4m579 0h4m181 0h4m3 0h4m-978 7h3m7 0h4m153 0h3m712 0h7m-1060 11h4m291 0h4m466 0h3m150 0h3m-213 7h3m4 0h7m142 0h4m3 0h4m-530 7h4m323 0h4m117 0h4m14 0h4m10 0h4m-804 7h4m202 0h4m82 0h3m313 0h4m110 0h4"/>
<path transform="translate(0,2)" stroke="#ff0800" stroke-width="4" d="M633 120h3m-3 7h3m-3 4h3m-35 14h3m-174 7h3m-28 4h4m21 0h3m-3 14h3m164 0h4m24 14h4m-199 4h3m157 21h3m-192 7h4m185 0h3m-3 4h3m29 0h3m-199 7h4m192 7h3m-39 7h4m-4 7h4m-192 25h3m22 7h3m189 0h3m-42 18h3m32 0h4m942 0h4m-953 7h3m929 0h3m4 0h3m-1156 7h4m1124 4h3m4 0h7m-932 7h4m889 0h3m15 0h14m-925 7h4m875 0h3m7 0h7m4 0h7m4 0h3m-42 7h3m4 0h7m18 0h3m-28 7h3m32 0h7m-60 4h3m15 0h3m36 0h3m-60 7h3m47 0h7m-1131 7h3m1064 0h3m4 0h3m36 0h4m-911 7h4m843 0h3m11 0h3m32 0h4m14 0h4m-1103 7h4m1077 0h4m3 0h4m-71 4h7m50 0h7m3 0h4m-18 7h4m-79 7h11m4 0h3m64 0h4m-1110 7h4m1024 0h4m49 0h4m7 0h7m-78 4h3m57 0h4m11 0h3m-935 14h3m32 0h4m797 0h3m61 0h3m4 0h3m4 0h7m-93 7h8m67 0h7m-917 7h3m897 0h3m7 0h7m-878 4h3m-7 7h4m779 0h3m71 0h4m4 0h3m-907 7h4m892 0h4m-1039 7h4m1017 0h4m-96 7h3m4 0h3m79 0h3m-14 4h3m-92 7h4m3 0h4m3 0h4m-25 7h7m71 0h4m-1017 14h3m925 0h3m82 0h4m-868 4h3m36 0h4m729 0h7m-18 7h4m-11 14h3m86 7h3m-981 4h3m872 0h3m-10 7h3m82 0h3m-604 7h3m513 0h3m78 0h7m-960 7h4m348 0h4m498 0h7m78 0h7m-106 7h3m11 0h3m79 0h3m-957 4h4m174 0h4m683 0h3m75 0h14m-782 7h3m676 0h4m88 0h4m-590 7h3m569 0h4m-7 7h3m-579 11h3m562 0h4m-754 7h3m647 0h4m85 0h15m-114 7h3m89 0h4m3 0h4m-786 7h3m676 0h4m89 0h3m4 0h3m-569 7h4m-182 4h4m722 0h4m-772 7h7m661 0h4m89 0h3m-103 7h4m89 0h3m-106 7h7m-768 11h3m103 0h4m210 0h3m519 7h4m-541 7h4m519 0h4m-523 7h3m-213 4h4m622 0h4m99 0h7m-857 7h4m736 0h4m92 0h11m-847 7h4m320 0h3m399 7h3m-715 7h4m132 0h3m665 0h4m-825 4h3m715 0h4m92 0h7m-821 7h3m708 0h3m-601 7h4m587 0h3m93 0h3m-658 7h4m644 0h3m-7 7h4m-11 4h4m-776 14h4m654 0h4m-14 7h3m96 0h4m-751 7h4m121 0h3m612 0h4m3 0h4m-25 18h3m-611 7h3m135 7h4m348 0h4m100 0h3m-11 4h4m-110 7h3m-10 7h3m-341 7h3m328 0h3m89 7h4m-690 4h3m71 14h4m590 0h4m-11 7h4m-431 7h4m423 0h4m-22 11h4m-128 21h7m92 4h4m-25 14h4m-107 7h4m-299 11h3m285 0h3m93 0h3m-14 7h4m-384 7h3m-7 7h4m-7 4h3m-149 14h3m25 7h4m352 11h3m-366 7h4m345 7h3m-384 14h4m448 11h3m-323 7h3m214 0h3m75 14h3m-309 4h7m196 7h3m-341 7h3m328 0h3m86 0h7m-399 7h4m384 0h4m-299 7h3m765 0h4m-786 4h3m295 0h4m-295 7h3m740 0h4m-751 7h4m177 7h4m530 0h7m11 0h3m-32 7h4m-719 4h4m715 0h3m-551 14h4m-189 7h4m686 0h4m-36 7h4m-744 4h4m-7 7h3m712 0h3m-395 7h4m-270 11h3m249 0h4m1067 0h3m-1319 7h3m235 0h4m1003 0h7m3 0h4m7 0h4m-79 7h4m-971 7h3m345 0h4m-654 7h3m612 4h3m-561 7h3m221 0h3m313 0h4m515 0h4m167 0h11m3 0h7m-1248 7h4m540 0h4m480 0h4m-907 7h7m1028 0h3m-1177 11h3m121 7h4m804 0h3m111 7h3m-1060 7h4m480 0h7m395 0h3m-434 7h4m395 0h3m-675 4h3m-188 7h3m811 0h4m-825 7h3m925 0h3m4 0h3m-533 7h4m14 0h3m484 0h4m-185 11h7m117 0h4m-865 7h4m82 7h3m274 0h4m14 0h4m305 0h4m-345 7h4m291 7h4m-527 4h4m501 0h4m103 0h4m-680 7h4m267 0h3m381 0h3m-661 7h3m47 7h3m174 0h4m-245 7h3m39 11h4m1202 0h3m18 0h4m10 0h8m-1256 7h4m160 0h3m221 0h3m93 0h3m637 0h7m21 0h4m11 0h3m-135 7h4m273 0h4m-1330 7h3m986 0h3m4 0h3m239 0h3m18 0h11m-1327 4h4m995 0h4m217 0h3m18 0h4m18 0h3m-1273 7h3m175 0h3m961 0h3m11 0h7m3 0h4m7 0h7m-740 7h4m427 0h3m7 0h4m185 0h4m-1089 7h4m419 0h4m405 0h4m-530 4h4m483 0h4m149 0h4m3 0h4m11 0h3m-235 7h4m142 0h4m18 0h3m-558 7h7m327 0h4m135 0h3m-594 7h4m3 0h4m82 0h3m324 0h7"/>
<path transform="translate(0,1.5)" stroke="#ff5000" stroke-width="3" d="M604 117h4m-175 7h4m167 0h4m-199 11h3m221 0h3m-35 7h3m-199 18h4m220 0h4m-36 7h4m-196 14h4m21 0h3m160 0h4m-4 18h4m-171 46h4m-32 18h3m1174 7h4m-43 32h7m14 0h4m-1142 7h4m1085 0h3m11 0h3m7 0h4m4 0h3m-53 11h3m36 0h3m18 0h4m-64 7h3m18 0h4m7 0h7m3 0h11m-1127 7h3m1064 0h3m29 0h3m4 0h7m3 0h4m-64 7h4m3 0h7m39 0h4m-64 11h3m47 0h3m11 0h3m-1141 7h3m1117 0h4m7 0h3m-964 7h4m32 0h4m896 0h3m4 0h7m7 0h4m-925 7h4m839 0h7m57 0h7m-1124 11h4m1035 0h3m4 0h3m54 0h3m4 0h3m-907 7h4m814 0h4m75 0h3m-939 7h4m850 0h3m11 0h4m64 0h3m4 0h3m-103 11h7m79 0h7m-939 7h3m833 0h7m74 0h4m-1088 7h3m160 0h4m828 0h4m75 0h3m7 0h4m-1067 7h4m-4 11h4m949 0h4m74 0h4m11 0h7m-96 7h3m-985 7h4m956 0h4m3 0h8m71 0h3m15 0h3m-1070 7h3m1035 0h4m-1042 11h3m943 0h7m81 0h4m-100 7h8m99 0h4m-114 7h3m86 0h3m-878 18h3m758 0h4m-897 7h4m974 0h4m-854 7h4m231 0h4m508 0h4m96 0h7m-107 7h4m89 0h3m4 0h3m-981 11h3m160 0h4m192 0h4m501 0h4m96 0h7m-612 7h4m501 0h4m88 0h8m-843 7h3m224 7h4m494 0h7m86 0h3m-601 11h4m583 0h11m-964 7h3m18 0h4m-4 7h4m153 0h3m662 0h3m89 0h4m3 0h7m-21 7h4m-107 11h4m85 0h3m8 0h3m-797 7h4m779 0h3m-572 7h3m459 0h7m86 0h3m4 0h7m-11 7h7m-565 11h3m434 7h4m-665 7h3m630 18h3m-437 7h3m530 0h4m-711 18h3m573 7h7m-622 7h3m-124 7h3m719 0h3m100 0h3m-523 18h4m502 0h3m-21 14h3m-501 11h3m381 0h3m-540 7h3m146 0h4m480 0h4m-11 7h3m-480 7h4m452 11h3m-658 14h4m174 0h3m4 0h4m341 7h4m88 11h4m-114 7h4m-495 14h4m139 11h3m-185 7h4m597 0h4m-11 7h4m-601 7h3m171 0h4m409 0h7m-598 11h4m569 7h3m-113 7h3m96 7h4m-121 11h3m-458 7h3m445 0h3m-291 7h3m381 0h3m-117 11h3m-284 14h3m363 0h4m-381 18h4m352 0h3m-10 7h3m-370 7h4m4 7h3m242 0h4m96 0h7m-18 11h3m-110 7h4m-388 7h4m28 0h4m-39 18h3m455 0h4m-466 14h4m348 0h4m-7 7h3m-327 11h3m-10 21h3m865 0h3m-28 11h3m-878 7h3m861 0h7m-480 7h4m462 0h3m-750 7h4m690 11h3m11 0h3m-732 7h3m680 14h3m-46 11h3m-650 7h3m-7 7h4m608 0h3m-693 11h3m1327 0h3m11 0h4m3 0h4m3 0h4m-711 7h3m623 0h10m-1070 7h3m-156 7h3m1124 0h4m-594 11h3m715 0h4m-50 7h4m-1014 7h3m321 0h3m-14 7h3m449 0h7m-868 11h3m75 0h4m889 0h3m-622 7h4m14 0h3m377 7h4m124 7h4m3 0h4m-850 11h4m252 0h4m-271 7h4m-18 14h4m-18 11h3m570 0h3m117 0h8m-858 7h4m82 0h3m281 7h4m423 0h4m-150 7h4m-324 11h4m-32 14h3m256 0h4m39 18h4m-584 7h4m1195 0h7m4 0h7m3 0h11m-1039 7h4m11 0h3m914 0h4m-82 7h4m-698 11h4m100 0h3m733 0h3m-1042 7h4m274 0h3m452 0h3m4 0h4m-82 7h3m-562 11h4m-267 7h4m231 0h3m449 0h3m150 0h3m-846 7h3m210 0h4m-25 7h3m93 0h3m299 0h4m124 0h4"/>
<path transform="translate(0,2)" stroke="#ff5000" stroke-width="4" d="M633 113h3m-227 7h3m189 11h3m29 7h3m-39 18h4m-4 7h4m-171 14h3m192 11h4m-199 7h3m160 0h4m25 32h3m-7 25h4m-199 7h3m157 0h3m32 0h4m-43 21h4m978 4h7m-21 7h7m-25 7h3m11 0h4m3 0h4m-22 14h4m14 0h4m-43 4h7m18 0h7m-57 7h4m10 0h8m24 0h15m-1156 7h3m22 0h3m1067 0h4m10 0h4m14 0h14m-42 7h3m32 0h4m-68 7h4m3 0h4m53 0h7m-931 4h3m850 0h4m10 0h4m57 0h3m-1141 7h3m207 0h3m843 0h4m74 0h4m-82 7h11m42 0h4m11 0h3m-82 7h4m64 0h4m-75 7h11m64 0h3m-953 4h3m858 0h7m85 0h4m-1128 7h4m1031 0h4m64 0h7m7 0h4m-104 7h4m14 0h4m57 0h3m-85 7h3m-853 4h3m833 0h3m4 0h3m75 0h4m-89 7h3m82 0h11m-11 7h4m-104 7h4m68 0h3m4 0h3m7 0h7m-21 7h7m14 0h4m-114 4h4m3 0h4m75 0h10m4 0h3m-114 7h4m96 0h4m-1071 7h4m967 0h4m74 0h7m-10 7h3m4 0h11m-1043 7h4m1010 0h4m7 0h3m-96 4h4m-22 7h4m4 0h3m78 0h4m3 0h4m-11 7h4m-14 7h7m-1003 7h3m893 0h4m89 0h3m-7 4h11m-637 7h4m522 0h4m92 0h8m-107 7h3m89 0h4m-103 7h3m89 0h4m-619 7h4m512 0h3m93 0h3m-971 4h4m356 0h3m505 0h4m-520 7h4m597 0h4m4 0h3m-989 7h4m878 0h4m82 0h3m-789 7h3m783 0h7m-11 7h4m-601 4h3m491 0h4m74 14h4m3 0h4m-114 7h11m-487 7h3m466 0h4m99 0h4m-939 4h3m168 0h3m733 14h3m4 0h3m-899 14h3m772 4h7m-786 7h4m316 0h4m547 0h8m-879 7h4m761 0h3m100 0h3m-17 7h3m-754 4h4m213 0h4m530 0h3m-114 7h4m103 0h4m-715 7h3m171 0h4m526 0h4m-118 7h4m103 0h7m-117 7h3m100 0h3m-857 4h4m153 0h3m164 0h3m4 0h3m502 14h7m-18 7h11m-519 7h3m399 0h3m-409 4h4m-171 7h4m-157 14h4m305 0h4m491 0h3m-498 7h4m484 0h3m-690 11h4m665 0h4m-114 7h3m-565 7h3m178 0h4m473 0h3m-114 7h4m100 0h3m-469 4h3m356 0h3m100 0h4m-619 7h3m-131 7h3m121 0h4m498 0h7m-18 7h4m-537 7h3m-3 4h3m626 0h4m-637 7h4m32 0h3m146 0h3m438 0h3m-597 7h4m-4 7h4m-121 7h3m679 4h4m-576 7h3m-42 14h3m175 0h3m-260 7h4m107 0h3m448 0h4m-14 11h3m100 0h3m-28 21h4m-118 11h4m99 0h4m-398 14h3m377 0h4m-516 4h4m501 0h4m-125 21h4m-399 11h4m473 7h3m-373 21h4m341 0h4m-15 11h4m-462 21h3m-3 4h3m427 0h3m-469 7h4m28 0h4m327 0h3m-17 14h3m85 7h4m-103 4h3m-316 7h3m89 14h4m775 0h7m-590 7h3m562 0h4m-11 4h4m-886 7h4m853 7h4m-839 7h3m71 0h4m199 0h4m540 0h4m-43 11h7m-796 7h3m349 0h3m-359 14h4m750 7h4m-427 4h3m392 0h3m-669 7h4m164 7h3m455 0h4m-701 7h4m1369 4h4m-1153 7h4m427 0h3m648 0h7m-64 7h3m-626 7h4m576 0h4m3 0h4m-605 7h4m10 0h4m537 0h3m214 0h3m4 0h3m-771 4h3m516 0h4m-43 7h3m182 0h3m-217 7h4m4 0h3m164 0h3m-206 7h3m164 0h4m-200 7h4m149 0h4m-932 4h4m291 0h4m423 7h4m149 0h4m7 0h3m-608 7h4m402 0h3m-32 7h7m164 0h3m-597 7h3m-345 4h4m868 0h10m-177 7h3m139 0h3m-526 7h4m-39 7h3m363 0h3m128 0h4m-167 7h3m-362 4h3m480 0h4m-736 14h3m-149 7h3m75 0h4m49 7h4m622 0h4m-694 4h4m672 0h4m-633 14h3m185 0h4m206 18h4m-271 7h4m10 0h4m228 0h3m811 0h4m7 0h3m-128 7h4m3 0h4m7 0h4m-1142 7h4m149 0h3m897 0h3m4 0h3m171 7h4m28 0h4m-1149 4h3m8 0h3m192 0h4m850 0h3m11 0h4m7 0h3m-1227 7h4m117 0h4m185 0h7m814 0h4m-1028 7h3m8 0h3m904 0h3m4 0h3m-1102 7h3m320 0h4m676 0h3m-960 4h3m104 0h3m11 0h3m239 0h3m388 0h3m160 0h8m3 0h4m-246 7h4m167 0h4m-644 7h3m577 0h3m-821 7h3"/>
<path transform="translate(0,1.5)" stroke="#ff8800" stroke-width="3" d="M437 103h4m195 7h4m-231 14h3m189 25h3m-7 11h4m-4 14h4m-171 18h3m-32 21h4m21 25h4m185 32h3m946 18h4m-28 7h10m4 0h10m-32 7h4m14 0h4m-50 7h4m21 0h3m11 0h4m-54 11h4m3 0h8m24 0h4m7 0h4m-54 7h4m11 0h3m32 0h4m-943 7h4m868 0h7m46 0h3m-967 7h4m963 0h8m-82 11h3m64 0h4m-82 7h4m74 0h4m-96 7h3m4 0h11m60 0h4m7 0h3m-10 7h3m-103 11h11m3 0h4m67 0h8m3 0h4m-100 7h4m81 0h4m-100 7h4m71 0h7m7 0h4m-18 11h4m-1099 7h3m22 0h3m967 0h8m89 0h3m-103 7h3m86 0h3m-96 7h4m75 0h3m7 0h7m4 0h4m-893 11h3m769 0h3m82 7h4m-100 7h3m89 0h4m-114 7h4m96 0h3m-654 11h3m534 7h3m93 0h7m-886 7h4m772 0h3m96 0h7m-647 7h4m526 0h11m92 0h7m-17 11h3m-110 7h3m96 0h8m-128 25h3m100 0h3m-25 14h4m-953 7h3m352 0h4m583 0h4m-793 18h3m192 0h4m576 0h4m-957 7h3m356 0h4m576 0h3m-942 7h3m932 0h4m-808 11h4m793 0h4m-804 7h3m217 0h4m565 0h4m-121 14h4m-18 11h3m104 0h3m-121 14h4m99 0h4m-121 11h4m-754 7h3m100 7h3m623 7h3m103 0h4m-121 11h4m-18 14h3m103 0h4m-722 7h4m-104 11h4m132 0h3m555 0h3m-401 7h3m-11 14h4m-203 11h4m188 7h4m366 0h4m99 0h4m-480 7h3m463 7h3m-675 32h3m633 0h7m-121 11h4m-359 14h3m7 0h4m316 7h4m-349 18h4m320 7h4m-320 7h3m398 11h4m-18 14h4m-420 7h4m384 18h3m-398 18h4m373 0h4m-157 46h4m99 0h4m-509 7h4m473 18h3m-110 7h4m-260 18h7m7 7h4m-22 7h4m11 0h3m-21 7h3m221 0h4m590 11h3m-949 7h3m114 0h4m796 0h4m-807 7h3m303 0h3m-427 7h4m402 11h3m448 7h4m-562 7h4m64 25h3m416 7h4m-808 18h4m96 0h4m-82 7h3m61 0h3m-71 7h4m686 0h4m18 0h3m-491 11h4m1102 0h4m28 0h4m-103 7h3m25 0h4m-1231 7h4m1152 0h4m-936 7h4m1028 11h3m-1052 7h3m808 0h3m4 0h7m178 0h3m-213 7h3m171 0h7m-1202 7h4m206 0h3m271 11h3m-501 7h3m911 0h7m-430 7h3m-306 7h4m263 0h4m-25 11h3m-270 7h3m-14 7h7m256 0h4m349 0h3m-793 18h4m850 0h3m-473 7h4m-313 7h3m594 0h4m-687 7h4m651 0h3m4 0h3m111 0h3m-651 11h4m597 0h4m-423 7h3m14 0h4m377 0h4m-594 7h3m555 0h4m-573 7h4m512 11h3m715 0h4m7 0h10m-188 14h4m-1103 7h4m455 0h3m-156 11h3m594 0h4m235 0h3m11 0h3m4 0h4m-1060 7h3m164 0h3m-359 7h4m167 0h3m683 0h4m-722 11h3m150 0h3m459 0h4m3 0h4m163 0h4m11 0h3m4 0h3m-825 7h4m242 0h3m502 0h3m-259 14h3"/>
<path transform="translate(0,2)" stroke="#ff8800" stroke-width="4" d="M636 113h4m-231 14h3m189 0h3m-195 4h3m189 7h3m25 25h4m-40 21h4m-4 18h4m28 0h4m-228 18h4m-4 7h4m-7 39h3m1153 18h3m-14 7h4m7 0h14m-1149 7h4m1095 0h7m22 0h3m4 0h3m4 0h3m-46 7h7m-1106 7h4m1074 0h3m11 0h4m7 0h10m8 0h3m4 0h3m7 0h4m-953 4h3m886 0h11m10 0h4m25 0h7m10 0h4m-999 7h3m904 7h3m32 0h4m-1099 7h3m1049 0h8m3 0h4m10 0h4m-932 7h4m903 0h7m57 0h4m-79 4h4m53 0h4m-68 7h4m3 0h4m64 0h3m-14 7h4m7 0h3m-92 7h4m71 0h3m-89 7h4m-1046 4h4m1035 7h3m-21 7h3m75 0h4m7 0h3m-96 7h4m78 0h4m-93 4h4m3 0h4m89 0h3m-1116 7h3m22 0h3m978 0h7m-21 7h11m-18 7h3m96 0h4m-110 7h3m-14 11h11m-15 7h4m93 0h10m-114 7h4m85 0h4m-11 7h4m-1025 4h4m921 0h7m86 0h7m-114 7h3m100 0h14m-1031 7h3m907 0h4m89 0h3m4 0h3m-1013 7h3m897 0h3m100 0h3m-113 11h7m-776 14h4m231 7h4m508 0h4m99 0h4m-818 7h3m-192 4h4m985 0h4m3 0h4m-978 7h3m861 0h4m92 0h4m-8 7h8m-986 7h4m960 0h4m-103 7h3m89 0h7m-825 4h4m231 0h3m580 0h4m-7 7h7m-594 7h3m473 0h7m-853 7h3m936 0h7m-18 7h4m-7 4h3m-572 14h3m541 14h3m-117 11h3m104 0h3m-121 7h4m-786 7h3m18 0h4m853 0h7m-885 4h3m875 0h7m-117 7h4m103 0h3m-10 7h3m-750 7h3m-128 7h4m740 4h3m-594 21h4m163 0h4m501 7h4m-523 4h4m508 0h4m-118 7h4m-562 14h4m643 0h4m-804 11h4m145 0h4m146 0h3m4 0h3m374 0h7m100 0h3m-498 7h4m380 0h4m92 7h4m-494 14h3m-7 4h4m473 0h3m-473 7h4m-196 7h4m-93 32h4m249 0h3m7 0h4m427 7h3m-587 7h4m469 0h4m-7 4h3m100 0h4m-11 7h3m-10 7h3m-430 14h4m-146 4h3m544 0h4m-121 14h4m-317 7h4m405 0h4m-416 7h3m295 4h4m103 0h4m-537 7h3m398 18h4m-11 7h4m-292 7h4m-153 7h3m153 0h4m256 7h4m92 4h4m-111 7h4m-14 7h3m100 0h3m-121 14h4m-398 11h3m473 7h4m-342 7h4m228 0h3m-249 32h4m306 0h3m498 11h4m-18 7h3m-28 7h3m-594 7h4m569 0h7m-590 11h3m555 0h7m4 0h3m-864 7h4m373 0h4m451 0h4m11 0h3m-857 21h4m71 0h3m185 11h4m501 0h7m11 0h4m-537 7h3m484 7h3m-675 7h3m672 0h4m-11 4h4m-36 14h4m-409 11h3m-256 14h4m146 0h3m1039 0h3m-1205 7h3m153 0h4m434 0h3m559 0h3m181 7h4m-1202 4h3m82 0h4m814 7h4m199 0h4m-733 7h3m-537 7h4m533 0h4m434 7h3m-853 4h3m826 0h3m-757 7h3m281 0h4m-491 7h3m1050 0h3m-210 14h4m146 0h3m-547 4h3m-473 7h4m177 0h4m249 0h4m-22 7h4m373 0h4m142 0h4m-779 7h3m-14 11h4m565 0h4m-22 7h4m124 0h7m-704 7h4m227 0h4m434 0h3m-451 7h3m-238 7h4m501 0h4m-317 4h4m-18 14h3m253 0h3m118 0h3m-405 14h3m-32 4h4m11 0h3m338 0h4m-25 7h3m705 0h3m-1280 7h3m199 0h4m-213 7h3m420 0h3m673 0h3m-708 7h4m626 0h3m303 0h3m-1291 4h4m338 0h3m93 0h3m786 0h4m-352 7h3m7 0h4m210 0h3m-288 7h7m-583 7h4m114 0h3m384 0h4m-662 4h4m245 0h4m363 0h7m3 0h4m10 0h4m-815 7h4m285 0h3m103 0h4m508 0h4m-573 14h4m445 0h3"/>
<path transform="translate(0,1.5)" stroke="#ffb800" stroke-width="3" d="M409 103h3m224 0h4m-39 32h3m-171 7h4m196 0h3m-7 25h4m-203 32h3m192 0h4m-228 32h4m181 0h4m-4 7h4m-7 18h3m-3 7h3m-7 7h4m1003 0h3m-974 7h3m950 0h7m-43 11h4m7 0h7m-21 7h7m14 0h4m14 0h4m-61 7h7m4 0h3m4 0h3m15 0h3m4 0h3m4 0h3m-53 7h11m3 0h4m18 0h7m7 0h3m-78 11h4m-1071 7h4m1063 0h4m57 0h3m-78 7h4m-1085 7h3m1071 0h3m-17 11h7m74 0h4m-85 7h3m64 0h4m-1135 7h4m1124 0h3m-960 7h3m868 0h11m78 0h4m-114 18h3m8 0h3m82 0h4m-1096 7h4m177 0h4m889 0h4m-1081 11h3m978 0h4m78 7h4m3 0h4m-11 7h4m-111 7h7m96 0h4m-1092 11h4m21 7h4m170 0h4m761 0h3m97 0h3m4 0h3m-875 7h4m-46 7h3m896 0h4m-1039 11h4m914 0h4m96 0h10m-14 7h4m-651 7h3m640 0h4m-132 18h4m103 0h4m-637 7h4m-367 7h4m121 0h3m751 0h3m100 0h3m-113 7h3m96 0h4m-978 25h3m943 7h3m-117 11h4m88 7h4m-932 14h4m149 0h4m658 0h3m100 0h3m-583 11h4m455 0h7m-658 14h4m633 7h3m103 0h4m-25 11h4m-552 7h4m540 0h4m-772 18h4m199 7h3m8 0h3m-323 7h3m843 0h4m-29 25h4m-11 7h4m-520 7h4m505 0h3m-519 11h4m498 0h3m-708 7h4m587 0h3m-711 7h4m807 0h4m-701 7h3m185 0h4m373 11h4m103 0h4m-125 14h4m-673 7h4m658 0h4m106 0h4m-758 11h4m121 0h3m502 0h3m-362 14h3m-281 32h4m74 0h4m509 0h3m-597 18h3m683 0h4m-452 39h3m292 0h4m-473 7h3m32 0h4m121 0h3m-131 7h3m527 0h3m-405 18h3m-7 7h4m-178 25h3m417 7h3m-14 11h3m-419 7h3m29 0h3m473 0h4m-132 25h4m-391 7h3m121 14h4m338 0h3m-121 18h4m-228 14h4m288 11h3m505 0h4m-25 7h4m-15 7h4m-25 7h4m-776 11h4m757 0h4m-783 7h4m729 7h4m0 7h3m-569 18h4m-11 7h4m476 7h4m-680 11h4m174 0h4m-18 14h4m74 11h4m370 0h3m648 0h3m-82 7h4m-964 7h4m924 0h4m-1181 7h4m1063 11h4m206 0h3m8 0h3m-256 7h4m192 0h3m-1248 14h3m1163 0h4m-1167 11h4m935 0h4m-470 7h4m594 0h4m-1099 32h3m423 0h4m498 7h3m-569 25h4m455 0h7m-64 14h4m-164 11h4m-562 7h3m527 0h3m107 0h7m-413 7h4m-203 18h4m174 0h4m1052 0h8m10 0h4m-1263 7h4m387 0h4m100 0h7m636 0h4m7 0h4m-1160 7h4m469 0h4m579 0h4m4 0h3m-1131 7h4m409 0h7m932 0h3m4 0h3m18 0h4m-907 11h3m477 0h3m264 0h3m-1191 7h3m295 0h4m541 0h3m235 0h3m-704 7h4m402 0h3m203 0h3m33 0h3m-1049 11h3m104 0h3m786 0h4m-239 7h4m160 0h4m-210 7h3m-451 7h3m527 0h3m11 0h3"/>
<path transform="translate(0,2)" stroke="#ffb800" stroke-width="4" d="M409 106h3m224 0h4m-36 7h4m-203 14h4m24 4h4m-32 32h4m-4 7h4m220 7h4m-232 57h4m181 0h4m-192 25h3m1171 7h7m-1000 7h4m32 0h3m918 7h4m21 0h7m-25 4h4m10 0h4m7 7h4m-32 7h3m21 0h4m-957 7h4m896 0h7m7 0h7m11 0h4m7 0h7m-71 7h3m15 0h3m7 0h4m14 0h4m-1121 4h4m1070 0h4m11 0h3m43 0h3m-67 7h3m-14 7h4m49 0h8m-1149 7h3m1135 0h3m-1116 7h3m1046 0h3m64 0h4m-1145 4h3m22 7h3m142 0h4m886 0h3m4 0h3m61 0h3m-924 7h3m918 0h7m-96 7h3m-10 7h3m75 0h4m3 0h4m-918 4h4m814 0h4m7 0h7m71 0h4m-100 7h3m86 0h7m4 0h7m-961 7h4m942 0h4m-107 7h4m99 0h4m-114 4h4m82 0h3m7 0h4m-694 7h4m579 0h8m96 0h3m-1077 7h3m953 14h4m92 0h4m-1085 11h4m21 0h4m131 0h4m907 0h7m-1053 7h4m1031 0h4m-114 7h3m0 7h4m96 0h3m-10 4h3m-1052 7h3m388 7h3m-3 7h3m530 0h4m99 0h4m-644 7h4m626 0h7m-637 4h4m-395 7h4m384 0h3m516 0h3m-889 7h4m163 0h4m192 0h7m512 0h4m96 0h11m-633 7h3m-363 7h4m121 0h3m843 0h4m-811 4h3m698 0h3m100 0h3m-615 7h4m-242 7h3m733 0h3m-860 7h3m118 0h3m-124 7h3m114 0h4m718 0h4m-495 11h4m473 0h3m100 0h4m-25 21h3m-914 4h4m106 0h4m690 0h4m-833 14h4m18 0h3m-25 7h4m341 0h4m558 0h4m-559 11h4m430 7h4m-665 7h3m754 7h4m-726 4h4m718 0h4m-871 14h3m850 0h4m-128 7h3m-633 7h4m622 0h4m106 0h7m-17 11h3m-121 7h4m-11 7h4m-729 7h3m715 0h4m103 0h3m-811 11h4m797 0h3m-121 7h4m103 0h4m-701 7h3m185 0h7m381 7h4m-676 4h3m765 7h4m-498 7h3m-281 7h4m-22 7h4m295 0h4m-14 4h3m-274 7h4m612 7h3m-537 7h4m181 0h4m-8 11h4m338 0h3m89 14h4m-633 14h3m609 0h3m-3 4h3m-448 7h4m-8 7h4m-178 18h4m583 0h4m-43 39h3m-529 7h3m-39 7h4m149 0h3m-3 18h3m356 14h4m-502 32h4m-39 4h3m128 7h4m10 0h4m235 0h3m-359 7h4m-36 7h4m362 7h4m96 0h4m-349 11h4m10 0h4m-146 7h4m28 0h4m-8 14h4m309 0h4m612 0h7m-968 4h4m117 0h4m821 0h4m-523 7h4m501 0h4m-29 7h4m3 0h4m-11 7h4m-14 7h3m-512 18h4m-292 14h4m704 0h3m11 0h4m-747 11h3m719 0h3m-715 7h4m260 0h3m430 0h4m-718 7h3m263 7h4m384 4h4m-655 7h4m249 0h3m-107 14h4m1135 4h3m14 0h4m-715 7h4m618 0h8m-644 7h3m580 0h4m-1042 7h3m85 0h4m-238 7h3m-7 4h4m1077 0h4m-953 7h3m82 0h4m832 0h4m142 7h3m-1212 7h3m206 0h4m946 0h4m-1228 7h4m50 0h3m516 4h4m594 0h3m-999 7h3m360 0h3m4 7h3m395 0h4m167 0h3m-1067 7h4m107 0h3m75 0h3m267 0h7m562 0h4m-929 7h4m327 4h4m395 0h3m149 0h4m-188 7h3m149 0h4m-548 14h4m444 7h4m-882 4h4m88 0h4m60 0h4m213 7h4m331 0h3m-718 7h3m687 0h3m-622 14h4m259 0h4m427 0h3m-423 4h3m278 0h3m-28 7h3m-305 7h3m384 0h4m-160 14h3m829 4h4m28 0h4m-1309 7h3m150 0h3m18 0h4m220 0h4m-246 7h4m320 0h3m609 0h3m-985 14h4m842 0h4m285 0h3m-946 4h4m878 0h4m3 0h4m7 0h11m-943 7h4m569 0h3m11 0h3m225 0h3m-1003 7h7m150 0h3m107 0h3m4 0h4m661 0h4m-303 7h4m-683 4h4m640 0h3m-754 7h4m338 0h3m4 0h3m516 0h4m-879 7h4m220 0h4m96 0h3m331 0h4m-466 7h3m409 0h4"/>
<path transform="translate(0,1.5)" stroke="#ffe600" stroke-width="3" d="M437 110h4m-32 7h3m224 0h4m-207 32h4m-36 57h4m217 25h3m-7 25h4m946 7h4m-15 7h4m18 0h3m-1003 7h4m957 0h3m18 0h7m7 0h7m-1159 11h3m1096 0h3m4 0h3m4 0h4m14 0h10m8 0h3m-1152 7h3m1092 0h4m14 0h4m24 0h4m4 0h3m-67 7h3m7 0h4m-1128 7h4m1138 0h4m14 0h7m-82 11h4m32 0h3m39 0h4m-93 14h4m64 0h7m-82 7h4m3 0h4m-25 11h4m92 0h4m-986 7h4m964 0h7m-100 7h4m85 0h4m-1142 7h4m1035 0h3m93 0h3m-17 11h3m4 0h3m-14 14h4m-1124 11h3m160 0h4m836 0h3m96 7h4m-118 7h4m100 0h3m-935 7h3m815 0h3m93 11h3m-921 7h4m903 0h4m3 0h4m-29 14h4m-861 18h4m199 0h3m530 0h4m107 0h3m-853 14h3m196 0h3m623 0h3m7 0h4m-1035 11h4m1017 0h3m-636 7h3m623 0h3m-636 7h3m615 7h4m-630 11h4m594 14h3m-796 7h3m-188 11h3m961 0h3m-117 7h3m-24 14h3m110 0h4m-590 18h3m-363 7h4m341 7h4m448 0h7m-676 11h4m661 0h4m103 0h4m-907 7h3m893 0h4m-121 7h3m107 0h3m-729 11h4m708 7h3m-860 14h3m295 11h4m526 0h4m-701 14h4m683 0h3m-21 18h3m-25 14h4m-11 7h7m-512 11h4m-153 14h3m139 0h4m-189 7h4m647 11h4m-481 7h4m356 0h3m-7 7h4m106 0h4m-142 25h3m93 14h3m-462 25h3m321 0h3m-11 7h4m-18 11h4m-445 7h4m138 0h4m292 0h3m-320 7h4m10 7h4m281 0h3m-295 11h4m277 0h4m-459 14h4m526 18h3m-394 7h3m7 7h4m-132 11h4m99 39h4m-7 7h3m225 0h3m100 0h3m-448 7h4m334 0h4m85 11h3m-21 14h4m-11 7h4m-317 11h4m298 0h4m508 0h4m-921 7h3m299 0h4m-210 7h3m783 0h3m-32 7h4m7 0h4m-57 18h3m18 0h4m-480 7h3m-103 7h3m-195 18h3m698 0h3m-818 7h4m366 0h4m412 7h4m-769 11h4m327 0h4m-100 7h4m-182 7h4m615 0h4m-29 11h4m651 0h3m-1259 7h4m608 0h3m-17 7h3m-455 7h4m963 0h8m-900 11h3m338 0h4m707 0h4m-1149 7h4m832 14h4m-865 11h4m384 0h4m-399 7h4m946 0h3m-1081 7h4m7 0h3m1039 0h4m-36 7h3m-921 11h4m711 0h4m-832 21h3m754 0h4m-676 11h3m630 0h4m131 0h4m-200 14h4m-334 18h7m267 0h3m114 0h7m-146 7h4m-50 14h4m99 0h4m-399 11h4m245 0h4m-430 14h3m370 0h4m103 0h7m-36 7h4m850 0h7m-900 11h4m466 0h3m295 0h4m-214 14h4m-1071 11h4m160 0h4m249 0h3m-373 7h3m331 0h4m-32 7h3m470 0h3m-203 7h4m142 0h4"/>
<path transform="translate(0,2)" stroke="#ffe600" stroke-width="4" d="M433 127h4m192 43h4m-8 25h4m-39 7h3m-167 32h4m188 14h4m982 0h3m-28 18h3m-28 7h3m4 0h7m7 0h4m-32 7h7m14 0h4m3 0h4m-54 4h7m8 0h3m7 0h4m14 0h4m-40 7h11m-11 7h8m28 0h7m-1156 7h4m1109 0h8m10 0h4m7 0h3m-60 7h4m-1117 11h3m1085 0h4m-875 7h3m857 0h8m64 0h7m10 0h4m-996 7h4m35 0h4m924 0h4m7 0h4m-943 7h4m932 0h3m-11 4h8m-100 7h4m-4 7h4m74 7h7m-967 7h3m961 0h3m-17 4h3m-100 7h4m96 7h4m-121 7h3m93 0h10m-10 4h3m-121 14h4m100 0h10m-942 7h3m815 0h7m-583 7h3m569 0h4m-11 4h7m96 0h4m3 0h7m-10 7h3m-124 14h3m-963 7h3m1049 0h4m-114 4h4m-548 7h3m633 7h8m-8 7h4m-846 7h3m-174 4h3m993 0h3m-121 7h4m114 0h3m-28 14h3m-117 7h4m3 0h4m-751 11h4m732 0h4m107 0h3m-615 7h4m490 0h4m-11 7h4m103 0h3m-611 7h3m7 0h4m-359 4h3m833 0h3m100 0h7m-946 7h3m825 0h4m-679 7h3m-46 7h4m690 7h3m100 4h3m-117 7h3m-803 14h3m889 0h4m-576 7h3m456 0h3m-786 4h4m771 0h4m92 14h8m-125 7h4m-7 4h3m-14 7h3m-3 7h3m-448 18h4m-306 7h4m135 0h3m573 0h3m107 7h4m-733 14h4m-104 4h4m132 0h3m-3 7h3m548 0h3m107 0h4m-7 7h3m-800 14h3m762 11h3m-679 7h3m555 0h4m110 0h4m-787 7h4m768 0h4m-776 11h4m100 7h3m644 0h4m-8 7h4m-477 7h4m356 0h3m103 0h4m-121 7h3m111 0h3m-469 4h3m456 0h3m-11 7h4m-466 14h4m-143 11h4m142 0h4m-263 7h3m71 0h4m487 7h4m-331 7h3m427 0h4m-14 7h3m-114 4h4m-324 7h4m409 7h3m-117 7h4m-313 11h3m-18 21h4m-157 11h4m-7 7h3m424 0h3m-434 14h4m153 4h3m232 21h3m103 0h4m-374 7h4m11 0h3m-28 18h3m-103 7h4m110 0h3m324 0h4m-480 11h3m139 0h3m306 14h4m-114 7h4m-353 7h4m-7 11h3m922 0h3m-903 21h3m79 0h3m206 0h4m558 0h7m8 0h3m-871 4h3m75 0h4m778 0h4m-590 14h3m537 0h4m-736 7h3m736 0h4m-18 7h4m-822 4h4m60 14h4m686 0h4m-424 7h4m384 7h4m-491 4h3m-10 7h3m71 14h4m352 0h4m-609 4h4m146 7h3m86 0h3m929 7h3m-622 7h3m569 0h4m-1000 7h4m82 0h3m342 0h3m513 0h3m4 0h3m231 0h4m-1344 4h3m576 0h4m725 0h4m-53 7h3m-50 7h4m-43 7h4m-1181 7h4m120 0h4m78 0h4m754 0h3m-967 4h4m199 0h3m900 0h4m-29 7h4m-978 7h3m352 0h4m398 7h4m-889 7h3m470 0h7m-370 4h3m321 7h3m14 0h4m-359 7h3m825 0h4m-765 7h4m594 0h7m-25 7h4m124 0h7m-21 4h3m-786 7h4m747 0h3m-761 7h4m-93 7h4m313 18h3m281 0h4m117 0h4m-669 7h4m519 0h4m-534 7h4m231 0h3m267 0h4m106 0h4m-381 7h4m-11 4h4m338 0h3m744 0h3m21 0h4m-797 7h4m683 0h3m-722 7h4m3 0h4m573 0h7m3 0h7m11 0h4m3 0h4m-975 7h4m14 0h4m305 0h4m566 0h3m-1102 7h3m1327 0h7m-1142 4h4m185 0h3m103 0h4m-182 14h4m765 0h3m-1056 7h4m113 0h4m256 0h4m391 0h3m192 0h4m25 0h3m-277 4h4m-637 7h3m591 0h3m-110 14h4m3 0h7"/>
</g>
<path d="M339.3 532H1738.5" stroke="#000" stroke-width="7.7" stroke-linecap="round" stroke-dasharray="24.4 35.32" fill="none"/>
<rect x="341.1" y="98.2" width="1428.0" height="1370.3999999999999" fill="none" stroke="#000" stroke-width="5.8" stroke-linejoin="round"/>
<path d="M339.2 1329.3H315.1M486.0 1470.5V1495.4M339.2 1063.7H315.1M762.8 1470.5V1495.4M339.2 798.0H315.1M1039.6 1470.5V1495.4M339.2 532.4H315.1M1316.4 1470.5V1495.4M339.2 266.8H315.1M1593.2 1470.5V1495.4" stroke="#000" stroke-width="6.2" stroke-linecap="round" fill="none"/>
<g class="s" font-size="58.5" fill="#000" stroke="#000" stroke-width="0.9">
<text x="293.6" y="1347.7" text-anchor="end" textLength="96.1" lengthAdjust="spacingAndGlyphs">600</text>
<text x="293.6" y="1082.1" text-anchor="end" textLength="96.1" lengthAdjust="spacingAndGlyphs">700</text>
<text x="293.6" y="816.4" text-anchor="end" textLength="96.1" lengthAdjust="spacingAndGlyphs">800</text>
<text x="293.6" y="550.8" text-anchor="end" textLength="96.1" lengthAdjust="spacingAndGlyphs">900</text>
<text x="293.6" y="285.2" text-anchor="end" textLength="128.2" lengthAdjust="spacingAndGlyphs">1000</text>
<text transform="translate(507.2,1512.5) rotate(-90)" font-size="59.5" text-anchor="end" textLength="96.8" lengthAdjust="spacingAndGlyphs">600</text>
<text transform="translate(784.0,1512.5) rotate(-90)" font-size="59.5" text-anchor="end" textLength="96.8" lengthAdjust="spacingAndGlyphs">700</text>
<text transform="translate(1060.8,1512.5) rotate(-90)" font-size="59.5" text-anchor="end" textLength="96.8" lengthAdjust="spacingAndGlyphs">800</text>
<text transform="translate(1337.6,1512.5) rotate(-90)" font-size="59.5" text-anchor="end" textLength="96.8" lengthAdjust="spacingAndGlyphs">900</text>
<text transform="translate(1614.4,1512.5) rotate(-90)" font-size="59.5" text-anchor="end" textLength="129.1" lengthAdjust="spacingAndGlyphs">1000</text>
</g>
<g class="r" fill="#000">
<text transform="translate(85,882.3) rotate(-90)" font-size="72"><tspan class="i">I</tspan><tspan font-size="43" dy="25">p2</tspan><tspan dy="-25">, µA</tspan></text>
<text x="956" y="1679.3" font-size="72"><tspan class="i">I</tspan><tspan font-size="43" dy="25">p1</tspan><tspan dy="-25">, µA</tspan></text>
<text x="892.5" y="481.6" font-size="70.3"><tspan class="i">I</tspan><tspan font-size="42" dy="24.6">p2</tspan><tspan dy="-24.6">=const</tspan></text>
<text x="1884" y="71.4" font-size="72"><tspan class="i">η</tspan>, <tspan dx="-3.5">%</tspan></text>
</g>
<g shape-rendering="crispEdges">
<rect x="1877.7" y="143.80" width="98.8" height="43.47" fill="#780000"/>
<rect x="1877.7" y="186.67" width="98.8" height="43.47" fill="#960000"/>
<rect x="1877.7" y="229.53" width="98.8" height="43.47" fill="#b40000"/>
<rect x="1877.7" y="272.40" width="98.8" height="43.47" fill="#d20000"/>
<rect x="1877.7" y="315.27" width="98.8" height="43.47" fill="#f00000"/>
<rect x="1877.7" y="358.13" width="98.8" height="43.47" fill="#ff0000"/>
<rect x="1877.7" y="401.00" width="98.8" height="43.47" fill="#ff0000"/>
<rect x="1877.7" y="443.87" width="98.8" height="43.47" fill="#ff0000"/>
<rect x="1877.7" y="486.73" width="98.8" height="43.47" fill="#ff0000"/>
<rect x="1877.7" y="529.60" width="98.8" height="43.47" fill="#ff0000"/>
<rect x="1877.7" y="572.47" width="98.8" height="43.47" fill="#ff0800"/>
<rect x="1877.7" y="615.33" width="98.8" height="43.47" fill="#ff5000"/>
<rect x="1877.7" y="658.20" width="98.8" height="43.47" fill="#ff8800"/>
<rect x="1877.7" y="701.07" width="98.8" height="43.47" fill="#ffb800"/>
<rect x="1877.7" y="743.93" width="98.8" height="43.47" fill="#ffe600"/>
<rect x="1877.7" y="786.80" width="98.8" height="43.47" fill="#ecff00"/>
<rect x="1877.7" y="829.67" width="98.8" height="43.47" fill="#b0ff00"/>
<rect x="1877.7" y="872.53" width="98.8" height="43.47" fill="#5aff00"/>
<rect x="1877.7" y="915.40" width="98.8" height="43.47" fill="#00ff00"/>
<rect x="1877.7" y="958.27" width="98.8" height="43.47" fill="#00ff00"/>
<rect x="1877.7" y="1001.13" width="98.8" height="43.47" fill="#00fb00"/>
<rect x="1877.7" y="1044.00" width="98.8" height="43.47" fill="#00ffe0"/>
<rect x="1877.7" y="1086.87" width="98.8" height="43.47" fill="#00d0ff"/>
<rect x="1877.7" y="1129.73" width="98.8" height="43.47" fill="#0090ff"/>
<rect x="1877.7" y="1172.60" width="98.8" height="43.47" fill="#0048ff"/>
<rect x="1877.7" y="1215.47" width="98.8" height="43.47" fill="#1a00ff"/>
<rect x="1877.7" y="1258.33" width="98.8" height="43.47" fill="#6a00ff"/>
<rect x="1877.7" y="1301.20" width="98.8" height="43.47" fill="#9000e0"/>
<rect x="1877.7" y="1344.07" width="98.8" height="43.47" fill="#9800a8"/>
<rect x="1877.7" y="1386.93" width="98.8" height="43.47" fill="#7a0068"/>
</g>
<rect x="1877.7" y="101.4" width="98.8" height="1371.0" fill="none" stroke="#000" stroke-width="4.6"/>
<path d="M1978.5 143.80H2002.3M1978.5 186.67H2002.3M1978.5 229.53H2002.3M1978.5 272.40H2002.3M1978.5 315.27H2002.3M1978.5 358.13H2002.3M1978.5 401.00H2002.3M1978.5 443.87H2002.3M1978.5 486.73H2002.3M1978.5 529.60H2002.3M1978.5 572.47H2002.3M1978.5 615.33H2002.3M1978.5 658.20H2002.3M1978.5 701.07H2002.3M1978.5 743.93H2002.3M1978.5 786.80H2002.3M1978.5 829.67H2002.3M1978.5 872.53H2002.3M1978.5 915.40H2002.3M1978.5 958.27H2002.3M1978.5 1001.13H2002.3M1978.5 1044.00H2002.3M1978.5 1086.87H2002.3M1978.5 1129.73H2002.3M1978.5 1172.60H2002.3M1978.5 1215.47H2002.3M1978.5 1258.33H2002.3M1978.5 1301.20H2002.3M1978.5 1344.07H2002.3M1978.5 1386.93H2002.3M1978.5 1429.80H2002.3" stroke="#000" stroke-width="5.4" stroke-linecap="round" fill="none"/>
<g class="s" font-size="37.8" fill="#000" stroke="#000" stroke-width="0.7">
<text x="2016.6" y="157.1">100</text>
<text x="2016.6" y="200.0">99.7</text>
<text x="2016.6" y="242.8">99.3</text>
<text x="2016.6" y="285.7">99.0</text>
<text x="2016.6" y="328.6">98.7</text>
<text x="2016.6" y="371.4">98.3</text>
<text x="2016.6" y="414.3">98.0</text>
<text x="2016.6" y="457.2">97.7</text>
<text x="2016.6" y="500.0">97.3</text>
<text x="2016.6" y="542.9">97.0</text>
<text x="2016.6" y="585.8">96.7</text>
<text x="2016.6" y="628.6">96.3</text>
<text x="2016.6" y="671.5">96.0</text>
<text x="2016.6" y="714.4">95.7</text>
<text x="2016.6" y="757.2">95.3</text>
<text x="2016.6" y="800.1">95.0</text>
<text x="2016.6" y="843.0">94.7</text>
<text x="2016.6" y="885.8">94.3</text>
<text x="2016.6" y="928.7">94.0</text>
<text x="2016.6" y="971.6">93.7</text>
<text x="2016.6" y="1014.4">93.3</text>
<text x="2016.6" y="1057.3">93.0</text>
<text x="2016.6" y="1100.2">92.7</text>
<text x="2016.6" y="1143.0">92.3</text>
<text x="2016.6" y="1185.9">92.0</text>
<text x="2016.6" y="1228.8">91.7</text>
<text x="2016.6" y="1271.6">91.3</text>
<text x="2016.6" y="1314.5">91.0</text>
<text x="2016.6" y="1357.4">90.7</text>
<text x="2016.6" y="1400.2">90.3</text>
<text x="2016.6" y="1443.1">90.0</text>
</g>
<text class="r" y="1822.5" font-size="86.5" fill="#000"><tspan x="1022.2">(</tspan><tspan x="1051.2" class="b">b</tspan><tspan x="1100.2">)</tspan></text>
<path d="M387.4 1916.2V3258.9H2056.3" stroke="#000" stroke-width="6.6" stroke-linejoin="miter" fill="none"/>
<path d="M387.4 3259.2H361.5M387.4 3125.2H374.2M387.4 2991.2H361.5M387.4 2857.3H374.2M387.4 2723.3H361.5M387.4 2589.3H374.2M387.4 2455.3H361.5M387.4 2321.3H374.2M387.4 2187.4H361.5M387.4 2053.4H374.2M387.4 1919.4H361.5M387.0 3258.9V3271.1M550.0 3258.9V3284.4M713.0 3258.9V3271.1M876.0 3258.9V3284.4M1039.1 3258.9V3271.1M1202.1 3258.9V3284.4M1365.1 3258.9V3271.1M1528.2 3258.9V3284.4M1691.2 3258.9V3271.1M1854.2 3258.9V3284.4M2017.2 3258.9V3271.1" stroke="#000" stroke-width="6.4" stroke-linecap="round" fill="none"/>
<path d="M390.8 3110 391.1 2996.7 393.6 2857.8 396.4 2718.9 399.2 2580 402.8 2445.6 406.1 2306.7 409.2 2167.8 411.7 2056.7 415.8 1981.7 420 1955.3 432.5 1923.3 440.8 1942.8 446.4 1973.3 449.2 2028.9 451.9 2112.2 454.7 2223.3 456.7 2334.4 458.9 2445.6 461.1 2590 463.1 2663.3 464.4 2746.7 465.8 2830 467.2 2913.3 468.6 2996.7 470.6 3088.3 474.4 2864.7 476.9 2941.1 479.7 3013.3 482.5 3046.7 486.7 3063.3 489.4 3052.2 491.7 2982.8 495.6 2960.6 498.3 3028.6 501.9 3024.4 506.1 3002.2 507.5 2941.1 508.9 2830 510.3 2718.9 512.2 2649.4 515.8 2634.2 518.6 2639.7 520 2691.1 522.2 2746.7 524.2 2860.6 526.9 2860.6 528.9 2757.8 531.1 2760.6 533.3 2830 535.3 2913.3 537.5 2996.7 539.4 3080 540.8 3135.6 542.2 3191.1 546.4 3191.1 550.6 3182.8 553.3 3149.4 556.1 3107.8 558.9 3024.4 561.7 2941.1 564.4 2830 567.2 2718.9 568.6 2635.6 570 2580 572.8 2445.6 576.1 2306.7 579.7 2167.8 585.3 2056.7 590.8 1987.2 600.6 1937.2 607.5 1924.7 622.8 1922.8 628.3 1935.8 633.9 1941.4 638.1 1962.2 641.7 2001.1 645 2056.7 647.8 2140 651.1 2251.1 653.3 2362.2 656.1 2473.3 657.2 2590 658.3 2663.3 660.3 2746.7 662.2 2830 664.4 2913.3 666.7 2996.7 669.4 3080 674.2 3135.6 679.7 3177.2 683.3 3202.2 685.3 3163.3 686.1 3080 686.7 2996.7 687.2 2913.3 688.1 2836.9 689.4 2857.8 691.7 2946.7 693.6 2941.1 695 2830 695.6 2763.3 697.8 2761.9 700 2849.4 701.9 2849.4 705 2768.9 706.9 2802.2 708.3 2857.8 710.6 2913.3 712.5 2968.9 714.4 3010.6 716.7 3030 720.8 3018.9 723.6 2968.9 725.6 2942.5 729.2 2968.9 731.9 2993.9 733.9 2993.9 735.6 2941.1 737.5 2875.8 739.4 2875.8 741.1 2941.1 741.7 3064.7 744.4 3060.6 747.8 3052.2 749.4 2982.8 754.2 2973.1 756.9 2999.4 759.7 2999.4 763.3 2959.2 765.3 2968.9 768.1 3024.4 771.7 3080 774.4 3127.2 780.6 3131.4 783.3 3080 786.1 2996.7 788.3 2941.1 791.1 2885.6 794.4 2885.6 798.6 2893.9 801.4 2941.1 804.2 3007.8 806.4 3007.8 807.5 2913.3 808.9 2841.1 810.3 2913.3 811.7 3024.4 812.5 3135.6 813.9 3166.1 816.7 3135.6 820.8 3107.8 826.4 3080 830.6 3024.4 833.3 2941.1 836.1 2830 838.9 2718.9 841.7 2635.6 842.5 2580 844.4 2473.3 846.4 2362.2 848.6 2251.1 851.4 2167.8 854.2 2112.2 859.7 2056.7 863.9 2001.1 865.8 1973.3 867.5 1958.1 870 1973.3 872.2 1987.2 880.6 1998.3 881.9 2028.9 882.8 2070.6 884.7 2112.2 888.9 2153.9 890.3 2223.3 891.7 2306.7 893.6 2390 895.8 2473.3 897.8 2528.9 899.4 2590 901.4 2635.6 904.2 2718.9 906.9 2802.2 909.7 2885.6 912.5 2968.9 913.9 2988.3 918.9 2968.9 922.2 3052.2 926.4 3124.4 928.3 3024.4 930.6 2913.3 933.3 2802.2 937.5 2691.1 940.6 2607.8 941.1 2556.7 942.8 2553.9 945.8 2562.2 950 2578.9 952.8 2559.4 956.1 2559.4 957.8 2590 959.7 2635.6 963.3 2718.9 966.1 2802.2 968.1 2885.6 970 2968.9 972.2 3017.5 976.4 3017.5 980.6 2996.7 984.7 2968.9 987.5 2953.6 990.3 2968.9 991.7 2993.9 994.4 2991.1 998.6 2955 1002.8 2913.3 1005.6 2891.1 1009.7 2882.8 1012.5 2893.9 1015.3 2927.2 1017.2 2970.3 1019.4 2970.3 1021.7 2935.6 1023.6 2941.1 1025.6 2996.7 1030.6 2999.4 1034.7 3010.6 1037.5 3045.3 1039.4 3045.3 1040.6 2941.1 1041.1 2830 1042.2 2731.4 1045.3 2735.6 1048.1 2771.7 1050.8 2749.4 1052.2 2802.2 1053.6 2885.6 1055 2923.1 1057.8 2913.3 1060.6 2899.4 1063.3 2830 1066.1 2746.7 1068.9 2702.2 1074.4 2680 1077.2 2635.6 1079.4 2593.9 1081.4 2596.7 1084.2 2635.6 1086.9 2668.9 1092.5 2696.7 1095.3 2746.7 1098.1 2802.2 1100.8 2857.8 1102.8 2913.3 1105 2963.3 1109.2 2996.7 1113.3 3038.3 1117.5 3074.4 1121.7 3088.3 1124.4 3074.4 1127.2 3024.4 1128.6 2968.9 1130 2927.2 1134.2 2896.7 1136.9 2821.7 1141.1 2821.7 1146.7 2839.7 1149.4 2816.1 1150.8 2785.6 1156.4 2777.2 1157.8 2802.2 1160.6 2843.9 1164.7 2857.8 1168.9 2868.9 1170.3 2843.9 1173.1 2802.2 1177.2 2774.4 1180 2752.2 1185 2739.7 1186.9 2774.4 1188.3 2816.1 1191.1 2816.1 1192.5 2768.9 1195.3 2768.9 1196.7 2802.2 1198.1 2838.3 1202.2 2855 1205.6 2866.1 1207.8 2830 1209.2 2792.5 1211.9 2792.5 1213.3 2842.5 1215.6 2842.5 1216.7 2774.4 1218.3 2731.4 1220.3 2731.4 1221.7 2774.4 1223.1 2816.1 1228.6 2821.7 1230 2850.8 1232.8 2850.8 1235 2827.2 1236.9 2857.8 1238.9 2885.6 1241.1 2880 1243.9 2830 1246.1 2791.1 1248.1 2791.1 1250.8 2855 1253.6 2855 1255.6 2823.1 1257.8 2824.4 1261.9 2843.9 1266.1 2866.1 1268.9 2885.6 1269.4 2941.1 1270 3052.2 1270.6 3163.3 1271.7 3216.1 1273.1 3191.1 1274.4 3052.2 1275.8 2910.6 1277.8 2910.6 1278.6 2996.7 1279.4 3135.6 1280 3210.6 1284.2 3209.2 1291.1 3202.2 1298.1 3206.4 1300.8 3191.1 1305 3186.9 1311.9 3186.9 1313.3 3174.4 1317.5 3180 1323.1 3180 1325.8 3164.7 1328.6 3166.1 1332.8 3171.7 1336.9 3171.7 1339.7 3157.8 1342.5 3135.6 1346.7 3121.7 1352.2 3118.9 1357.8 3118.9 1359.2 3093.9 1363.3 3052.2 1366.1 3024.4 1368.9 2968.9 1372.2 2913.3 1375.8 2857.8 1378.6 2802.2 1382.2 2746.7 1385 2691.1 1387.8 2649.4 1391.9 2616.1 1394.7 2580 1399.4 2528.9 1403.9 2473.3 1407.2 2417.8 1409.4 2362.2 1414.7 2306.7 1421.7 2251.1 1428.1 2195.6 1434.4 2140 1439.2 2112.2 1444.7 2078.9 1451.7 2059.4 1454.4 2028.9 1458.6 2001.1 1462.8 1984.4 1469.7 1978.9 1471.1 1965 1476.7 1959.4 1482.2 1953.9 1489.2 1941.4 1501.7 1941.4 1510 1935.8 1514.2 1938.6 1519.7 1931.7 1523.9 1931.7 1528.1 1924.7 1535 1927.5 1543.3 1935.8 1548.9 1924.7 1551.7 1931.7 1557.2 1931.7 1558.6 1941.4 1568.3 1941.4 1573.9 1951.1 1575.3 1970.6 1578.1 1970.6 1579.4 1959.4 1582.2 1960.8 1585 1978.9 1590.6 1992.8 1596.1 2002.5 1603.1 1999.7 1607.2 2015 1610 2034.4 1612.8 2053.9 1615.6 2056.7 1619.7 2045.6 1621.1 2084.4 1622.5 2112.2 1628.1 2115 1630 2140 1632.2 2156.7 1636.4 2167.8 1639.2 2195.6 1641.9 2223.3 1643.3 2234.4 1648.9 2227.5 1650.3 2251.1 1651.7 2273.3 1657.2 2287.2 1658.6 2334.4 1661.4 2362.2 1664.2 2390 1666.9 2406.7 1669.7 2417.8 1673.9 2412.2 1675.3 2473.3 1676.7 2528.9 1679.4 2570.6 1679.4 2580 1680.8 2610.6 1683.6 2613.3 1685.6 2585.6 1687.8 2588.3 1688.3 2635.6 1690 2680 1694.7 2688.3 1696.9 2718.9 1699.7 2774.4 1702.2 2830 1704.4 2857.8 1708.9 2913.3 1712.2 2941.1 1715.6 2968.9 1718.3 3007.8 1723.9 3016.1 1726.1 3038.3 1731.7 3066.1 1734.4 3093.9 1738.6 3118.9 1748.3 3123.1 1752.5 3130 1756.7 3143.9 1761.7 3145.3 1765 3160.6 1770 3166.1 1777.5 3156.4 1783.1 3156.4 1785.8 3174.4 1788.6 3163.3 1791.4 3152.2 1794.2 3171.7 1799.7 3175.8 1802.5 3184.2 1812.2 3182.8 1817.8 3191.1 1824.7 3182.8 1828.9 3189.7 1835.8 3199.4 1845.6 3191.1 1852.5 3191.1 1856.7 3202.2 1860.8 3205 1865.6 3199.4 1870.6 3209.2 1877.5 3210.6 1884.4 3206.4 1890 3214.7 1898.3 3214.7 1903.9 3217.5 1912.2 3216.1 1916.4 3213.3 1926.1 3216.1 1928.9 3221.7 1935.8 3220.3 1941.4 3224.4 1948.3 3220.3 1952.5 3221.7 1958.1 3227.2 1969.2 3227.2 1974.7 3231.4 1980.3 3228.6 1985.8 3230 1992.8 3230 1996.9 3227.2 1999.7 3227.2 2000.6 3163.3 2001.7 3052.2 2002.5 2966.1 2005.3 2966.1 2008.1 2977.2 2012.2 2977.2 2015 2959.2 2017.2 2959.2 2018.3 3052.2 2019.2 3163.3 2020 3225.8 2021.1 3163.3 2022.8 3052.2 2024.7 2977.2 2027.5 2967.5 2031.7 2974.4 2035.8 2989.7 2040 2985.6 2042.8 2980 2044.2 2949.4 2046.9 2946.7 2049.7 2982.8 2052.5 2943.9" stroke="#0000ff" stroke-width="8" stroke-linejoin="round" stroke-linecap="round" fill="none"/>
<path d="M388.3 2052.4H2040" stroke="#000" stroke-width="5" stroke-linecap="round" stroke-dasharray="15 17.69" fill="none"/>
<g class="s" font-size="57" fill="#000" stroke="#000" stroke-width="0.4">
<text x="343.7" y="3276.4" text-anchor="end">0</text>
<text x="343.7" y="3008.4" text-anchor="end">20</text>
<text x="343.7" y="2740.5" text-anchor="end">40</text>
<text x="343.7" y="2472.5" text-anchor="end">60</text>
<text x="343.7" y="2204.6" text-anchor="end">80</text>
<text x="343.7" y="1936.6" text-anchor="end">100</text>
<text x="551.6" y="3348" text-anchor="middle">600</text>
<text x="877.6" y="3348" text-anchor="middle">700</text>
<text x="1203.7" y="3348" text-anchor="middle">800</text>
<text x="1529.8" y="3348" text-anchor="middle">900</text>
<text x="1855.8" y="3348" text-anchor="middle">1000</text>
</g>
<g class="r" fill="#000">
<text transform="translate(169,2615) rotate(-90)" font-size="72" class="i">η, %</text>
<text x="1123" y="3460.9" font-size="71"><tspan class="i">I</tspan><tspan font-size="42" dy="24.6">p1</tspan><tspan dy="-24.6">, µA</tspan></text>
<text y="2009.7" font-size="68"><tspan class="i" x="1138" textLength="38" lengthAdjust="spacingAndGlyphs">η</tspan><tspan x="1168.2" y="2004.6" font-size="60" textLength="50" lengthAdjust="spacingAndGlyphs">=</tspan><tspan class="i" x="1219" y="2009.7" textLength="38" lengthAdjust="spacingAndGlyphs">η</tspan><tspan x="1255.7" y="2034.3" font-size="40.5">th</tspan></text>
<text y="3623.5" font-size="86.5"><tspan x="1029.1">(</tspan><tspan x="1057" class="b">c</tspan><tspan x="1093.5">)</tspan></text>
</g>
</svg></body></html>
